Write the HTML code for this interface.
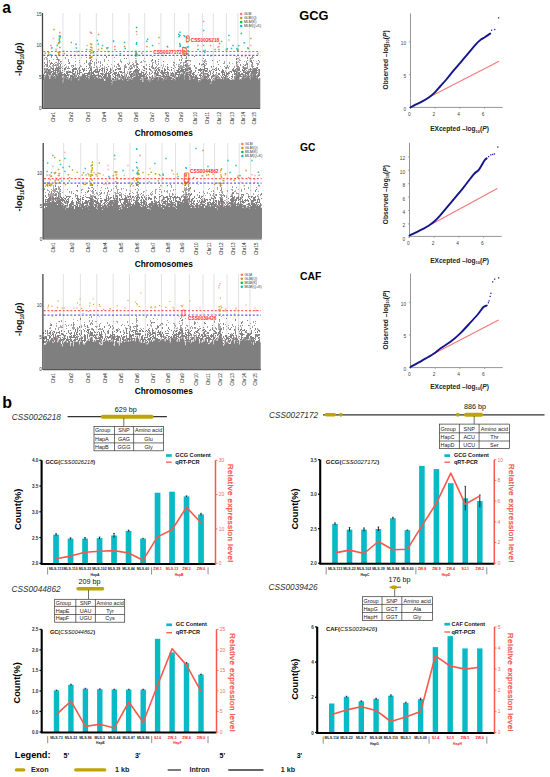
<!DOCTYPE html>
<html><head><meta charset="utf-8"><style>
html,body{margin:0;padding:0;background:#fff;}
svg{display:block;}
text{font-family:"Liberation Sans",sans-serif;}
</style></head><body>
<svg width="550" height="777" viewBox="0 0 550 777">
<rect width="550" height="777" fill="#fff"/>
<text x="2.3" y="13.2" font-size="15.6" font-weight="bold" font-style="normal" fill="#000" text-anchor="start" >a</text>
<text x="2.2" y="408.0" font-size="16" font-weight="bold" font-style="normal" fill="#000" text-anchor="start" >b</text>
<line x1="62.89999999999999" y1="13" x2="62.89999999999999" y2="108" stroke="#d9d9d9" stroke-width="0.8"/>
<line x1="79.9" y1="13" x2="79.9" y2="108" stroke="#d9d9d9" stroke-width="0.8"/>
<line x1="96.3" y1="13" x2="96.3" y2="108" stroke="#d9d9d9" stroke-width="0.8"/>
<line x1="112.7" y1="13" x2="112.7" y2="108" stroke="#d9d9d9" stroke-width="0.8"/>
<line x1="129.0" y1="13" x2="129.0" y2="108" stroke="#d9d9d9" stroke-width="0.8"/>
<line x1="144.7" y1="13" x2="144.7" y2="108" stroke="#d9d9d9" stroke-width="0.8"/>
<line x1="160.9" y1="13" x2="160.9" y2="108" stroke="#d9d9d9" stroke-width="0.8"/>
<line x1="174.4" y1="13" x2="174.4" y2="108" stroke="#d9d9d9" stroke-width="0.8"/>
<line x1="188.8" y1="13" x2="188.8" y2="108" stroke="#d9d9d9" stroke-width="0.8"/>
<line x1="202.39999999999998" y1="13" x2="202.39999999999998" y2="108" stroke="#d9d9d9" stroke-width="0.8"/>
<line x1="213.3" y1="13" x2="213.3" y2="108" stroke="#d9d9d9" stroke-width="0.8"/>
<line x1="226.4" y1="13" x2="226.4" y2="108" stroke="#d9d9d9" stroke-width="0.8"/>
<line x1="237.9" y1="13" x2="237.9" y2="108" stroke="#d9d9d9" stroke-width="0.8"/>
<line x1="249.3" y1="13" x2="249.3" y2="108" stroke="#d9d9d9" stroke-width="0.8"/>
<path d="M43.3,108.0 L43.3,79.2 L44.3,79.2 L44.3,76.6 L45.3,76.6 L45.3,74.4 L46.3,74.4 L46.3,72.5 L47.3,72.5 L47.3,72.1 L48.3,72.1 L48.3,75.4 L49.3,75.4 L49.3,78.7 L50.3,78.7 L50.3,75.4 L51.3,75.4 L51.3,74.3 L52.3,74.3 L52.3,75.5 L53.3,75.5 L53.3,76.6 L54.3,76.6 L54.3,78.4 L55.3,78.4 L55.3,75.1 L56.3,75.1 L56.3,75.9 L57.3,75.9 L57.3,72.2 L58.3,72.2 L58.3,72.7 L59.3,72.7 L59.3,69.5 L60.3,69.5 L60.3,71.4 L61.3,71.4 L61.3,77.2 L62.3,77.2 L62.3,82.6 L63.3,82.6 L63.3,76.7 L64.3,76.7 L64.3,77.4 L65.3,77.4 L65.3,78.3 L66.3,78.3 L66.3,78.6 L67.3,78.6 L67.3,80.0 L68.3,80.0 L68.3,78.7 L69.3,78.7 L69.3,80.8 L70.3,80.8 L70.3,80.7 L71.3,80.7 L71.3,76.8 L72.3,76.8 L72.3,76.0 L73.3,76.0 L73.3,75.5 L74.3,75.5 L74.3,77.5 L75.3,77.5 L75.3,74.3 L76.3,74.3 L76.3,77.9 L77.3,77.9 L77.3,81.0 L78.3,81.0 L78.3,79.5 L79.3,79.5 L79.3,76.1 L80.3,76.1 L80.3,76.6 L81.3,76.6 L81.3,75.6 L82.3,75.6 L82.3,76.3 L83.3,76.3 L83.3,77.0 L84.3,77.0 L84.3,78.8 L85.3,78.8 L85.3,77.5 L86.3,77.5 L86.3,76.4 L87.3,76.4 L87.3,75.1 L88.3,75.1 L88.3,79.3 L89.3,79.3 L89.3,75.6 L90.3,75.6 L90.3,72.0 L91.3,72.0 L91.3,74.4 L92.3,74.4 L92.3,76.0 L93.3,76.0 L93.3,76.4 L94.3,76.4 L94.3,78.5 L95.3,78.5 L95.3,77.2 L96.3,77.2 L96.3,76.7 L97.3,76.7 L97.3,79.2 L98.3,79.2 L98.3,78.0 L99.3,78.0 L99.3,77.5 L100.3,77.5 L100.3,78.7 L101.3,78.7 L101.3,78.0 L102.3,78.0 L102.3,77.0 L103.3,77.0 L103.3,80.4 L104.3,80.4 L104.3,81.0 L105.3,81.0 L105.3,77.2 L106.3,77.2 L106.3,75.4 L107.3,75.4 L107.3,76.9 L108.3,76.9 L108.3,77.3 L109.3,77.3 L109.3,76.8 L110.3,76.8 L110.3,77.3 L111.3,77.3 L111.3,84.2 L112.3,84.2 L112.3,80.6 L113.3,80.6 L113.3,80.4 L114.3,80.4 L114.3,78.9 L115.3,78.9 L115.3,80.6 L116.3,80.6 L116.3,77.6 L117.3,77.6 L117.3,77.5 L118.3,77.5 L118.3,79.7 L119.3,79.7 L119.3,79.3 L120.3,79.3 L120.3,76.1 L121.3,76.1 L121.3,78.6 L122.3,78.6 L122.3,80.2 L123.3,80.2 L123.3,79.3 L124.3,79.3 L124.3,73.2 L125.3,73.2 L125.3,76.7 L126.3,76.7 L126.3,78.9 L127.3,78.9 L127.3,80.7 L128.3,80.7 L128.3,77.1 L129.3,77.1 L129.3,78.8 L130.3,78.8 L130.3,78.5 L131.3,78.5 L131.3,79.7 L132.3,79.7 L132.3,77.9 L133.3,77.9 L133.3,76.3 L134.3,76.3 L134.3,77.0 L135.3,77.0 L135.3,72.4 L136.3,72.4 L136.3,72.0 L137.3,72.0 L137.3,73.6 L138.3,73.6 L138.3,78.1 L139.3,78.1 L139.3,78.4 L140.3,78.4 L140.3,79.9 L141.3,79.9 L141.3,77.4 L142.3,77.4 L142.3,81.9 L143.3,81.9 L143.3,77.1 L144.3,77.1 L144.3,77.6 L145.3,77.6 L145.3,79.2 L146.3,79.2 L146.3,78.3 L147.3,78.3 L147.3,81.1 L148.3,81.1 L148.3,79.2 L149.3,79.2 L149.3,81.4 L150.3,81.4 L150.3,78.3 L151.3,78.3 L151.3,77.6 L152.3,77.6 L152.3,79.8 L153.3,79.8 L153.3,77.0 L154.3,77.0 L154.3,77.7 L155.3,77.7 L155.3,75.5 L156.3,75.5 L156.3,76.7 L157.3,76.7 L157.3,80.3 L158.3,80.3 L158.3,76.4 L159.3,76.4 L159.3,76.8 L160.3,76.8 L160.3,78.1 L161.3,78.1 L161.3,77.4 L162.3,77.4 L162.3,80.2 L163.3,80.2 L163.3,78.6 L164.3,78.6 L164.3,76.1 L165.3,76.1 L165.3,79.2 L166.3,79.2 L166.3,76.8 L167.3,76.8 L167.3,77.0 L168.3,77.0 L168.3,77.5 L169.3,77.5 L169.3,77.1 L170.3,77.1 L170.3,76.6 L171.3,76.6 L171.3,80.0 L172.3,80.0 L172.3,77.7 L173.3,77.7 L173.3,79.6 L174.3,79.6 L174.3,80.2 L175.3,80.2 L175.3,75.9 L176.3,75.9 L176.3,76.9 L177.3,76.9 L177.3,78.2 L178.3,78.2 L178.3,77.3 L179.3,77.3 L179.3,75.2 L180.3,75.2 L180.3,73.9 L181.3,73.9 L181.3,72.7 L182.3,72.7 L182.3,73.7 L183.3,73.7 L183.3,79.7 L184.3,79.7 L184.3,74.8 L185.3,74.8 L185.3,72.2 L186.3,72.2 L186.3,71.6 L187.3,71.6 L187.3,71.8 L188.3,71.8 L188.3,75.9 L189.3,75.9 L189.3,79.7 L190.3,79.7 L190.3,76.8 L191.3,76.8 L191.3,77.1 L192.3,77.1 L192.3,78.0 L193.3,78.0 L193.3,79.1 L194.3,79.1 L194.3,76.0 L195.3,76.0 L195.3,80.2 L196.3,80.2 L196.3,80.2 L197.3,80.2 L197.3,80.4 L198.3,80.4 L198.3,81.4 L199.3,81.4 L199.3,81.0 L200.3,81.0 L200.3,79.2 L201.3,79.2 L201.3,77.0 L202.3,77.0 L202.3,78.6 L203.3,78.6 L203.3,75.9 L204.3,75.9 L204.3,72.7 L205.3,72.7 L205.3,78.4 L206.3,78.4 L206.3,78.5 L207.3,78.5 L207.3,79.4 L208.3,79.4 L208.3,80.8 L209.3,80.8 L209.3,81.4 L210.3,81.4 L210.3,83.7 L211.3,83.7 L211.3,81.1 L212.3,81.1 L212.3,79.1 L213.3,79.1 L213.3,81.1 L214.3,81.1 L214.3,77.5 L215.3,77.5 L215.3,74.1 L216.3,74.1 L216.3,78.1 L217.3,78.1 L217.3,78.7 L218.3,78.7 L218.3,77.1 L219.3,77.1 L219.3,78.6 L220.3,78.6 L220.3,80.2 L221.3,80.2 L221.3,80.8 L222.3,80.8 L222.3,80.1 L223.3,80.1 L223.3,78.6 L224.3,78.6 L224.3,79.0 L225.3,79.0 L225.3,79.6 L226.3,79.6 L226.3,75.7 L227.3,75.7 L227.3,79.0 L228.3,79.0 L228.3,80.0 L229.3,80.0 L229.3,80.0 L230.3,80.0 L230.3,79.8 L231.3,79.8 L231.3,79.7 L232.3,79.7 L232.3,78.7 L233.3,78.7 L233.3,79.8 L234.3,79.8 L234.3,77.8 L235.3,77.8 L235.3,75.3 L236.3,75.3 L236.3,75.1 L237.3,75.1 L237.3,69.6 L238.3,69.6 L238.3,73.1 L239.3,73.1 L239.3,79.5 L240.3,79.5 L240.3,80.1 L241.3,80.1 L241.3,77.8 L242.3,77.8 L242.3,75.6 L243.3,75.6 L243.3,78.2 L244.3,78.2 L244.3,76.8 L245.3,76.8 L245.3,77.6 L246.3,77.6 L246.3,74.8 L247.3,74.8 L247.3,75.7 L248.3,75.7 L248.3,75.7 L249.3,75.7 L249.3,79.8 L250.3,79.8 L250.3,77.0 L251.3,77.0 L251.3,76.9 L252.3,76.9 L252.3,73.8 L253.3,73.8 L253.3,74.3 L254.3,74.3 L254.3,74.1 L255.3,74.1 L255.3,75.7 L256.3,75.7 L256.3,77.6 L257.3,77.6 L257.3,80.1 L258.3,80.1 L258.3,78.6 L259.3,78.6 L259.3,77.8 L260.3,77.8 L260.3,108.0 Z" fill="#7f7f7f"/>
<path d="M43 78h1v2h-1zM43 76h1v2h-1zM43 75h1v1h-1zM43 74h1v1h-1zM44 75h1v1h-1zM44 72h1v2h-1zM44 71h1v2h-1zM44 69h1v1h-1zM44 68h1v1h-1zM45 72h1v1h-1zM45 71h1v2h-1zM45 70h1v1h-1zM45 64h1v1h-1zM46 71h1v2h-1zM46 70h1v2h-1zM46 69h1v1h-1zM47 71h1v2h-1zM47 69h1v2h-1zM47 68h1v1h-1zM47 66h1v1h-1zM47 64h1v2h-1zM47 62h1v2h-1zM48 73h1v2h-1zM48 72h1v2h-1zM48 71h1v2h-1zM48 70h1v1h-1zM48 69h1v1h-1zM49 74h1v1h-1zM49 72h1v2h-1zM49 71h1v2h-1zM49 69h1v2h-1zM49 60h1v2h-1zM50 73h1v2h-1zM50 72h1v1h-1zM50 70h1v1h-1zM50 63h1v2h-1zM51 72h1v1h-1zM51 71h1v1h-1zM51 68h1v1h-1zM51 62h1v2h-1zM52 74h1v1h-1zM52 73h1v1h-1zM52 71h1v1h-1zM52 69h1v1h-1zM52 68h1v2h-1zM52 63h1v1h-1zM53 75h1v1h-1zM53 74h1v1h-1zM53 73h1v2h-1zM53 72h1v1h-1zM53 71h1v1h-1zM53 70h1v1h-1zM53 69h1v1h-1zM53 68h1v1h-1zM53 64h1v1h-1zM54 77h1v2h-1zM54 76h1v2h-1zM54 74h1v1h-1zM54 73h1v1h-1zM54 72h1v1h-1zM54 70h1v1h-1zM55 74h1v2h-1zM55 73h1v1h-1zM55 72h1v1h-1zM55 71h1v2h-1zM55 70h1v1h-1zM55 69h1v1h-1zM55 68h1v1h-1zM55 65h1v1h-1zM56 74h1v2h-1zM56 70h1v1h-1zM56 68h1v1h-1zM56 67h1v2h-1zM56 66h1v2h-1zM56 62h1v1h-1zM57 71h1v2h-1zM57 70h1v1h-1zM57 68h1v2h-1zM57 59h1v1h-1zM58 71h1v1h-1zM58 70h1v1h-1zM58 69h1v2h-1zM58 68h1v1h-1zM58 67h1v1h-1zM58 66h1v1h-1zM58 59h1v2h-1zM59 68h1v1h-1zM59 67h1v1h-1zM59 63h1v1h-1zM60 70h1v2h-1zM60 68h1v2h-1zM60 64h1v2h-1zM60 61h1v1h-1zM61 76h1v2h-1zM61 75h1v1h-1zM61 74h1v2h-1zM61 73h1v1h-1zM61 72h1v2h-1zM62 81h1v1h-1zM62 79h1v2h-1zM62 78h1v2h-1zM62 75h1v1h-1zM62 74h1v2h-1zM62 72h1v1h-1zM62 70h1v1h-1zM62 68h1v1h-1zM63 74h1v2h-1zM64 75h1v2h-1zM64 74h1v1h-1zM64 73h1v1h-1zM64 68h1v2h-1zM65 77h1v2h-1zM65 76h1v2h-1zM65 75h1v2h-1zM65 74h1v2h-1zM65 68h1v2h-1zM66 76h1v2h-1zM66 75h1v1h-1zM66 72h1v2h-1zM66 71h1v1h-1zM66 67h1v1h-1zM67 78h1v2h-1zM67 77h1v2h-1zM67 75h1v1h-1zM67 74h1v2h-1zM67 73h1v2h-1zM67 71h1v2h-1zM67 68h1v1h-1zM68 75h1v1h-1zM68 74h1v2h-1zM68 71h1v2h-1zM68 61h1v1h-1zM69 79h1v2h-1zM69 78h1v1h-1zM69 71h1v2h-1zM69 68h1v1h-1zM69 62h1v2h-1zM70 79h1v2h-1zM70 78h1v1h-1zM70 77h1v2h-1zM70 76h1v1h-1zM70 75h1v1h-1zM70 71h1v2h-1zM71 75h1v2h-1zM71 72h1v1h-1zM72 75h1v2h-1zM72 73h1v2h-1zM72 72h1v1h-1zM72 71h1v1h-1zM72 70h1v2h-1zM72 69h1v1h-1zM73 73h1v2h-1zM73 71h1v1h-1zM73 70h1v1h-1zM73 68h1v2h-1zM73 65h1v2h-1zM74 75h1v2h-1zM74 74h1v1h-1zM74 73h1v1h-1zM74 69h1v1h-1zM74 68h1v1h-1zM75 72h1v1h-1zM75 71h1v1h-1zM75 68h1v2h-1zM75 61h1v1h-1zM76 75h1v2h-1zM76 68h1v2h-1zM77 80h1v1h-1zM77 79h1v1h-1zM77 78h1v1h-1zM77 77h1v2h-1zM77 74h1v1h-1zM77 72h1v2h-1zM77 71h1v1h-1zM77 70h1v2h-1zM78 78h1v1h-1zM78 76h1v2h-1zM78 75h1v1h-1zM78 73h1v1h-1zM79 74h1v1h-1zM79 73h1v1h-1zM79 71h1v2h-1zM79 70h1v1h-1zM79 67h1v2h-1zM80 72h1v1h-1zM80 70h1v1h-1zM81 72h1v1h-1zM82 75h1v2h-1zM82 74h1v2h-1zM82 68h1v2h-1zM83 76h1v1h-1zM83 75h1v2h-1zM83 74h1v1h-1zM83 71h1v1h-1zM83 69h1v2h-1zM84 77h1v2h-1zM84 76h1v1h-1zM84 75h1v2h-1zM84 74h1v2h-1zM84 73h1v1h-1zM84 69h1v2h-1zM84 68h1v2h-1zM85 76h1v2h-1zM85 75h1v1h-1zM85 73h1v1h-1zM86 75h1v1h-1zM86 73h1v1h-1zM86 70h1v1h-1zM86 66h1v1h-1zM86 61h1v2h-1zM86 57h1v1h-1zM87 74h1v2h-1zM87 73h1v1h-1zM88 78h1v1h-1zM88 76h1v1h-1zM88 74h1v1h-1zM88 73h1v2h-1zM88 72h1v2h-1zM88 68h1v1h-1zM89 74h1v1h-1zM89 73h1v1h-1zM89 72h1v1h-1zM89 71h1v2h-1zM89 70h1v2h-1zM89 67h1v1h-1zM89 65h1v1h-1zM90 70h1v1h-1zM90 69h1v1h-1zM90 68h1v1h-1zM90 63h1v2h-1zM90 62h1v1h-1zM90 60h1v1h-1zM90 58h1v1h-1zM90 57h1v2h-1zM91 73h1v2h-1zM91 72h1v2h-1zM91 71h1v1h-1zM91 70h1v2h-1zM91 69h1v1h-1zM91 68h1v1h-1zM91 63h1v1h-1zM91 57h1v1h-1zM92 75h1v1h-1zM92 73h1v1h-1zM92 72h1v1h-1zM92 61h1v1h-1zM93 75h1v1h-1zM93 74h1v1h-1zM93 73h1v1h-1zM93 72h1v1h-1zM93 71h1v1h-1zM94 77h1v1h-1zM94 76h1v2h-1zM94 75h1v2h-1zM94 74h1v2h-1zM94 70h1v2h-1zM95 76h1v2h-1zM95 75h1v1h-1zM95 71h1v2h-1zM95 70h1v2h-1zM95 69h1v1h-1zM96 75h1v1h-1zM96 72h1v1h-1zM96 71h1v2h-1zM96 69h1v1h-1zM96 66h1v2h-1zM96 62h1v2h-1zM97 78h1v2h-1zM97 75h1v1h-1zM97 71h1v2h-1zM97 70h1v1h-1zM97 69h1v2h-1zM98 77h1v1h-1zM98 76h1v1h-1zM98 74h1v2h-1zM98 73h1v1h-1zM98 72h1v2h-1zM98 71h1v1h-1zM99 75h1v2h-1zM99 71h1v1h-1zM99 69h1v2h-1zM100 76h1v1h-1zM100 75h1v1h-1zM100 73h1v1h-1zM100 69h1v1h-1zM100 66h1v1h-1zM100 62h1v2h-1zM101 77h1v1h-1zM101 76h1v1h-1zM101 74h1v1h-1zM101 73h1v1h-1zM101 70h1v1h-1zM101 68h1v1h-1zM102 75h1v1h-1zM102 74h1v2h-1zM102 73h1v1h-1zM102 71h1v1h-1zM102 70h1v1h-1zM102 69h1v2h-1zM102 68h1v1h-1zM103 79h1v2h-1zM103 76h1v2h-1zM103 74h1v1h-1zM104 78h1v1h-1zM104 77h1v1h-1zM104 75h1v2h-1zM104 74h1v1h-1zM104 72h1v1h-1zM104 71h1v1h-1zM104 70h1v1h-1zM104 69h1v1h-1zM105 76h1v2h-1zM105 75h1v2h-1zM105 74h1v1h-1zM105 73h1v1h-1zM106 74h1v2h-1zM106 73h1v1h-1zM106 71h1v2h-1zM106 69h1v1h-1zM106 67h1v1h-1zM106 56h1v2h-1zM107 73h1v1h-1zM107 70h1v1h-1zM107 69h1v2h-1zM108 76h1v1h-1zM108 75h1v1h-1zM108 73h1v2h-1zM108 72h1v1h-1zM108 66h1v1h-1zM109 75h1v2h-1zM109 74h1v1h-1zM109 73h1v1h-1zM109 71h1v1h-1zM110 76h1v1h-1zM110 75h1v1h-1zM110 73h1v1h-1zM110 71h1v2h-1zM110 70h1v1h-1zM110 68h1v2h-1zM111 83h1v1h-1zM111 81h1v1h-1zM111 80h1v1h-1zM111 72h1v1h-1zM112 79h1v1h-1zM112 78h1v1h-1zM112 74h1v2h-1zM113 79h1v1h-1zM113 78h1v1h-1zM113 76h1v1h-1zM113 73h1v1h-1zM113 70h1v2h-1zM114 77h1v1h-1zM114 74h1v1h-1zM114 72h1v2h-1zM115 79h1v1h-1zM115 78h1v2h-1zM115 77h1v1h-1zM115 76h1v1h-1zM115 75h1v1h-1zM115 73h1v2h-1zM115 72h1v1h-1zM115 70h1v1h-1zM115 69h1v2h-1zM116 75h1v1h-1zM116 73h1v1h-1zM116 72h1v2h-1zM116 69h1v1h-1zM117 76h1v1h-1zM117 74h1v2h-1zM117 68h1v1h-1zM117 64h1v1h-1zM118 77h1v1h-1zM118 75h1v1h-1zM118 74h1v1h-1zM118 73h1v1h-1zM118 72h1v1h-1zM118 68h1v2h-1zM118 64h1v2h-1zM119 77h1v1h-1zM119 76h1v2h-1zM119 75h1v2h-1zM119 74h1v2h-1zM119 71h1v1h-1zM119 68h1v2h-1zM120 72h1v1h-1zM120 71h1v2h-1zM120 69h1v1h-1zM120 68h1v2h-1zM120 61h1v1h-1zM121 77h1v1h-1zM121 74h1v2h-1zM121 72h1v1h-1zM121 71h1v2h-1zM122 77h1v2h-1zM122 76h1v1h-1zM122 75h1v2h-1zM123 78h1v2h-1zM123 76h1v2h-1zM123 72h1v1h-1zM124 72h1v1h-1zM124 70h1v2h-1zM124 68h1v2h-1zM124 66h1v1h-1zM124 58h1v1h-1zM125 66h1v2h-1zM126 76h1v1h-1zM126 75h1v1h-1zM126 74h1v1h-1zM126 58h1v1h-1zM127 79h1v1h-1zM127 78h1v2h-1zM127 77h1v2h-1zM127 72h1v2h-1zM128 76h1v1h-1zM128 69h1v1h-1zM128 64h1v1h-1zM129 77h1v1h-1zM129 73h1v2h-1zM129 72h1v2h-1zM130 75h1v2h-1zM130 74h1v1h-1zM130 71h1v2h-1zM130 68h1v2h-1zM131 78h1v1h-1zM131 77h1v1h-1zM131 76h1v1h-1zM131 74h1v2h-1zM131 73h1v2h-1zM131 71h1v1h-1zM131 68h1v1h-1zM132 76h1v1h-1zM132 74h1v2h-1zM132 73h1v1h-1zM132 64h1v1h-1zM133 75h1v1h-1zM133 72h1v2h-1zM133 71h1v2h-1zM134 75h1v1h-1zM134 74h1v2h-1zM134 71h1v1h-1zM134 70h1v1h-1zM135 71h1v2h-1zM135 70h1v1h-1zM135 69h1v1h-1zM136 71h1v1h-1zM136 70h1v2h-1zM136 69h1v2h-1zM136 68h1v1h-1zM136 66h1v1h-1zM136 64h1v1h-1zM137 72h1v1h-1zM137 71h1v1h-1zM137 70h1v2h-1zM137 69h1v1h-1zM137 66h1v2h-1zM137 63h1v2h-1zM138 77h1v2h-1zM138 76h1v2h-1zM138 74h1v1h-1zM138 73h1v2h-1zM138 72h1v1h-1zM138 70h1v2h-1zM138 68h1v1h-1zM139 77h1v2h-1zM139 76h1v2h-1zM139 75h1v2h-1zM139 74h1v1h-1zM139 73h1v2h-1zM139 69h1v1h-1zM140 78h1v1h-1zM140 77h1v1h-1zM140 76h1v1h-1zM140 75h1v1h-1zM140 73h1v2h-1zM141 76h1v1h-1zM141 75h1v1h-1zM141 74h1v1h-1zM141 73h1v2h-1zM141 72h1v2h-1zM141 71h1v1h-1zM142 76h1v1h-1zM142 75h1v1h-1zM142 72h1v1h-1zM143 76h1v2h-1zM143 75h1v2h-1zM143 73h1v2h-1zM143 72h1v1h-1zM143 70h1v1h-1zM143 66h1v2h-1zM144 76h1v1h-1zM144 75h1v1h-1zM144 74h1v1h-1zM144 70h1v1h-1zM144 68h1v1h-1zM145 78h1v1h-1zM145 77h1v2h-1zM145 73h1v2h-1zM146 77h1v2h-1zM146 76h1v1h-1zM146 75h1v1h-1zM146 71h1v2h-1zM146 68h1v2h-1zM147 80h1v1h-1zM147 78h1v2h-1zM147 77h1v2h-1zM147 74h1v1h-1zM149 80h1v1h-1zM149 77h1v1h-1zM149 76h1v2h-1zM149 73h1v1h-1zM149 72h1v2h-1zM149 69h1v1h-1zM149 68h1v2h-1zM149 66h1v1h-1zM150 77h1v1h-1zM150 70h1v1h-1zM150 69h1v1h-1zM151 73h1v1h-1zM151 71h1v1h-1zM151 67h1v1h-1zM152 78h1v1h-1zM152 77h1v2h-1zM152 76h1v2h-1zM152 75h1v1h-1zM152 72h1v1h-1zM152 68h1v1h-1zM152 65h1v2h-1zM152 59h1v2h-1zM153 67h1v2h-1zM154 73h1v1h-1zM154 72h1v2h-1zM155 73h1v1h-1zM155 72h1v1h-1zM155 70h1v2h-1zM155 68h1v1h-1zM155 60h1v2h-1zM156 74h1v2h-1zM156 73h1v1h-1zM156 70h1v1h-1zM156 69h1v1h-1zM157 79h1v1h-1zM157 78h1v1h-1zM157 77h1v2h-1zM157 75h1v1h-1zM157 74h1v1h-1zM157 73h1v1h-1zM157 72h1v1h-1zM157 71h1v2h-1zM157 68h1v1h-1zM158 75h1v1h-1zM158 74h1v2h-1zM158 72h1v2h-1zM158 70h1v1h-1zM158 69h1v1h-1zM158 61h1v1h-1zM158 59h1v1h-1zM159 75h1v1h-1zM159 70h1v1h-1zM159 69h1v1h-1zM160 77h1v2h-1zM160 75h1v2h-1zM160 72h1v1h-1zM161 76h1v1h-1zM161 73h1v1h-1zM161 72h1v1h-1zM161 71h1v1h-1zM161 70h1v1h-1zM162 79h1v1h-1zM162 78h1v2h-1zM162 76h1v1h-1zM162 74h1v2h-1zM162 73h1v2h-1zM162 72h1v1h-1zM162 71h1v1h-1zM162 70h1v2h-1zM163 77h1v1h-1zM163 76h1v1h-1zM163 75h1v1h-1zM163 74h1v2h-1zM163 73h1v2h-1zM163 72h1v2h-1zM163 61h1v1h-1zM164 75h1v2h-1zM164 72h1v2h-1zM164 71h1v2h-1zM164 69h1v2h-1zM164 68h1v1h-1zM165 78h1v1h-1zM165 77h1v2h-1zM165 76h1v1h-1zM165 74h1v1h-1zM165 72h1v2h-1zM165 70h1v1h-1zM165 69h1v2h-1zM166 75h1v2h-1zM166 74h1v2h-1zM166 72h1v1h-1zM167 76h1v2h-1zM167 75h1v1h-1zM167 73h1v1h-1zM167 72h1v2h-1zM167 71h1v2h-1zM167 69h1v1h-1zM167 68h1v1h-1zM167 67h1v2h-1zM167 64h1v1h-1zM168 76h1v2h-1zM168 75h1v1h-1zM168 74h1v1h-1zM168 72h1v2h-1zM168 69h1v1h-1zM169 76h1v2h-1zM169 70h1v1h-1zM170 75h1v1h-1zM171 78h1v1h-1zM171 77h1v1h-1zM171 74h1v2h-1zM171 73h1v1h-1zM171 69h1v2h-1zM171 67h1v1h-1zM172 75h1v2h-1zM172 72h1v2h-1zM173 78h1v2h-1zM173 76h1v1h-1zM173 75h1v1h-1zM173 74h1v2h-1zM173 73h1v2h-1zM173 68h1v1h-1zM173 62h1v1h-1zM174 79h1v1h-1zM174 77h1v1h-1zM174 76h1v1h-1zM174 71h1v1h-1zM175 74h1v2h-1zM175 73h1v1h-1zM175 72h1v2h-1zM176 73h1v2h-1zM176 72h1v1h-1zM176 70h1v1h-1zM177 77h1v2h-1zM177 74h1v1h-1zM177 71h1v2h-1zM177 70h1v2h-1zM178 76h1v2h-1zM178 75h1v1h-1zM178 74h1v1h-1zM178 71h1v2h-1zM178 70h1v2h-1zM178 68h1v2h-1zM178 66h1v1h-1zM179 73h1v2h-1zM179 72h1v1h-1zM179 71h1v2h-1zM179 69h1v1h-1zM180 71h1v2h-1zM180 70h1v1h-1zM180 68h1v1h-1zM181 71h1v1h-1zM181 70h1v2h-1zM181 69h1v1h-1zM181 68h1v1h-1zM181 59h1v2h-1zM182 71h1v2h-1zM182 70h1v1h-1zM182 69h1v1h-1zM182 68h1v1h-1zM183 78h1v2h-1zM183 77h1v1h-1zM183 76h1v1h-1zM183 75h1v2h-1zM183 74h1v1h-1zM183 73h1v2h-1zM183 72h1v2h-1zM183 71h1v1h-1zM183 69h1v2h-1zM183 65h1v2h-1zM184 73h1v1h-1zM184 72h1v2h-1zM184 71h1v2h-1zM184 69h1v1h-1zM185 71h1v1h-1zM185 70h1v1h-1zM185 69h1v2h-1zM185 68h1v2h-1zM185 65h1v1h-1zM185 64h1v1h-1zM185 62h1v1h-1zM185 61h1v2h-1zM186 70h1v1h-1zM186 69h1v2h-1zM186 68h1v1h-1zM186 66h1v1h-1zM186 65h1v2h-1zM186 60h1v2h-1zM186 57h1v2h-1zM187 70h1v1h-1zM187 69h1v1h-1zM187 68h1v1h-1zM187 60h1v1h-1zM188 74h1v1h-1zM188 72h1v1h-1zM188 68h1v2h-1zM189 75h1v1h-1zM189 74h1v2h-1zM189 72h1v2h-1zM189 71h1v1h-1zM189 69h1v1h-1zM189 68h1v1h-1zM189 67h1v1h-1zM190 75h1v2h-1zM190 74h1v1h-1zM190 73h1v1h-1zM190 72h1v1h-1zM190 71h1v1h-1zM190 69h1v2h-1zM190 68h1v2h-1zM191 76h1v1h-1zM191 75h1v1h-1zM191 73h1v1h-1zM191 70h1v2h-1zM192 77h1v2h-1zM192 76h1v2h-1zM192 73h1v2h-1zM193 77h1v1h-1zM193 76h1v2h-1zM193 75h1v1h-1zM193 74h1v1h-1zM193 73h1v1h-1zM193 72h1v1h-1zM194 74h1v1h-1zM194 72h1v1h-1zM194 65h1v2h-1zM194 56h1v1h-1zM195 79h1v2h-1zM195 78h1v1h-1zM195 77h1v1h-1zM195 76h1v1h-1zM195 75h1v1h-1zM195 70h1v2h-1zM196 79h1v2h-1zM196 77h1v2h-1zM196 76h1v1h-1zM196 75h1v1h-1zM197 79h1v2h-1zM197 78h1v1h-1zM197 77h1v1h-1zM198 78h1v1h-1zM198 72h1v1h-1zM198 69h1v2h-1zM199 80h1v1h-1zM199 78h1v1h-1zM199 75h1v1h-1zM199 70h1v1h-1zM199 69h1v1h-1zM199 63h1v2h-1zM200 78h1v1h-1zM200 75h1v2h-1zM200 74h1v2h-1zM200 70h1v2h-1zM200 69h1v1h-1zM200 68h1v1h-1zM201 75h1v1h-1zM201 73h1v1h-1zM201 72h1v2h-1zM201 70h1v1h-1zM201 69h1v1h-1zM202 76h1v1h-1zM202 69h1v1h-1zM202 64h1v1h-1zM203 74h1v2h-1zM203 73h1v1h-1zM203 72h1v1h-1zM203 71h1v1h-1zM203 70h1v2h-1zM203 69h1v1h-1zM203 64h1v1h-1zM203 63h1v1h-1zM203 58h1v1h-1zM204 70h1v1h-1zM204 69h1v1h-1zM204 68h1v1h-1zM204 67h1v2h-1zM204 65h1v2h-1zM204 62h1v1h-1zM205 77h1v2h-1zM205 75h1v2h-1zM205 73h1v1h-1zM205 70h1v2h-1zM205 68h1v1h-1zM206 77h1v1h-1zM206 76h1v2h-1zM206 73h1v1h-1zM206 70h1v2h-1zM206 68h1v1h-1zM207 78h1v1h-1zM207 75h1v2h-1zM207 74h1v2h-1zM207 73h1v2h-1zM207 68h1v2h-1zM208 79h1v2h-1zM208 77h1v1h-1zM208 76h1v1h-1zM208 75h1v1h-1zM208 74h1v2h-1zM208 72h1v1h-1zM209 80h1v2h-1zM209 79h1v1h-1zM209 78h1v1h-1zM209 75h1v1h-1zM209 70h1v2h-1zM210 82h1v1h-1zM210 81h1v1h-1zM210 80h1v2h-1zM210 79h1v1h-1zM210 73h1v2h-1zM210 72h1v2h-1zM210 71h1v1h-1zM211 78h1v1h-1zM211 77h1v1h-1zM211 76h1v1h-1zM211 70h1v1h-1zM211 66h1v1h-1zM212 76h1v1h-1zM212 75h1v1h-1zM212 73h1v1h-1zM212 69h1v1h-1zM212 60h1v1h-1zM213 80h1v2h-1zM213 78h1v1h-1zM213 76h1v1h-1zM213 75h1v1h-1zM213 74h1v1h-1zM213 71h1v2h-1zM213 66h1v1h-1zM214 75h1v1h-1zM214 69h1v1h-1zM215 70h1v1h-1zM215 68h1v1h-1zM216 77h1v1h-1zM216 76h1v2h-1zM216 75h1v2h-1zM216 72h1v2h-1zM216 70h1v1h-1zM216 69h1v1h-1zM217 77h1v1h-1zM217 75h1v1h-1zM218 76h1v1h-1zM218 73h1v2h-1zM218 69h1v1h-1zM218 68h1v1h-1zM218 64h1v1h-1zM219 77h1v1h-1zM219 74h1v1h-1zM219 73h1v2h-1zM219 70h1v1h-1zM220 79h1v2h-1zM221 79h1v2h-1zM221 77h1v1h-1zM221 76h1v2h-1zM221 72h1v1h-1zM221 71h1v1h-1zM222 79h1v2h-1zM222 78h1v1h-1zM222 77h1v2h-1zM222 75h1v1h-1zM222 74h1v2h-1zM222 72h1v2h-1zM222 71h1v1h-1zM222 70h1v1h-1zM222 69h1v1h-1zM223 76h1v2h-1zM223 74h1v1h-1zM223 71h1v2h-1zM223 70h1v1h-1zM224 77h1v2h-1zM224 75h1v1h-1zM224 74h1v1h-1zM224 72h1v2h-1zM225 78h1v2h-1zM225 77h1v2h-1zM225 75h1v2h-1zM226 74h1v2h-1zM226 73h1v1h-1zM226 72h1v1h-1zM226 67h1v2h-1zM227 78h1v1h-1zM227 76h1v1h-1zM227 74h1v1h-1zM227 73h1v1h-1zM227 65h1v1h-1zM228 79h1v2h-1zM228 78h1v1h-1zM228 75h1v1h-1zM228 72h1v2h-1zM229 79h1v2h-1zM229 77h1v1h-1zM229 72h1v2h-1zM230 71h1v1h-1zM231 78h1v1h-1zM231 76h1v1h-1zM231 72h1v1h-1zM231 71h1v1h-1zM232 77h1v1h-1zM232 76h1v1h-1zM232 74h1v1h-1zM232 69h1v2h-1zM233 71h1v1h-1zM233 70h1v1h-1zM233 68h1v2h-1zM234 76h1v2h-1zM234 74h1v1h-1zM234 73h1v1h-1zM234 72h1v1h-1zM234 70h1v2h-1zM235 74h1v1h-1zM235 73h1v1h-1zM235 71h1v1h-1zM235 70h1v2h-1zM235 69h1v1h-1zM236 74h1v1h-1zM236 72h1v2h-1zM236 71h1v1h-1zM236 70h1v2h-1zM236 68h1v2h-1zM236 62h1v2h-1zM236 58h1v2h-1zM237 68h1v2h-1zM237 66h1v2h-1zM238 72h1v1h-1zM238 70h1v1h-1zM238 69h1v2h-1zM238 68h1v1h-1zM238 66h1v1h-1zM239 78h1v1h-1zM239 76h1v2h-1zM239 75h1v2h-1zM239 74h1v2h-1zM239 72h1v2h-1zM239 70h1v1h-1zM239 69h1v2h-1zM239 68h1v2h-1zM240 79h1v2h-1zM240 76h1v1h-1zM240 75h1v2h-1zM240 74h1v1h-1zM240 71h1v1h-1zM240 65h1v1h-1zM240 64h1v1h-1zM241 76h1v1h-1zM241 74h1v1h-1zM241 73h1v2h-1zM242 74h1v1h-1zM242 73h1v1h-1zM242 70h1v1h-1zM242 69h1v1h-1zM243 77h1v2h-1zM243 76h1v1h-1zM243 75h1v1h-1zM243 74h1v1h-1zM243 72h1v1h-1zM243 71h1v1h-1zM243 70h1v2h-1zM243 68h1v1h-1zM243 66h1v2h-1zM244 75h1v2h-1zM244 72h1v1h-1zM244 70h1v1h-1zM244 69h1v2h-1zM244 68h1v1h-1zM245 76h1v1h-1zM245 75h1v2h-1zM245 74h1v2h-1zM245 72h1v2h-1zM245 71h1v1h-1zM245 69h1v1h-1zM245 68h1v2h-1zM245 65h1v1h-1zM246 73h1v1h-1zM246 72h1v1h-1zM246 70h1v1h-1zM246 68h1v1h-1zM247 74h1v1h-1zM247 73h1v2h-1zM247 72h1v2h-1zM247 71h1v1h-1zM247 63h1v2h-1zM247 57h1v2h-1zM248 74h1v2h-1zM248 73h1v1h-1zM248 72h1v1h-1zM248 71h1v2h-1zM249 78h1v2h-1zM249 76h1v2h-1zM249 72h1v1h-1zM249 71h1v1h-1zM249 69h1v1h-1zM250 75h1v2h-1zM250 71h1v1h-1zM250 70h1v1h-1zM250 69h1v2h-1zM250 68h1v2h-1zM250 61h1v1h-1zM250 58h1v2h-1zM251 75h1v2h-1zM251 74h1v1h-1zM251 73h1v2h-1zM251 72h1v1h-1zM251 71h1v1h-1zM251 69h1v1h-1zM251 62h1v1h-1zM251 61h1v1h-1zM251 60h1v1h-1zM252 72h1v2h-1zM252 71h1v2h-1zM252 70h1v1h-1zM252 69h1v1h-1zM252 67h1v1h-1zM252 63h1v1h-1zM252 62h1v1h-1zM252 56h1v1h-1zM253 73h1v1h-1zM253 72h1v1h-1zM253 70h1v2h-1zM253 68h1v2h-1zM254 73h1v1h-1zM254 72h1v1h-1zM254 70h1v2h-1zM254 69h1v1h-1zM254 68h1v1h-1zM255 74h1v2h-1zM255 73h1v1h-1zM255 72h1v2h-1zM255 71h1v1h-1zM255 70h1v2h-1zM255 69h1v2h-1zM255 68h1v1h-1zM256 76h1v1h-1zM256 73h1v1h-1zM256 72h1v2h-1zM256 71h1v1h-1zM256 70h1v2h-1zM256 69h1v2h-1zM257 79h1v2h-1zM257 78h1v2h-1zM257 77h1v2h-1zM257 76h1v2h-1zM257 75h1v1h-1zM257 72h1v1h-1zM257 70h1v1h-1zM257 68h1v1h-1zM257 67h1v2h-1zM258 76h1v1h-1zM258 75h1v2h-1zM258 74h1v2h-1zM258 73h1v1h-1zM258 69h1v1h-1zM258 60h1v1h-1zM259 75h1v1h-1zM259 74h1v1h-1zM259 73h1v1h-1zM259 72h1v2h-1zM259 71h1v1h-1zM259 70h1v1h-1zM259 69h1v1h-1z" fill="#828282"/>
<path d="M44 65h1v2h-1zM44 62h1v2h-1zM45 57h1v1h-1zM46 66h1v1h-1zM46 65h1v2h-1zM46 64h1v1h-1zM46 57h1v2h-1zM47 63h1v1h-1zM47 60h1v2h-1zM47 56h1v1h-1zM48 67h1v1h-1zM49 65h1v2h-1zM50 67h1v2h-1zM50 66h1v1h-1zM51 67h1v1h-1zM51 56h1v2h-1zM52 65h1v2h-1zM53 67h1v1h-1zM53 66h1v2h-1zM53 65h1v1h-1zM53 59h1v1h-1zM54 65h1v1h-1zM55 64h1v1h-1zM55 62h1v1h-1zM56 65h1v2h-1zM56 59h1v1h-1zM56 56h1v2h-1zM57 67h1v1h-1zM57 65h1v1h-1zM57 64h1v1h-1zM57 63h1v1h-1zM57 58h1v1h-1zM57 57h1v2h-1zM58 65h1v2h-1zM58 64h1v2h-1zM58 62h1v1h-1zM58 61h1v2h-1zM59 66h1v2h-1zM60 66h1v2h-1zM61 67h1v1h-1zM61 63h1v1h-1zM61 61h1v1h-1zM62 66h1v1h-1zM64 65h1v1h-1zM65 67h1v1h-1zM65 64h1v1h-1zM65 57h1v2h-1zM66 66h1v2h-1zM68 67h1v2h-1zM68 66h1v1h-1zM68 63h1v1h-1zM68 60h1v1h-1zM68 59h1v1h-1zM71 65h1v2h-1zM72 67h1v1h-1zM72 65h1v1h-1zM75 67h1v1h-1zM75 64h1v1h-1zM75 58h1v1h-1zM79 62h1v1h-1zM79 60h1v1h-1zM80 65h1v2h-1zM81 66h1v1h-1zM84 63h1v1h-1zM86 60h1v1h-1zM88 63h1v2h-1zM89 64h1v1h-1zM89 63h1v2h-1zM89 62h1v1h-1zM89 57h1v2h-1zM90 67h1v1h-1zM90 65h1v2h-1zM90 64h1v1h-1zM90 61h1v2h-1zM91 66h1v2h-1zM93 67h1v1h-1zM94 67h1v1h-1zM94 65h1v1h-1zM94 64h1v1h-1zM94 62h1v2h-1zM96 67h1v1h-1zM96 63h1v1h-1zM96 59h1v2h-1zM97 67h1v1h-1zM98 61h1v2h-1zM99 67h1v1h-1zM100 65h1v2h-1zM100 61h1v2h-1zM102 67h1v1h-1zM102 64h1v2h-1zM104 67h1v2h-1zM104 61h1v1h-1zM104 60h1v2h-1zM104 59h1v1h-1zM107 64h1v1h-1zM108 60h1v1h-1zM114 66h1v1h-1zM114 65h1v2h-1zM114 61h1v1h-1zM114 57h1v1h-1zM116 66h1v2h-1zM118 66h1v1h-1zM118 65h1v1h-1zM118 63h1v1h-1zM119 65h1v2h-1zM120 67h1v1h-1zM120 60h1v2h-1zM121 61h1v2h-1zM124 65h1v2h-1zM125 65h1v2h-1zM125 64h1v2h-1zM126 66h1v2h-1zM127 63h1v1h-1zM129 67h1v2h-1zM129 62h1v2h-1zM130 65h1v2h-1zM131 66h1v2h-1zM131 65h1v1h-1zM132 67h1v2h-1zM133 65h1v2h-1zM133 63h1v2h-1zM134 66h1v2h-1zM134 65h1v2h-1zM135 65h1v1h-1zM135 62h1v1h-1zM136 65h1v2h-1zM136 62h1v2h-1zM136 61h1v1h-1zM136 60h1v1h-1zM138 64h1v1h-1zM140 62h1v1h-1zM141 61h1v2h-1zM143 67h1v1h-1zM143 60h1v1h-1zM144 66h1v2h-1zM144 61h1v1h-1zM144 58h1v1h-1zM145 61h1v1h-1zM146 64h1v2h-1zM149 64h1v1h-1zM151 66h1v2h-1zM151 60h1v2h-1zM152 67h1v2h-1zM152 64h1v1h-1zM152 62h1v2h-1zM152 56h1v1h-1zM153 62h1v1h-1zM155 67h1v1h-1zM155 62h1v2h-1zM156 67h1v1h-1zM156 66h1v1h-1zM156 64h1v1h-1zM157 65h1v1h-1zM158 67h1v2h-1zM158 64h1v1h-1zM158 63h1v1h-1zM159 67h1v1h-1zM161 65h1v1h-1zM162 67h1v2h-1zM163 65h1v2h-1zM165 66h1v1h-1zM167 66h1v1h-1zM168 67h1v1h-1zM173 64h1v2h-1zM174 66h1v1h-1zM174 65h1v1h-1zM174 62h1v2h-1zM175 67h1v1h-1zM176 64h1v1h-1zM179 67h1v2h-1zM179 66h1v1h-1zM179 64h1v1h-1zM179 60h1v1h-1zM179 59h1v2h-1zM180 67h1v2h-1zM180 66h1v1h-1zM180 65h1v1h-1zM180 62h1v2h-1zM181 67h1v1h-1zM181 66h1v1h-1zM181 65h1v1h-1zM181 62h1v1h-1zM181 56h1v2h-1zM182 67h1v2h-1zM182 66h1v2h-1zM182 58h1v1h-1zM183 67h1v1h-1zM183 66h1v2h-1zM183 63h1v2h-1zM183 62h1v1h-1zM184 67h1v1h-1zM184 65h1v1h-1zM184 62h1v1h-1zM185 66h1v1h-1zM185 60h1v1h-1zM185 58h1v1h-1zM186 67h1v2h-1zM186 64h1v1h-1zM186 56h1v1h-1zM187 66h1v2h-1zM187 65h1v1h-1zM187 63h1v2h-1zM188 66h1v2h-1zM188 65h1v1h-1zM188 60h1v1h-1zM189 65h1v1h-1zM189 60h1v1h-1zM190 64h1v1h-1zM190 61h1v1h-1zM190 60h1v1h-1zM195 67h1v2h-1zM196 67h1v2h-1zM201 65h1v1h-1zM201 64h1v2h-1zM202 60h1v1h-1zM203 66h1v1h-1zM203 61h1v1h-1zM204 64h1v1h-1zM204 61h1v1h-1zM204 60h1v2h-1zM205 65h1v1h-1zM205 59h1v2h-1zM206 63h1v2h-1zM206 61h1v1h-1zM211 67h1v1h-1zM216 67h1v2h-1zM217 61h1v2h-1zM219 60h1v1h-1zM223 63h1v1h-1zM224 66h1v1h-1zM224 63h1v1h-1zM224 61h1v2h-1zM225 67h1v2h-1zM227 66h1v2h-1zM228 67h1v2h-1zM229 66h1v1h-1zM229 62h1v2h-1zM234 66h1v2h-1zM236 65h1v2h-1zM236 61h1v1h-1zM237 67h1v1h-1zM237 62h1v1h-1zM237 58h1v1h-1zM238 67h1v2h-1zM238 61h1v1h-1zM238 58h1v1h-1zM239 67h1v1h-1zM239 62h1v1h-1zM239 59h1v2h-1zM240 60h1v1h-1zM243 64h1v1h-1zM244 67h1v1h-1zM244 65h1v1h-1zM244 61h1v1h-1zM245 67h1v1h-1zM245 64h1v1h-1zM246 67h1v1h-1zM246 64h1v1h-1zM246 62h1v2h-1zM246 61h1v1h-1zM247 67h1v2h-1zM247 66h1v2h-1zM247 65h1v2h-1zM247 60h1v1h-1zM250 59h1v2h-1zM251 66h1v1h-1zM251 65h1v1h-1zM251 64h1v2h-1zM252 66h1v1h-1zM252 65h1v1h-1zM252 64h1v1h-1zM253 66h1v1h-1zM253 60h1v1h-1zM256 67h1v2h-1zM256 63h1v1h-1zM257 65h1v1h-1zM257 63h1v2h-1zM258 63h1v2h-1zM259 61h1v2h-1z" fill="#a2a2a2"/>
<path d="M44 70h1v2h-1zM44 58h1v2h-1zM45 69h1v2h-1zM45 68h1v1h-1zM46 68h1v1h-1zM46 58h1v2h-1zM47 70h1v2h-1zM47 59h1v1h-1zM47 58h1v1h-1zM48 74h1v1h-1zM49 77h1v1h-1zM49 75h1v1h-1zM49 61h1v2h-1zM50 71h1v1h-1zM50 68h1v2h-1zM52 66h1v1h-1zM54 63h1v1h-1zM56 72h1v1h-1zM56 69h1v1h-1zM56 64h1v2h-1zM58 63h1v1h-1zM59 59h1v2h-1zM60 69h1v1h-1zM60 62h1v1h-1zM62 80h1v1h-1zM62 77h1v1h-1zM63 75h1v2h-1zM64 70h1v2h-1zM68 77h1v2h-1zM68 76h1v2h-1zM68 70h1v2h-1zM69 74h1v1h-1zM71 57h1v1h-1zM72 74h1v1h-1zM75 73h1v1h-1zM75 65h1v1h-1zM78 68h1v2h-1zM79 69h1v1h-1zM81 57h1v1h-1zM82 73h1v1h-1zM86 68h1v1h-1zM89 66h1v1h-1zM90 66h1v2h-1zM91 59h1v2h-1zM91 56h1v1h-1zM97 74h1v1h-1zM97 68h1v1h-1zM102 72h1v1h-1zM103 73h1v2h-1zM103 68h1v1h-1zM104 66h1v1h-1zM107 68h1v1h-1zM111 82h1v1h-1zM111 69h1v2h-1zM111 64h1v1h-1zM112 75h1v1h-1zM112 67h1v2h-1zM118 76h1v2h-1zM120 59h1v1h-1zM122 72h1v2h-1zM124 67h1v1h-1zM125 75h1v1h-1zM127 71h1v2h-1zM129 71h1v1h-1zM130 77h1v1h-1zM132 75h1v1h-1zM132 62h1v1h-1zM133 74h1v1h-1zM134 72h1v2h-1zM135 60h1v2h-1zM135 58h1v1h-1zM136 67h1v2h-1zM136 58h1v1h-1zM139 70h1v1h-1zM141 65h1v1h-1zM142 79h1v2h-1zM142 78h1v1h-1zM142 69h1v1h-1zM145 76h1v2h-1zM145 68h1v1h-1zM146 73h1v1h-1zM147 79h1v1h-1zM148 75h1v1h-1zM149 79h1v1h-1zM149 78h1v1h-1zM149 74h1v1h-1zM150 74h1v1h-1zM151 76h1v1h-1zM151 70h1v2h-1zM152 71h1v1h-1zM154 76h1v1h-1zM154 75h1v1h-1zM154 74h1v2h-1zM154 70h1v1h-1zM154 68h1v2h-1zM155 74h1v1h-1zM158 73h1v2h-1zM159 71h1v1h-1zM160 76h1v1h-1zM162 75h1v1h-1zM163 64h1v1h-1zM165 73h1v1h-1zM167 74h1v2h-1zM170 73h1v2h-1zM170 72h1v1h-1zM172 74h1v1h-1zM174 74h1v2h-1zM174 70h1v2h-1zM178 64h1v2h-1zM180 72h1v1h-1zM182 72h1v1h-1zM186 62h1v2h-1zM187 67h1v1h-1zM188 70h1v1h-1zM188 69h1v2h-1zM189 77h1v2h-1zM189 73h1v1h-1zM190 70h1v1h-1zM190 67h1v1h-1zM191 72h1v2h-1zM197 74h1v1h-1zM198 80h1v1h-1zM199 74h1v1h-1zM200 77h1v1h-1zM200 73h1v1h-1zM202 77h1v2h-1zM202 73h1v1h-1zM202 71h1v2h-1zM205 74h1v2h-1zM205 63h1v1h-1zM205 60h1v2h-1zM206 74h1v1h-1zM207 77h1v1h-1zM207 70h1v2h-1zM212 77h1v1h-1zM213 69h1v1h-1zM214 76h1v1h-1zM216 74h1v2h-1zM216 73h1v2h-1zM217 76h1v1h-1zM220 78h1v1h-1zM220 75h1v1h-1zM220 66h1v1h-1zM223 77h1v2h-1zM225 70h1v2h-1zM228 74h1v2h-1zM229 71h1v2h-1zM232 75h1v1h-1zM232 63h1v1h-1zM236 69h1v2h-1zM236 64h1v1h-1zM236 56h1v1h-1zM237 64h1v2h-1zM239 77h1v2h-1zM239 57h1v1h-1zM242 66h1v2h-1zM244 74h1v2h-1zM244 71h1v1h-1zM248 69h1v2h-1zM249 77h1v1h-1zM250 76h1v1h-1zM250 73h1v2h-1zM251 57h1v2h-1zM252 68h1v2h-1zM252 57h1v2h-1zM253 57h1v1h-1zM256 75h1v1h-1zM256 61h1v1h-1zM257 74h1v1h-1zM258 71h1v2h-1zM258 70h1v2h-1z" fill="#c9a9b4"/>
<path d="M204.1 51.8h1.5v1.5h-1.5zM51.1 47.1h1.5v1.5h-1.5zM49.7 53.9h1.5v1.5h-1.5zM92.7 52.0h1.5v1.5h-1.5zM226.4 47.9h1.5v1.5h-1.5zM107.1 47.1h1.5v1.5h-1.5zM119.6 53.0h1.5v1.5h-1.5zM210.1 54.9h1.5v1.5h-1.5zM182.3 46.7h1.5v1.5h-1.5zM204.4 49.8h1.5v1.5h-1.5zM58.5 38.6h1.5v1.5h-1.5zM59.0 40.7h1.5v1.5h-1.5zM58.8 35.2h1.5v1.5h-1.5zM59.5 35.9h1.5v1.5h-1.5zM59.1 46.7h1.5v1.5h-1.5zM58.8 41.7h1.5v1.5h-1.5zM58.6 39.8h1.5v1.5h-1.5zM59.5 35.5h1.5v1.5h-1.5zM58.6 36.0h1.5v1.5h-1.5zM56.5 44.8h1.5v1.5h-1.5zM75.6 47.3h1.5v1.5h-1.5zM75.3 43.6h1.5v1.5h-1.5zM85.8 48.8h1.5v1.5h-1.5zM96.6 39.8h1.5v1.5h-1.5zM97.5 43.2h1.5v1.5h-1.5zM101.8 44.8h1.5v1.5h-1.5zM106.2 47.8h1.5v1.5h-1.5zM112.8 40.2h1.5v1.5h-1.5zM112.8 40.7h1.5v1.5h-1.5zM123.8 41.8h1.5v1.5h-1.5zM124.5 47.8h1.5v1.5h-1.5zM135.2 54.4h1.5v1.5h-1.5zM136.0 55.1h1.5v1.5h-1.5zM134.9 55.2h1.5v1.5h-1.5zM135.7 43.4h1.5v1.5h-1.5zM135.6 51.6h1.5v1.5h-1.5zM135.1 50.4h1.5v1.5h-1.5zM136.4 53.8h1.5v1.5h-1.5zM135.4 53.3h1.5v1.5h-1.5zM135.9 42.0h1.5v1.5h-1.5zM135.6 52.5h1.5v1.5h-1.5zM146.0 40.6h1.5v1.5h-1.5zM146.9 38.5h1.5v1.5h-1.5zM151.8 44.8h1.5v1.5h-1.5zM166.6 45.8h1.5v1.5h-1.5zM179.5 45.4h1.5v1.5h-1.5zM179.6 44.6h1.5v1.5h-1.5zM179.1 34.5h1.5v1.5h-1.5zM178.3 36.1h1.5v1.5h-1.5zM179.2 31.4h1.5v1.5h-1.5zM179.0 42.9h1.5v1.5h-1.5zM178.0 33.4h1.5v1.5h-1.5zM183.3 35.1h1.5v1.5h-1.5zM184.0 35.7h1.5v1.5h-1.5zM185.8 53.5h1.5v1.5h-1.5zM186.5 46.4h1.5v1.5h-1.5zM187.0 52.8h1.5v1.5h-1.5zM187.2 50.1h1.5v1.5h-1.5zM187.2 53.0h1.5v1.5h-1.5zM187.4 45.9h1.5v1.5h-1.5zM197.2 48.8h1.5v1.5h-1.5zM202.8 29.8h1.5v1.5h-1.5zM218.8 42.8h1.5v1.5h-1.5zM218.2 48.8h1.5v1.5h-1.5zM228.2 34.8h1.5v1.5h-1.5zM230.8 47.8h1.5v1.5h-1.5zM232.2 44.8h1.5v1.5h-1.5zM236.2 47.8h1.5v1.5h-1.5zM236.8 49.1h1.5v1.5h-1.5zM237.9 45.0h1.5v1.5h-1.5zM236.5 48.8h1.5v1.5h-1.5zM237.1 48.5h1.5v1.5h-1.5zM237.1 50.1h1.5v1.5h-1.5zM243.5 42.1h1.5v1.5h-1.5zM243.7 42.0h1.5v1.5h-1.5zM247.6 47.8h1.5v1.5h-1.5z" fill="#00BFC4" opacity="0.9"/>
<path d="M106.0 47.0h1.5v1.5h-1.5zM217.0 46.5h1.5v1.5h-1.5zM78.1 50.4h1.5v1.5h-1.5zM241.1 55.4h1.5v1.5h-1.5zM62.9 50.2h1.5v1.5h-1.5zM244.6 55.8h1.5v1.5h-1.5zM182.0 50.0h1.5v1.5h-1.5zM173.9 53.3h1.5v1.5h-1.5zM167.0 46.6h1.5v1.5h-1.5zM50.6 47.8h1.5v1.5h-1.5zM225.2 48.9h1.5v1.5h-1.5zM57.2 51.6h1.5v1.5h-1.5zM52.8 37.8h1.5v1.5h-1.5zM55.6 48.4h1.5v1.5h-1.5zM55.8 54.9h1.5v1.5h-1.5zM55.3 48.5h1.5v1.5h-1.5zM55.4 49.5h1.5v1.5h-1.5zM86.5 44.8h1.5v1.5h-1.5zM135.8 33.8h1.5v1.5h-1.5zM158.2 42.8h1.5v1.5h-1.5zM178.8 45.8h1.5v1.5h-1.5zM202.8 49.8h1.5v1.5h-1.5zM228.2 39.2h1.5v1.5h-1.5zM250.1 44.8h1.5v1.5h-1.5z" fill="#F8766D" opacity="0.6"/>
<path d="M226.2 48.8h1.5v1.5h-1.5zM74.1 54.8h1.5v1.5h-1.5zM91.1 51.8h1.5v1.5h-1.5zM214.3 48.7h1.5v1.5h-1.5zM44.6 52.5h1.5v1.5h-1.5zM246.9 47.3h1.5v1.5h-1.5zM162.7 54.8h1.5v1.5h-1.5zM141.1 52.4h1.5v1.5h-1.5zM53.2 28.8h1.5v1.5h-1.5zM59.0 51.7h1.5v1.5h-1.5zM59.1 37.5h1.5v1.5h-1.5zM58.1 53.3h1.5v1.5h-1.5zM58.0 52.1h1.5v1.5h-1.5zM57.7 43.0h1.5v1.5h-1.5zM58.3 54.1h1.5v1.5h-1.5zM58.0 42.0h1.5v1.5h-1.5zM63.5 52.8h1.5v1.5h-1.5zM48.1 52.2h1.5v1.5h-1.5zM48.1 54.5h1.5v1.5h-1.5zM47.5 51.3h1.5v1.5h-1.5zM70.5 41.8h1.5v1.5h-1.5zM76.2 50.8h1.5v1.5h-1.5zM89.9 43.2h1.5v1.5h-1.5zM91.1 49.4h1.5v1.5h-1.5zM90.0 52.5h1.5v1.5h-1.5zM90.2 46.5h1.5v1.5h-1.5zM90.0 56.3h1.5v1.5h-1.5zM89.6 56.4h1.5v1.5h-1.5zM90.1 46.6h1.5v1.5h-1.5zM91.1 47.0h1.5v1.5h-1.5zM89.9 57.0h1.5v1.5h-1.5zM91.1 56.2h1.5v1.5h-1.5zM90.9 43.8h1.5v1.5h-1.5zM89.6 48.9h1.5v1.5h-1.5zM97.8 33.8h1.5v1.5h-1.5zM101.0 47.8h1.5v1.5h-1.5zM107.5 50.8h1.5v1.5h-1.5zM114.2 48.8h1.5v1.5h-1.5zM123.8 45.8h1.5v1.5h-1.5zM135.4 51.2h1.5v1.5h-1.5zM135.1 53.2h1.5v1.5h-1.5zM135.3 52.5h1.5v1.5h-1.5zM146.2 45.8h1.5v1.5h-1.5zM158.2 36.8h1.5v1.5h-1.5zM184.4 52.4h1.5v1.5h-1.5zM183.5 53.6h1.5v1.5h-1.5zM183.6 50.4h1.5v1.5h-1.5zM183.2 49.9h1.5v1.5h-1.5zM183.5 53.2h1.5v1.5h-1.5zM182.9 51.8h1.5v1.5h-1.5zM185.9 36.6h1.5v1.5h-1.5zM185.9 41.2h1.5v1.5h-1.5zM186.8 37.4h1.5v1.5h-1.5zM202.8 44.8h1.5v1.5h-1.5zM220.8 40.8h1.5v1.5h-1.5zM237.1 49.8h1.5v1.5h-1.5zM250.1 37.8h1.5v1.5h-1.5zM257.2 52.8h1.5v1.5h-1.5z" fill="#C49A00" opacity="0.9"/>
<path d="M50.2 44.8h1.5v1.5h-1.5zM59.0 31.8h1.5v1.5h-1.5zM90.7 32.5h1.5v1.5h-1.5zM89.8 31.4h1.5v1.5h-1.5zM97.8 48.8h1.5v1.5h-1.5zM114.2 45.8h1.5v1.5h-1.5zM135.8 30.8h1.5v1.5h-1.5zM183.7 50.0h1.5v1.5h-1.5zM183.0 53.2h1.5v1.5h-1.5zM184.5 47.6h1.5v1.5h-1.5zM197.2 44.8h1.5v1.5h-1.5zM202.8 20.8h1.5v1.5h-1.5zM209.8 44.8h1.5v1.5h-1.5zM218.2 45.8h1.5v1.5h-1.5z" fill="#F8766D" opacity="0.9"/>
<path d="M135.8 26.8h1.5v1.5h-1.5zM240.6 32.8h1.5v1.5h-1.5z" fill="#00BA38" opacity="0.9"/>
<line x1="43.3" y1="51.5" x2="260.2" y2="51.5" stroke="#ff5a5a" stroke-width="1.2" stroke-dasharray="2,1.8"/>
<line x1="43.3" y1="55.4" x2="260.2" y2="55.4" stroke="#5a5aff" stroke-width="1.2" stroke-dasharray="2,1.8"/>
<line x1="42.5" y1="13" x2="42.5" y2="108.7" stroke="#444" stroke-width="1.3"/>
<line x1="42.5" y1="108.5" x2="260.2" y2="108.5" stroke="#555" stroke-width="1.2"/>
<text x="41.5" y="110.0" font-size="4.6" font-weight="normal" font-style="normal" fill="#333" text-anchor="end" >0</text>
<text x="41.5" y="78.5" font-size="4.6" font-weight="normal" font-style="normal" fill="#333" text-anchor="end" >5</text>
<text x="41.5" y="47.0" font-size="4.6" font-weight="normal" font-style="normal" fill="#333" text-anchor="end" >10</text>
<text x="41.5" y="15.5" font-size="4.6" font-weight="normal" font-style="normal" fill="#333" text-anchor="end" >15</text>
<text transform="translate(54.6,112.0) rotate(-90)" font-size="4.6" fill="#222" text-anchor="end">Chr1</text>
<text transform="translate(72.9,112.0) rotate(-90)" font-size="4.6" fill="#222" text-anchor="end">Chr2</text>
<text transform="translate(89.6,112.0) rotate(-90)" font-size="4.6" fill="#222" text-anchor="end">Chr3</text>
<text transform="translate(106.0,112.0) rotate(-90)" font-size="4.6" fill="#222" text-anchor="end">Chr4</text>
<text transform="translate(122.3,112.0) rotate(-90)" font-size="4.6" fill="#222" text-anchor="end">Chr5</text>
<text transform="translate(138.3,112.0) rotate(-90)" font-size="4.6" fill="#222" text-anchor="end">Chr6</text>
<text transform="translate(154.3,112.0) rotate(-90)" font-size="4.6" fill="#222" text-anchor="end">Chr7</text>
<text transform="translate(169.2,112.0) rotate(-90)" font-size="4.6" fill="#222" text-anchor="end">Chr8</text>
<text transform="translate(183.1,112.0) rotate(-90)" font-size="4.6" fill="#222" text-anchor="end">Chr9</text>
<text transform="translate(197.1,112.0) rotate(-90)" font-size="4.6" fill="#222" text-anchor="end">Chr10</text>
<text transform="translate(209.3,112.0) rotate(-90)" font-size="4.6" fill="#222" text-anchor="end">Chr11</text>
<text transform="translate(221.4,112.0) rotate(-90)" font-size="4.6" fill="#222" text-anchor="end">Chr12</text>
<text transform="translate(233.7,112.0) rotate(-90)" font-size="4.6" fill="#222" text-anchor="end">Chr13</text>
<text transform="translate(245.1,112.0) rotate(-90)" font-size="4.6" fill="#222" text-anchor="end">Chr14</text>
<text transform="translate(256.2,112.0) rotate(-90)" font-size="4.6" fill="#222" text-anchor="end">Chr15</text>
<text x="163.8" y="136.0" font-size="8.3" font-weight="bold" font-style="normal" fill="#000" text-anchor="middle" >Chromosomes</text>
<text transform="translate(22.3,76) rotate(-90)" font-size="9" font-weight="bold" fill="#111">-log<tspan font-size="5" dy="2">10</tspan><tspan dy="-2">(</tspan><tspan font-style="italic">p</tspan>)</text>
<circle cx="241.2" cy="14.100000000000001" r="1.25" fill="#F8766D"/>
<text x="243.9" y="15.4" font-size="3.5" font-weight="normal" font-style="normal" fill="#333" text-anchor="start" >GLM</text>
<circle cx="241.2" cy="18.1" r="1.25" fill="#C49A00"/>
<text x="243.9" y="19.4" font-size="3.5" font-weight="normal" font-style="normal" fill="#333" text-anchor="start" >GLM(Q)</text>
<circle cx="241.2" cy="22.1" r="1.25" fill="#00BA38"/>
<text x="243.9" y="23.4" font-size="3.5" font-weight="normal" font-style="normal" fill="#333" text-anchor="start" >MLM(K)</text>
<circle cx="241.2" cy="26.1" r="1.25" fill="#00BFC4"/>
<text x="243.9" y="27.4" font-size="3.5" font-weight="normal" font-style="normal" fill="#333" text-anchor="start" >MLM(Q+K)</text>
<rect x="186.3" y="35.8" width="2.9" height="5.8" fill="none" stroke="#ff2020" stroke-width="0.7" rx="0.8"/>
<text x="190.7" y="41.5" font-size="4.8" font-weight="bold" fill="#ff2a2a" stroke="#fff" stroke-width="0.8" paint-order="stroke">CSS0026218</text>
<rect x="182.7" y="47.5" width="3.7" height="8" fill="none" stroke="#ff2020" stroke-width="0.7" rx="0.8"/>
<text x="153.2" y="54.2" font-size="4.8" font-weight="bold" fill="#ff2a2a" stroke="#fff" stroke-width="0.8" paint-order="stroke">CSS0027172</text>
<line x1="63.66559485530547" y1="143" x2="63.66559485530547" y2="238.5" stroke="#d9d9d9" stroke-width="0.8"/>
<line x1="80.7202572347267" y1="143" x2="80.7202572347267" y2="238.5" stroke="#d9d9d9" stroke-width="0.8"/>
<line x1="97.17299035369777" y1="143" x2="97.17299035369777" y2="238.5" stroke="#d9d9d9" stroke-width="0.8"/>
<line x1="113.62572347266882" y1="143" x2="113.62572347266882" y2="238.5" stroke="#d9d9d9" stroke-width="0.8"/>
<line x1="129.97813504823154" y1="143" x2="129.97813504823154" y2="238.5" stroke="#d9d9d9" stroke-width="0.8"/>
<line x1="145.72861736334406" y1="143" x2="145.72861736334406" y2="238.5" stroke="#d9d9d9" stroke-width="0.8"/>
<line x1="161.98070739549843" y1="143" x2="161.98070739549843" y2="238.5" stroke="#d9d9d9" stroke-width="0.8"/>
<line x1="175.52411575562707" y1="143" x2="175.52411575562707" y2="238.5" stroke="#d9d9d9" stroke-width="0.8"/>
<line x1="189.97041800643092" y1="143" x2="189.97041800643092" y2="238.5" stroke="#d9d9d9" stroke-width="0.8"/>
<line x1="203.61414790996787" y1="143" x2="203.61414790996787" y2="238.5" stroke="#d9d9d9" stroke-width="0.8"/>
<line x1="214.54919614147917" y1="143" x2="214.54919614147917" y2="238.5" stroke="#d9d9d9" stroke-width="0.8"/>
<line x1="227.69131832797433" y1="143" x2="227.69131832797433" y2="238.5" stroke="#d9d9d9" stroke-width="0.8"/>
<line x1="239.22829581993574" y1="143" x2="239.22829581993574" y2="238.5" stroke="#d9d9d9" stroke-width="0.8"/>
<line x1="250.66495176848878" y1="143" x2="250.66495176848878" y2="238.5" stroke="#d9d9d9" stroke-width="0.8"/>
<path d="M44.0,238.5 L44.0,208.3 L45.0,208.3 L45.0,207.0 L46.0,207.0 L46.0,206.9 L47.0,206.9 L47.0,203.1 L48.0,203.1 L48.0,202.3 L49.0,202.3 L49.0,199.1 L50.0,199.1 L50.0,201.9 L51.0,201.9 L51.0,202.3 L52.0,202.3 L52.0,200.3 L53.0,200.3 L53.0,201.6 L54.0,201.6 L54.0,201.4 L55.0,201.4 L55.0,201.9 L56.0,201.9 L56.0,202.0 L57.0,202.0 L57.0,204.9 L58.0,204.9 L58.0,199.2 L59.0,199.2 L59.0,200.7 L60.0,200.7 L60.0,203.4 L61.0,203.4 L61.0,204.5 L62.0,204.5 L62.0,204.2 L63.0,204.2 L63.0,207.2 L64.0,207.2 L64.0,205.3 L65.0,205.3 L65.0,209.2 L66.0,209.2 L66.0,208.1 L67.0,208.1 L67.0,207.7 L68.0,207.7 L68.0,207.4 L69.0,207.4 L69.0,207.4 L70.0,207.4 L70.0,207.2 L71.0,207.2 L71.0,207.3 L72.0,207.3 L72.0,205.9 L73.0,205.9 L73.0,205.5 L74.0,205.5 L74.0,210.7 L75.0,210.7 L75.0,207.1 L76.0,207.1 L76.0,205.7 L77.0,205.7 L77.0,203.4 L78.0,203.4 L78.0,206.9 L79.0,206.9 L79.0,204.6 L80.0,204.6 L80.0,208.3 L81.0,208.3 L81.0,206.0 L82.0,206.0 L82.0,208.4 L83.0,208.4 L83.0,204.1 L84.0,204.1 L84.0,206.0 L85.0,206.0 L85.0,207.3 L86.0,207.3 L86.0,204.4 L87.0,204.4 L87.0,206.5 L88.0,206.5 L88.0,209.3 L89.0,209.3 L89.0,205.6 L90.0,205.6 L90.0,204.6 L91.0,204.6 L91.0,201.3 L92.0,201.3 L92.0,202.3 L93.0,202.3 L93.0,206.0 L94.0,206.0 L94.0,206.9 L95.0,206.9 L95.0,203.8 L96.0,203.8 L96.0,208.4 L97.0,208.4 L97.0,209.2 L98.0,209.2 L98.0,204.9 L99.0,204.9 L99.0,208.0 L100.0,208.0 L100.0,205.5 L101.0,205.5 L101.0,208.1 L102.0,208.1 L102.0,209.8 L103.0,209.8 L103.0,208.5 L104.0,208.5 L104.0,207.2 L105.0,207.2 L105.0,204.2 L106.0,204.2 L106.0,206.0 L107.0,206.0 L107.0,207.3 L108.0,207.3 L108.0,204.9 L109.0,204.9 L109.0,205.4 L110.0,205.4 L110.0,203.1 L111.0,203.1 L111.0,204.7 L112.0,204.7 L112.0,206.1 L113.0,206.1 L113.0,201.8 L114.0,201.8 L114.0,202.2 L115.0,202.2 L115.0,199.8 L116.0,199.8 L116.0,197.8 L117.0,197.8 L117.0,204.0 L118.0,204.0 L118.0,208.0 L119.0,208.0 L119.0,209.7 L120.0,209.7 L120.0,209.4 L121.0,209.4 L121.0,208.8 L122.0,208.8 L122.0,208.3 L123.0,208.3 L123.0,206.8 L124.0,206.8 L124.0,206.0 L125.0,206.0 L125.0,206.1 L126.0,206.1 L126.0,206.0 L127.0,206.0 L127.0,207.9 L128.0,207.9 L128.0,205.2 L129.0,205.2 L129.0,206.5 L130.0,206.5 L130.0,206.8 L131.0,206.8 L131.0,205.8 L132.0,205.8 L132.0,207.7 L133.0,207.7 L133.0,206.1 L134.0,206.1 L134.0,204.7 L135.0,204.7 L135.0,205.1 L136.0,205.1 L136.0,202.1 L137.0,202.1 L137.0,199.6 L138.0,199.6 L138.0,202.1 L139.0,202.1 L139.0,204.6 L140.0,204.6 L140.0,205.8 L141.0,205.8 L141.0,206.9 L142.0,206.9 L142.0,206.2 L143.0,206.2 L143.0,205.9 L144.0,205.9 L144.0,205.9 L145.0,205.9 L145.0,204.1 L146.0,204.1 L146.0,206.8 L147.0,206.8 L147.0,208.8 L148.0,208.8 L148.0,208.7 L149.0,208.7 L149.0,208.6 L150.0,208.6 L150.0,209.4 L151.0,209.4 L151.0,206.5 L152.0,206.5 L152.0,204.1 L153.0,204.1 L153.0,204.5 L154.0,204.5 L154.0,202.5 L155.0,202.5 L155.0,202.9 L156.0,202.9 L156.0,202.7 L157.0,202.7 L157.0,204.6 L158.0,204.6 L158.0,206.2 L159.0,206.2 L159.0,201.5 L160.0,201.5 L160.0,207.5 L161.0,207.5 L161.0,207.3 L162.0,207.3 L162.0,205.8 L163.0,205.8 L163.0,208.9 L164.0,208.9 L164.0,207.0 L165.0,207.0 L165.0,206.2 L166.0,206.2 L166.0,205.5 L167.0,205.5 L167.0,204.4 L168.0,204.4 L168.0,206.6 L169.0,206.6 L169.0,206.8 L170.0,206.8 L170.0,205.3 L171.0,205.3 L171.0,204.0 L172.0,204.0 L172.0,206.3 L173.0,206.3 L173.0,206.6 L174.0,206.6 L174.0,206.6 L175.0,206.6 L175.0,207.5 L176.0,207.5 L176.0,208.7 L177.0,208.7 L177.0,204.4 L178.0,204.4 L178.0,200.7 L179.0,200.7 L179.0,203.4 L180.0,203.4 L180.0,201.4 L181.0,201.4 L181.0,205.1 L182.0,205.1 L182.0,206.4 L183.0,206.4 L183.0,202.5 L184.0,202.5 L184.0,200.1 L185.0,200.1 L185.0,201.4 L186.0,201.4 L186.0,198.6 L187.0,198.6 L187.0,203.0 L188.0,203.0 L188.0,202.3 L189.0,202.3 L189.0,205.0 L190.0,205.0 L190.0,207.3 L191.0,207.3 L191.0,208.0 L192.0,208.0 L192.0,208.2 L193.0,208.2 L193.0,206.0 L194.0,206.0 L194.0,208.1 L195.0,208.1 L195.0,207.8 L196.0,207.8 L196.0,205.4 L197.0,205.4 L197.0,204.0 L198.0,204.0 L198.0,207.6 L199.0,207.6 L199.0,204.5 L200.0,204.5 L200.0,205.2 L201.0,205.2 L201.0,206.1 L202.0,206.1 L202.0,203.9 L203.0,203.9 L203.0,205.1 L204.0,205.1 L204.0,207.9 L205.0,207.9 L205.0,207.0 L206.0,207.0 L206.0,205.6 L207.0,205.6 L207.0,209.1 L208.0,209.1 L208.0,206.2 L209.0,206.2 L209.0,205.3 L210.0,205.3 L210.0,206.6 L211.0,206.6 L211.0,203.0 L212.0,203.0 L212.0,205.3 L213.0,205.3 L213.0,205.2 L214.0,205.2 L214.0,205.9 L215.0,205.9 L215.0,207.9 L216.0,207.9 L216.0,207.2 L217.0,207.2 L217.0,209.1 L218.0,209.1 L218.0,205.6 L219.0,205.6 L219.0,206.3 L220.0,206.3 L220.0,204.9 L221.0,204.9 L221.0,197.6 L222.0,197.6 L222.0,203.6 L223.0,203.6 L223.0,206.1 L224.0,206.1 L224.0,205.5 L225.0,205.5 L225.0,207.2 L226.0,207.2 L226.0,204.9 L227.0,204.9 L227.0,205.1 L228.0,205.1 L228.0,205.4 L229.0,205.4 L229.0,204.9 L230.0,204.9 L230.0,206.6 L231.0,206.6 L231.0,202.6 L232.0,202.6 L232.0,198.4 L233.0,198.4 L233.0,203.8 L234.0,203.8 L234.0,204.1 L235.0,204.1 L235.0,205.2 L236.0,205.2 L236.0,205.9 L237.0,205.9 L237.0,207.1 L238.0,207.1 L238.0,205.5 L239.0,205.5 L239.0,205.6 L240.0,205.6 L240.0,206.1 L241.0,206.1 L241.0,203.5 L242.0,203.5 L242.0,207.6 L243.0,207.6 L243.0,207.4 L244.0,207.4 L244.0,208.2 L245.0,208.2 L245.0,208.0 L246.0,208.0 L246.0,207.5 L247.0,207.5 L247.0,207.3 L248.0,207.3 L248.0,207.2 L249.0,207.2 L249.0,208.5 L250.0,208.5 L250.0,208.1 L251.0,208.1 L251.0,205.9 L252.0,205.9 L252.0,202.2 L253.0,202.2 L253.0,202.7 L254.0,202.7 L254.0,202.9 L255.0,202.9 L255.0,208.3 L256.0,208.3 L256.0,205.6 L257.0,205.6 L257.0,204.5 L258.0,204.5 L258.0,207.0 L259.0,207.0 L259.0,204.9 L260.0,204.9 L260.0,207.2 L261.0,207.2 L261.0,207.7 L262.0,207.7 L262.0,238.5 Z" fill="#7f7f7f"/>
<path d="M44 205h1v1h-1zM44 203h1v2h-1zM45 206h1v2h-1zM45 205h1v1h-1zM45 204h1v1h-1zM45 203h1v1h-1zM45 202h1v1h-1zM45 200h1v2h-1zM45 199h1v1h-1zM45 195h1v2h-1zM46 205h1v1h-1zM46 203h1v2h-1zM46 201h1v1h-1zM46 197h1v1h-1zM47 202h1v2h-1zM47 201h1v2h-1zM47 200h1v1h-1zM47 199h1v2h-1zM48 201h1v1h-1zM48 200h1v2h-1zM48 198h1v2h-1zM48 194h1v1h-1zM49 198h1v1h-1zM49 197h1v1h-1zM49 185h1v1h-1zM50 200h1v1h-1zM50 199h1v2h-1zM50 198h1v1h-1zM50 197h1v1h-1zM50 196h1v2h-1zM51 200h1v1h-1zM51 198h1v1h-1zM51 191h1v2h-1zM52 199h1v1h-1zM52 198h1v2h-1zM52 197h1v1h-1zM52 196h1v2h-1zM53 200h1v2h-1zM53 199h1v1h-1zM53 197h1v2h-1zM53 196h1v1h-1zM53 193h1v2h-1zM54 198h1v1h-1zM54 195h1v1h-1zM55 200h1v1h-1zM55 198h1v2h-1zM55 197h1v2h-1zM55 195h1v1h-1zM55 194h1v1h-1zM55 185h1v2h-1zM56 201h1v2h-1zM56 200h1v2h-1zM56 198h1v1h-1zM56 197h1v1h-1zM56 194h1v1h-1zM56 188h1v2h-1zM57 203h1v1h-1zM57 202h1v1h-1zM57 201h1v2h-1zM57 200h1v2h-1zM57 199h1v1h-1zM57 198h1v2h-1zM57 197h1v1h-1zM58 197h1v2h-1zM58 195h1v2h-1zM58 193h1v2h-1zM59 199h1v2h-1zM59 198h1v2h-1zM59 197h1v1h-1zM60 202h1v2h-1zM60 201h1v1h-1zM60 200h1v1h-1zM60 199h1v1h-1zM60 196h1v2h-1zM60 195h1v1h-1zM60 193h1v1h-1zM60 189h1v1h-1zM60 186h1v1h-1zM61 203h1v1h-1zM61 202h1v1h-1zM61 200h1v1h-1zM61 199h1v1h-1zM61 198h1v2h-1zM61 197h1v1h-1zM62 203h1v1h-1zM62 201h1v1h-1zM62 200h1v2h-1zM62 199h1v1h-1zM62 198h1v2h-1zM63 206h1v1h-1zM63 204h1v2h-1zM63 199h1v2h-1zM63 197h1v1h-1zM64 201h1v2h-1zM64 200h1v1h-1zM64 198h1v1h-1zM65 207h1v2h-1zM65 206h1v2h-1zM65 205h1v2h-1zM65 203h1v1h-1zM65 202h1v1h-1zM65 199h1v1h-1zM65 198h1v2h-1zM66 207h1v2h-1zM66 205h1v1h-1zM66 203h1v1h-1zM66 201h1v1h-1zM66 200h1v2h-1zM66 197h1v1h-1zM66 196h1v2h-1zM67 205h1v2h-1zM67 204h1v1h-1zM67 203h1v2h-1zM67 201h1v2h-1zM67 199h1v1h-1zM67 196h1v1h-1zM68 201h1v2h-1zM68 200h1v2h-1zM68 199h1v2h-1zM68 198h1v1h-1zM68 196h1v1h-1zM69 206h1v2h-1zM69 205h1v1h-1zM69 204h1v1h-1zM69 196h1v2h-1zM70 206h1v2h-1zM70 205h1v2h-1zM70 204h1v1h-1zM70 203h1v1h-1zM70 196h1v1h-1zM71 206h1v1h-1zM71 205h1v2h-1zM71 204h1v2h-1zM71 203h1v1h-1zM71 202h1v1h-1zM71 201h1v1h-1zM72 204h1v1h-1zM72 203h1v2h-1zM72 202h1v2h-1zM72 201h1v2h-1zM72 200h1v2h-1zM72 198h1v1h-1zM73 204h1v1h-1zM73 202h1v1h-1zM73 193h1v1h-1zM74 209h1v2h-1zM74 205h1v1h-1zM75 206h1v1h-1zM75 205h1v1h-1zM75 196h1v1h-1zM76 203h1v2h-1zM76 202h1v1h-1zM76 201h1v2h-1zM76 198h1v1h-1zM76 190h1v1h-1zM77 202h1v1h-1zM77 199h1v2h-1zM77 198h1v2h-1zM77 196h1v2h-1zM77 195h1v1h-1zM77 185h1v2h-1zM78 202h1v2h-1zM78 200h1v2h-1zM78 199h1v1h-1zM78 198h1v2h-1zM79 203h1v1h-1zM79 201h1v2h-1zM79 199h1v1h-1zM80 207h1v2h-1zM80 204h1v1h-1zM80 203h1v2h-1zM80 200h1v1h-1zM80 198h1v2h-1zM80 196h1v1h-1zM81 205h1v2h-1zM81 204h1v1h-1zM82 207h1v1h-1zM82 206h1v2h-1zM82 205h1v1h-1zM82 204h1v2h-1zM82 203h1v1h-1zM82 202h1v1h-1zM82 201h1v1h-1zM82 198h1v2h-1zM82 197h1v1h-1zM83 203h1v1h-1zM83 199h1v1h-1zM83 197h1v1h-1zM84 202h1v2h-1zM85 206h1v1h-1zM85 205h1v1h-1zM85 203h1v1h-1zM85 202h1v1h-1zM85 201h1v1h-1zM85 200h1v2h-1zM85 196h1v1h-1zM85 192h1v1h-1zM86 203h1v1h-1zM86 202h1v1h-1zM86 200h1v2h-1zM86 197h1v1h-1zM87 204h1v2h-1zM87 203h1v2h-1zM87 202h1v1h-1zM87 201h1v1h-1zM87 197h1v1h-1zM88 208h1v1h-1zM88 207h1v1h-1zM88 206h1v1h-1zM88 201h1v2h-1zM88 200h1v1h-1zM88 197h1v1h-1zM88 190h1v2h-1zM89 203h1v2h-1zM89 202h1v2h-1zM89 200h1v1h-1zM89 198h1v1h-1zM89 197h1v1h-1zM90 203h1v2h-1zM90 202h1v1h-1zM90 201h1v2h-1zM90 200h1v1h-1zM90 199h1v2h-1zM90 198h1v2h-1zM91 200h1v2h-1zM91 199h1v2h-1zM91 198h1v2h-1zM91 196h1v2h-1zM91 185h1v1h-1zM92 201h1v1h-1zM92 200h1v1h-1zM92 199h1v2h-1zM92 198h1v1h-1zM92 197h1v1h-1zM92 190h1v1h-1zM92 187h1v1h-1zM92 184h1v2h-1zM93 205h1v1h-1zM93 203h1v2h-1zM93 202h1v1h-1zM93 201h1v2h-1zM93 199h1v2h-1zM94 204h1v2h-1zM94 201h1v1h-1zM94 200h1v2h-1zM94 196h1v2h-1zM95 202h1v1h-1zM95 201h1v2h-1zM95 200h1v1h-1zM95 198h1v1h-1zM95 197h1v2h-1zM95 196h1v2h-1zM95 190h1v1h-1zM96 206h1v1h-1zM96 205h1v2h-1zM96 204h1v1h-1zM96 203h1v1h-1zM96 202h1v1h-1zM96 201h1v2h-1zM96 198h1v1h-1zM97 207h1v2h-1zM97 202h1v2h-1zM97 201h1v1h-1zM97 200h1v1h-1zM97 199h1v1h-1zM98 203h1v2h-1zM98 202h1v1h-1zM98 198h1v1h-1zM99 206h1v2h-1zM99 205h1v1h-1zM99 204h1v2h-1zM99 203h1v2h-1zM100 204h1v2h-1zM100 203h1v1h-1zM100 201h1v2h-1zM100 200h1v1h-1zM100 198h1v1h-1zM100 196h1v1h-1zM101 207h1v1h-1zM101 205h1v1h-1zM101 201h1v2h-1zM101 200h1v1h-1zM101 198h1v1h-1zM101 192h1v2h-1zM102 208h1v1h-1zM102 207h1v1h-1zM102 206h1v1h-1zM102 205h1v2h-1zM102 200h1v1h-1zM103 207h1v2h-1zM103 206h1v2h-1zM103 203h1v1h-1zM104 206h1v1h-1zM104 205h1v1h-1zM104 204h1v2h-1zM104 202h1v2h-1zM104 199h1v2h-1zM105 202h1v1h-1zM105 201h1v1h-1zM105 200h1v2h-1zM105 199h1v1h-1zM106 203h1v1h-1zM106 200h1v2h-1zM106 199h1v2h-1zM106 198h1v2h-1zM106 196h1v2h-1zM107 205h1v1h-1zM107 204h1v1h-1zM107 202h1v1h-1zM107 200h1v1h-1zM107 192h1v2h-1zM108 203h1v2h-1zM108 200h1v1h-1zM108 199h1v2h-1zM108 197h1v2h-1zM108 196h1v2h-1zM108 190h1v2h-1zM109 204h1v1h-1zM109 203h1v1h-1zM109 202h1v2h-1zM109 201h1v1h-1zM110 201h1v2h-1zM110 200h1v1h-1zM110 198h1v1h-1zM110 197h1v1h-1zM111 203h1v2h-1zM111 202h1v1h-1zM111 200h1v2h-1zM111 197h1v1h-1zM112 205h1v1h-1zM112 203h1v1h-1zM112 202h1v1h-1zM112 201h1v1h-1zM112 200h1v1h-1zM113 200h1v1h-1zM113 197h1v2h-1zM113 195h1v2h-1zM114 201h1v1h-1zM114 200h1v1h-1zM114 199h1v2h-1zM114 198h1v1h-1zM115 198h1v1h-1zM115 186h1v1h-1zM116 196h1v1h-1zM116 195h1v1h-1zM116 186h1v1h-1zM117 202h1v2h-1zM117 201h1v2h-1zM117 200h1v1h-1zM117 199h1v2h-1zM117 198h1v1h-1zM117 196h1v2h-1zM117 190h1v1h-1zM118 207h1v1h-1zM118 206h1v1h-1zM118 205h1v1h-1zM118 193h1v1h-1zM119 208h1v1h-1zM119 206h1v1h-1zM119 205h1v1h-1zM119 200h1v1h-1zM119 198h1v2h-1zM119 194h1v2h-1zM120 208h1v2h-1zM120 207h1v2h-1zM120 205h1v1h-1zM120 202h1v1h-1zM120 200h1v2h-1zM120 199h1v2h-1zM121 203h1v2h-1zM121 199h1v1h-1zM121 196h1v2h-1zM122 207h1v1h-1zM122 206h1v2h-1zM122 205h1v2h-1zM122 204h1v1h-1zM122 199h1v1h-1zM122 198h1v1h-1zM123 205h1v2h-1zM123 203h1v2h-1zM123 202h1v2h-1zM123 199h1v1h-1zM124 204h1v1h-1zM124 203h1v2h-1zM124 202h1v1h-1zM124 201h1v1h-1zM124 200h1v2h-1zM124 198h1v2h-1zM125 205h1v1h-1zM125 204h1v2h-1zM125 203h1v1h-1zM125 202h1v1h-1zM125 201h1v2h-1zM125 200h1v1h-1zM125 199h1v1h-1zM125 197h1v2h-1zM125 196h1v2h-1zM126 205h1v2h-1zM126 204h1v1h-1zM126 202h1v1h-1zM126 201h1v2h-1zM126 200h1v1h-1zM126 199h1v1h-1zM126 198h1v1h-1zM126 197h1v1h-1zM127 206h1v1h-1zM127 205h1v1h-1zM127 204h1v1h-1zM127 203h1v1h-1zM127 202h1v1h-1zM127 201h1v2h-1zM127 199h1v2h-1zM128 204h1v2h-1zM128 203h1v2h-1zM128 202h1v2h-1zM128 199h1v1h-1zM128 197h1v1h-1zM128 196h1v1h-1zM129 205h1v1h-1zM129 204h1v1h-1zM129 203h1v2h-1zM129 201h1v2h-1zM129 200h1v2h-1zM129 199h1v1h-1zM129 196h1v1h-1zM129 193h1v2h-1zM130 205h1v2h-1zM130 204h1v1h-1zM130 203h1v1h-1zM130 199h1v1h-1zM130 197h1v1h-1zM130 196h1v2h-1zM131 204h1v1h-1zM131 201h1v1h-1zM131 200h1v2h-1zM131 198h1v1h-1zM132 206h1v2h-1zM132 205h1v1h-1zM132 204h1v2h-1zM132 196h1v2h-1zM133 205h1v2h-1zM133 204h1v1h-1zM133 203h1v1h-1zM133 199h1v2h-1zM133 196h1v2h-1zM134 200h1v1h-1zM135 204h1v1h-1zM135 203h1v2h-1zM135 202h1v1h-1zM135 201h1v1h-1zM135 196h1v1h-1zM136 201h1v1h-1zM136 200h1v1h-1zM136 199h1v1h-1zM136 198h1v2h-1zM136 197h1v2h-1zM136 184h1v2h-1zM137 198h1v1h-1zM137 197h1v1h-1zM137 196h1v2h-1zM137 192h1v1h-1zM137 184h1v2h-1zM138 199h1v2h-1zM138 196h1v2h-1zM138 194h1v1h-1zM139 203h1v2h-1zM139 197h1v2h-1zM140 204h1v1h-1zM140 202h1v1h-1zM140 200h1v1h-1zM141 205h1v1h-1zM141 204h1v2h-1zM141 203h1v2h-1zM141 201h1v2h-1zM141 200h1v1h-1zM141 199h1v2h-1zM141 197h1v1h-1zM141 196h1v2h-1zM141 193h1v1h-1zM142 205h1v1h-1zM142 202h1v1h-1zM142 198h1v1h-1zM142 197h1v1h-1zM143 204h1v2h-1zM143 203h1v2h-1zM143 202h1v2h-1zM143 201h1v1h-1zM143 200h1v2h-1zM143 199h1v1h-1zM144 204h1v1h-1zM144 202h1v2h-1zM144 200h1v2h-1zM144 196h1v2h-1zM145 203h1v1h-1zM145 201h1v2h-1zM145 199h1v1h-1zM145 198h1v1h-1zM146 204h1v2h-1zM146 203h1v1h-1zM146 202h1v1h-1zM146 199h1v2h-1zM146 197h1v2h-1zM147 207h1v1h-1zM147 205h1v2h-1zM148 206h1v2h-1zM148 204h1v1h-1zM148 199h1v1h-1zM148 197h1v2h-1zM148 195h1v1h-1zM149 207h1v1h-1zM149 206h1v2h-1zM149 205h1v1h-1zM149 204h1v1h-1zM149 203h1v2h-1zM149 197h1v2h-1zM150 208h1v1h-1zM150 207h1v1h-1zM150 206h1v1h-1zM150 205h1v1h-1zM150 204h1v2h-1zM150 203h1v2h-1zM150 198h1v2h-1zM151 204h1v2h-1zM151 203h1v2h-1zM151 202h1v2h-1zM151 201h1v1h-1zM151 199h1v1h-1zM151 198h1v1h-1zM152 203h1v2h-1zM152 202h1v1h-1zM152 201h1v1h-1zM153 203h1v1h-1zM154 201h1v1h-1zM154 200h1v1h-1zM154 198h1v2h-1zM154 197h1v2h-1zM154 196h1v2h-1zM155 201h1v2h-1zM155 197h1v1h-1zM155 196h1v1h-1zM156 201h1v2h-1zM156 198h1v1h-1zM157 202h1v1h-1zM158 204h1v1h-1zM158 202h1v1h-1zM158 201h1v2h-1zM159 200h1v1h-1zM159 197h1v1h-1zM159 196h1v1h-1zM159 194h1v1h-1zM160 206h1v2h-1zM160 205h1v2h-1zM160 204h1v2h-1zM160 196h1v1h-1zM161 205h1v1h-1zM161 202h1v1h-1zM161 200h1v1h-1zM161 195h1v1h-1zM162 204h1v2h-1zM162 203h1v1h-1zM162 200h1v1h-1zM162 199h1v2h-1zM163 207h1v1h-1zM163 206h1v2h-1zM163 205h1v2h-1zM163 203h1v1h-1zM163 202h1v2h-1zM163 201h1v1h-1zM163 198h1v2h-1zM163 196h1v2h-1zM164 206h1v1h-1zM164 205h1v1h-1zM164 203h1v1h-1zM164 202h1v1h-1zM164 201h1v1h-1zM164 197h1v1h-1zM165 204h1v1h-1zM165 203h1v1h-1zM165 202h1v2h-1zM165 201h1v1h-1zM165 200h1v2h-1zM165 197h1v1h-1zM166 204h1v2h-1zM166 201h1v1h-1zM166 196h1v2h-1zM167 203h1v2h-1zM167 202h1v1h-1zM167 201h1v2h-1zM167 199h1v2h-1zM167 198h1v1h-1zM167 197h1v2h-1zM167 196h1v1h-1zM168 205h1v1h-1zM168 204h1v2h-1zM168 203h1v1h-1zM168 199h1v1h-1zM168 198h1v1h-1zM169 205h1v1h-1zM169 204h1v2h-1zM169 203h1v2h-1zM169 201h1v1h-1zM169 200h1v1h-1zM169 196h1v1h-1zM170 204h1v2h-1zM170 202h1v1h-1zM170 201h1v1h-1zM170 199h1v1h-1zM170 198h1v1h-1zM170 197h1v1h-1zM170 196h1v1h-1zM171 203h1v2h-1zM171 202h1v1h-1zM171 201h1v1h-1zM171 200h1v1h-1zM171 196h1v1h-1zM172 205h1v1h-1zM172 204h1v1h-1zM172 203h1v1h-1zM172 202h1v1h-1zM172 197h1v1h-1zM172 193h1v1h-1zM173 204h1v2h-1zM173 202h1v1h-1zM173 200h1v1h-1zM173 199h1v1h-1zM173 198h1v2h-1zM173 197h1v1h-1zM174 205h1v1h-1zM174 204h1v1h-1zM174 202h1v1h-1zM174 196h1v2h-1zM175 206h1v1h-1zM175 205h1v1h-1zM175 204h1v2h-1zM175 203h1v2h-1zM175 200h1v2h-1zM175 198h1v2h-1zM175 197h1v2h-1zM175 196h1v1h-1zM176 207h1v1h-1zM176 206h1v2h-1zM176 201h1v1h-1zM176 200h1v1h-1zM176 197h1v1h-1zM177 203h1v2h-1zM177 201h1v2h-1zM177 196h1v2h-1zM178 197h1v1h-1zM179 202h1v1h-1zM179 201h1v2h-1zM179 198h1v2h-1zM179 197h1v1h-1zM180 200h1v1h-1zM180 199h1v1h-1zM180 198h1v1h-1zM181 204h1v2h-1zM181 203h1v2h-1zM181 202h1v1h-1zM181 197h1v1h-1zM181 196h1v1h-1zM182 205h1v2h-1zM182 204h1v2h-1zM182 203h1v2h-1zM182 202h1v2h-1zM182 201h1v1h-1zM182 200h1v2h-1zM183 199h1v2h-1zM184 199h1v1h-1zM184 198h1v2h-1zM184 196h1v2h-1zM185 200h1v2h-1zM185 199h1v1h-1zM185 198h1v2h-1zM185 197h1v1h-1zM185 196h1v1h-1zM186 197h1v1h-1zM186 194h1v1h-1zM187 202h1v1h-1zM187 201h1v2h-1zM187 200h1v2h-1zM187 199h1v2h-1zM187 198h1v2h-1zM187 196h1v1h-1zM188 201h1v1h-1zM188 199h1v1h-1zM188 198h1v1h-1zM188 193h1v1h-1zM188 186h1v1h-1zM189 203h1v1h-1zM189 201h1v1h-1zM189 200h1v2h-1zM189 199h1v2h-1zM189 198h1v1h-1zM189 197h1v2h-1zM189 196h1v2h-1zM189 188h1v1h-1zM190 206h1v1h-1zM190 204h1v1h-1zM190 201h1v1h-1zM190 194h1v2h-1zM190 187h1v2h-1zM191 206h1v1h-1zM191 205h1v1h-1zM191 203h1v2h-1zM191 202h1v2h-1zM191 200h1v2h-1zM191 199h1v1h-1zM191 193h1v2h-1zM192 207h1v2h-1zM192 206h1v1h-1zM192 205h1v2h-1zM192 203h1v1h-1zM192 200h1v1h-1zM192 198h1v2h-1zM193 202h1v2h-1zM193 201h1v2h-1zM193 198h1v1h-1zM194 204h1v1h-1zM194 200h1v2h-1zM194 196h1v2h-1zM194 190h1v2h-1zM195 206h1v1h-1zM195 205h1v1h-1zM196 204h1v2h-1zM196 203h1v2h-1zM196 198h1v1h-1zM197 203h1v2h-1zM197 200h1v2h-1zM198 205h1v1h-1zM198 202h1v1h-1zM198 197h1v1h-1zM199 200h1v2h-1zM199 197h1v1h-1zM199 195h1v2h-1zM199 192h1v1h-1zM200 204h1v1h-1zM200 202h1v2h-1zM200 198h1v1h-1zM201 204h1v1h-1zM201 203h1v2h-1zM201 202h1v2h-1zM201 201h1v1h-1zM201 199h1v1h-1zM201 197h1v1h-1zM201 196h1v2h-1zM202 201h1v2h-1zM202 200h1v2h-1zM202 199h1v1h-1zM202 196h1v1h-1zM203 204h1v1h-1zM203 201h1v2h-1zM203 192h1v1h-1zM204 205h1v1h-1zM204 204h1v2h-1zM204 202h1v1h-1zM204 201h1v1h-1zM204 200h1v2h-1zM204 198h1v2h-1zM204 193h1v1h-1zM205 206h1v2h-1zM205 203h1v1h-1zM205 201h1v1h-1zM205 200h1v1h-1zM206 199h1v1h-1zM207 208h1v2h-1zM207 207h1v1h-1zM207 206h1v2h-1zM207 205h1v1h-1zM207 204h1v2h-1zM207 202h1v2h-1zM207 199h1v2h-1zM208 205h1v1h-1zM208 203h1v2h-1zM208 202h1v1h-1zM209 204h1v1h-1zM209 202h1v1h-1zM209 199h1v1h-1zM210 203h1v2h-1zM210 202h1v1h-1zM210 200h1v1h-1zM210 199h1v2h-1zM211 197h1v2h-1zM212 204h1v1h-1zM212 203h1v2h-1zM212 202h1v1h-1zM212 198h1v1h-1zM213 204h1v1h-1zM213 203h1v1h-1zM213 201h1v2h-1zM213 200h1v2h-1zM213 198h1v2h-1zM213 193h1v1h-1zM214 204h1v2h-1zM214 202h1v1h-1zM214 196h1v2h-1zM215 206h1v1h-1zM215 205h1v2h-1zM215 203h1v2h-1zM215 200h1v2h-1zM215 198h1v1h-1zM215 197h1v1h-1zM216 206h1v1h-1zM216 204h1v2h-1zM216 202h1v1h-1zM216 201h1v1h-1zM216 200h1v1h-1zM216 194h1v2h-1zM217 206h1v2h-1zM217 205h1v2h-1zM218 204h1v1h-1zM218 203h1v2h-1zM218 201h1v2h-1zM218 200h1v1h-1zM219 205h1v1h-1zM219 204h1v2h-1zM219 203h1v1h-1zM219 202h1v2h-1zM219 201h1v2h-1zM220 203h1v1h-1zM220 201h1v2h-1zM220 200h1v2h-1zM220 199h1v1h-1zM220 198h1v1h-1zM220 197h1v1h-1zM221 196h1v1h-1zM221 188h1v2h-1zM222 202h1v2h-1zM222 201h1v1h-1zM222 200h1v2h-1zM222 199h1v1h-1zM222 198h1v2h-1zM223 202h1v1h-1zM223 201h1v1h-1zM224 203h1v1h-1zM224 202h1v2h-1zM224 195h1v2h-1zM225 206h1v1h-1zM225 204h1v1h-1zM226 202h1v1h-1zM226 197h1v1h-1zM227 204h1v2h-1zM227 202h1v1h-1zM228 203h1v1h-1zM228 201h1v1h-1zM228 198h1v1h-1zM229 203h1v1h-1zM229 202h1v2h-1zM230 203h1v2h-1zM230 202h1v2h-1zM230 200h1v1h-1zM230 199h1v1h-1zM230 196h1v1h-1zM231 201h1v2h-1zM231 200h1v2h-1zM231 199h1v1h-1zM231 198h1v1h-1zM231 195h1v2h-1zM232 197h1v2h-1zM232 196h1v1h-1zM232 195h1v2h-1zM232 193h1v1h-1zM233 201h1v2h-1zM233 200h1v1h-1zM233 198h1v2h-1zM233 197h1v1h-1zM233 192h1v2h-1zM234 203h1v2h-1zM234 202h1v2h-1zM234 200h1v1h-1zM234 197h1v1h-1zM234 196h1v2h-1zM235 204h1v2h-1zM235 203h1v2h-1zM235 202h1v1h-1zM235 201h1v1h-1zM235 200h1v1h-1zM235 199h1v2h-1zM236 204h1v1h-1zM236 199h1v2h-1zM236 198h1v2h-1zM236 187h1v1h-1zM237 206h1v1h-1zM237 205h1v1h-1zM237 204h1v1h-1zM237 203h1v2h-1zM237 198h1v1h-1zM237 197h1v2h-1zM238 204h1v1h-1zM238 203h1v1h-1zM238 202h1v1h-1zM238 200h1v1h-1zM238 199h1v1h-1zM238 198h1v1h-1zM238 197h1v1h-1zM238 196h1v1h-1zM238 195h1v1h-1zM239 204h1v2h-1zM239 199h1v1h-1zM240 205h1v1h-1zM240 204h1v1h-1zM240 202h1v2h-1zM240 201h1v2h-1zM240 198h1v2h-1zM240 197h1v2h-1zM241 201h1v1h-1zM241 197h1v2h-1zM241 194h1v1h-1zM242 206h1v1h-1zM242 204h1v2h-1zM242 202h1v1h-1zM242 201h1v1h-1zM242 200h1v1h-1zM242 199h1v2h-1zM242 197h1v1h-1zM242 196h1v2h-1zM242 194h1v1h-1zM243 205h1v2h-1zM243 201h1v2h-1zM243 194h1v2h-1zM244 207h1v1h-1zM244 206h1v2h-1zM244 205h1v2h-1zM244 202h1v1h-1zM244 200h1v1h-1zM245 207h1v2h-1zM245 206h1v1h-1zM245 205h1v2h-1zM245 201h1v1h-1zM245 200h1v1h-1zM245 199h1v1h-1zM246 200h1v1h-1zM247 206h1v1h-1zM247 204h1v1h-1zM247 199h1v2h-1zM248 206h1v2h-1zM248 204h1v1h-1zM248 203h1v1h-1zM248 201h1v1h-1zM248 200h1v1h-1zM248 196h1v2h-1zM249 207h1v1h-1zM249 205h1v1h-1zM249 204h1v1h-1zM249 203h1v1h-1zM249 198h1v1h-1zM249 196h1v1h-1zM250 207h1v1h-1zM250 206h1v1h-1zM250 205h1v2h-1zM250 199h1v1h-1zM251 204h1v1h-1zM251 203h1v1h-1zM251 202h1v1h-1zM251 201h1v2h-1zM251 200h1v2h-1zM251 197h1v1h-1zM251 196h1v1h-1zM252 201h1v1h-1zM252 200h1v1h-1zM252 196h1v1h-1zM253 201h1v1h-1zM253 200h1v1h-1zM253 199h1v2h-1zM253 198h1v1h-1zM253 197h1v1h-1zM254 200h1v1h-1zM254 199h1v1h-1zM254 197h1v2h-1zM255 207h1v1h-1zM255 206h1v2h-1zM255 205h1v2h-1zM255 204h1v1h-1zM255 202h1v1h-1zM255 199h1v2h-1zM255 196h1v2h-1zM255 190h1v2h-1zM256 204h1v1h-1zM256 203h1v1h-1zM256 202h1v1h-1zM256 189h1v1h-1zM257 202h1v1h-1zM257 201h1v1h-1zM257 199h1v2h-1zM258 206h1v2h-1zM258 204h1v1h-1zM258 202h1v1h-1zM258 199h1v1h-1zM258 198h1v1h-1zM259 202h1v1h-1zM259 200h1v2h-1zM259 199h1v1h-1zM260 206h1v1h-1zM260 204h1v2h-1zM260 203h1v1h-1zM261 198h1v1h-1zM261 193h1v2h-1z" fill="#828282"/>
<path d="M44 188h1v2h-1zM45 192h1v1h-1zM45 186h1v1h-1zM48 195h1v1h-1zM48 193h1v1h-1zM48 190h1v1h-1zM49 195h1v2h-1zM49 191h1v2h-1zM50 194h1v2h-1zM51 195h1v1h-1zM51 194h1v1h-1zM51 193h1v1h-1zM51 189h1v1h-1zM52 195h1v1h-1zM52 190h1v1h-1zM53 194h1v1h-1zM53 190h1v2h-1zM53 188h1v2h-1zM53 187h1v2h-1zM53 185h1v1h-1zM54 194h1v2h-1zM54 191h1v2h-1zM54 189h1v2h-1zM55 193h1v1h-1zM55 191h1v1h-1zM55 189h1v2h-1zM55 188h1v1h-1zM56 195h1v2h-1zM56 193h1v1h-1zM56 191h1v1h-1zM57 191h1v2h-1zM58 194h1v1h-1zM58 192h1v1h-1zM58 188h1v2h-1zM58 186h1v2h-1zM59 194h1v1h-1zM59 193h1v1h-1zM59 191h1v2h-1zM59 187h1v2h-1zM60 194h1v2h-1zM60 191h1v1h-1zM62 192h1v1h-1zM65 195h1v1h-1zM67 189h1v1h-1zM69 191h1v2h-1zM71 192h1v2h-1zM71 191h1v1h-1zM75 194h1v2h-1zM76 195h1v1h-1zM77 191h1v1h-1zM77 190h1v2h-1zM81 192h1v1h-1zM81 189h1v2h-1zM82 189h1v1h-1zM83 195h1v1h-1zM85 194h1v1h-1zM87 191h1v2h-1zM88 187h1v2h-1zM89 188h1v1h-1zM90 195h1v2h-1zM90 194h1v2h-1zM91 191h1v1h-1zM91 187h1v1h-1zM92 195h1v1h-1zM92 192h1v1h-1zM92 191h1v2h-1zM93 195h1v2h-1zM93 193h1v1h-1zM93 191h1v2h-1zM93 188h1v2h-1zM96 192h1v2h-1zM97 193h1v2h-1zM97 185h1v1h-1zM98 195h1v1h-1zM99 194h1v1h-1zM99 192h1v1h-1zM100 193h1v2h-1zM100 190h1v1h-1zM101 187h1v1h-1zM104 193h1v1h-1zM104 192h1v2h-1zM105 188h1v1h-1zM106 195h1v2h-1zM107 195h1v1h-1zM107 193h1v2h-1zM107 187h1v2h-1zM109 194h1v1h-1zM110 191h1v1h-1zM111 190h1v1h-1zM111 189h1v1h-1zM113 188h1v1h-1zM115 195h1v2h-1zM115 194h1v1h-1zM115 192h1v2h-1zM116 193h1v1h-1zM116 188h1v1h-1zM116 187h1v1h-1zM117 195h1v1h-1zM117 193h1v1h-1zM117 191h1v2h-1zM117 189h1v2h-1zM118 189h1v1h-1zM119 192h1v1h-1zM120 194h1v2h-1zM120 192h1v1h-1zM121 195h1v1h-1zM121 194h1v1h-1zM121 193h1v1h-1zM121 188h1v2h-1zM123 188h1v1h-1zM124 195h1v1h-1zM125 195h1v1h-1zM126 189h1v2h-1zM127 195h1v2h-1zM130 195h1v1h-1zM130 185h1v2h-1zM132 192h1v1h-1zM133 193h1v1h-1zM135 189h1v1h-1zM136 195h1v1h-1zM137 195h1v1h-1zM137 193h1v2h-1zM137 188h1v1h-1zM138 195h1v2h-1zM138 190h1v1h-1zM138 189h1v1h-1zM138 186h1v1h-1zM140 194h1v1h-1zM142 195h1v1h-1zM143 195h1v1h-1zM143 191h1v2h-1zM146 195h1v1h-1zM146 190h1v1h-1zM150 194h1v1h-1zM150 193h1v2h-1zM151 194h1v2h-1zM151 192h1v1h-1zM152 191h1v1h-1zM155 193h1v1h-1zM155 191h1v2h-1zM155 189h1v2h-1zM156 189h1v1h-1zM159 189h1v1h-1zM159 187h1v1h-1zM160 189h1v1h-1zM161 192h1v1h-1zM161 191h1v1h-1zM162 195h1v1h-1zM164 190h1v2h-1zM166 191h1v1h-1zM167 192h1v1h-1zM167 191h1v2h-1zM167 190h1v1h-1zM169 195h1v1h-1zM169 194h1v2h-1zM169 193h1v2h-1zM170 184h1v1h-1zM171 187h1v1h-1zM171 186h1v2h-1zM171 185h1v1h-1zM172 195h1v1h-1zM172 194h1v2h-1zM173 194h1v1h-1zM173 189h1v2h-1zM175 194h1v1h-1zM175 189h1v1h-1zM182 195h1v2h-1zM182 191h1v1h-1zM183 194h1v2h-1zM183 191h1v2h-1zM184 194h1v1h-1zM184 189h1v2h-1zM185 195h1v1h-1zM185 194h1v1h-1zM185 192h1v1h-1zM185 191h1v2h-1zM185 190h1v2h-1zM185 189h1v1h-1zM185 188h1v2h-1zM185 184h1v2h-1zM186 195h1v2h-1zM186 193h1v1h-1zM186 192h1v1h-1zM186 189h1v2h-1zM186 188h1v1h-1zM186 187h1v1h-1zM187 194h1v1h-1zM187 189h1v1h-1zM188 195h1v1h-1zM188 194h1v1h-1zM188 190h1v2h-1zM188 189h1v2h-1zM188 188h1v1h-1zM188 184h1v2h-1zM189 193h1v2h-1zM189 189h1v2h-1zM197 194h1v2h-1zM203 195h1v1h-1zM203 191h1v2h-1zM205 195h1v1h-1zM207 192h1v2h-1zM208 189h1v1h-1zM209 193h1v1h-1zM209 188h1v1h-1zM210 194h1v2h-1zM211 191h1v1h-1zM212 195h1v1h-1zM213 194h1v2h-1zM213 190h1v2h-1zM217 188h1v2h-1zM217 187h1v1h-1zM219 192h1v1h-1zM220 194h1v2h-1zM220 190h1v1h-1zM220 185h1v2h-1zM221 195h1v1h-1zM221 194h1v1h-1zM221 192h1v1h-1zM221 190h1v1h-1zM221 187h1v2h-1zM222 195h1v1h-1zM222 192h1v2h-1zM222 191h1v1h-1zM223 194h1v2h-1zM227 190h1v2h-1zM231 194h1v2h-1zM231 189h1v1h-1zM232 194h1v2h-1zM232 192h1v1h-1zM232 190h1v1h-1zM232 189h1v1h-1zM232 186h1v2h-1zM234 191h1v1h-1zM236 193h1v1h-1zM237 193h1v1h-1zM238 193h1v1h-1zM241 195h1v2h-1zM241 190h1v2h-1zM241 189h1v2h-1zM244 188h1v2h-1zM246 193h1v1h-1zM247 193h1v1h-1zM248 194h1v1h-1zM248 187h1v2h-1zM253 194h1v1h-1zM253 193h1v2h-1zM256 187h1v1h-1zM257 195h1v2h-1zM258 194h1v1h-1zM260 194h1v2h-1z" fill="#a2a2a2"/>
<path d="M46 199h1v1h-1zM47 189h1v2h-1zM48 196h1v1h-1zM49 196h1v1h-1zM49 194h1v2h-1zM50 193h1v1h-1zM51 201h1v1h-1zM51 199h1v2h-1zM51 196h1v2h-1zM52 194h1v1h-1zM52 193h1v1h-1zM53 195h1v2h-1zM53 186h1v2h-1zM54 199h1v1h-1zM56 199h1v2h-1zM56 196h1v2h-1zM59 196h1v2h-1zM59 195h1v2h-1zM59 190h1v1h-1zM59 189h1v2h-1zM60 190h1v1h-1zM63 205h1v1h-1zM65 208h1v1h-1zM65 201h1v1h-1zM66 206h1v2h-1zM66 202h1v2h-1zM67 206h1v1h-1zM73 203h1v1h-1zM79 202h1v1h-1zM80 205h1v2h-1zM80 202h1v1h-1zM80 201h1v2h-1zM88 205h1v1h-1zM88 202h1v1h-1zM90 197h1v1h-1zM90 190h1v1h-1zM91 197h1v1h-1zM91 195h1v1h-1zM92 196h1v1h-1zM92 193h1v1h-1zM93 204h1v2h-1zM93 200h1v1h-1zM94 205h1v1h-1zM94 194h1v1h-1zM96 207h1v1h-1zM97 208h1v1h-1zM97 205h1v2h-1zM100 202h1v1h-1zM102 204h1v2h-1zM103 205h1v1h-1zM106 205h1v1h-1zM107 206h1v1h-1zM107 198h1v1h-1zM108 202h1v1h-1zM109 198h1v2h-1zM112 204h1v2h-1zM114 192h1v1h-1zM115 197h1v2h-1zM116 185h1v2h-1zM118 201h1v2h-1zM119 207h1v1h-1zM121 206h1v2h-1zM121 205h1v2h-1zM123 204h1v1h-1zM123 194h1v1h-1zM124 205h1v2h-1zM125 193h1v1h-1zM127 196h1v2h-1zM128 201h1v2h-1zM129 198h1v1h-1zM130 202h1v1h-1zM130 193h1v1h-1zM130 190h1v2h-1zM131 199h1v2h-1zM133 197h1v1h-1zM134 202h1v1h-1zM134 197h1v2h-1zM135 200h1v1h-1zM136 192h1v1h-1zM137 191h1v1h-1zM138 200h1v1h-1zM143 194h1v1h-1zM144 191h1v1h-1zM145 202h1v2h-1zM146 200h1v1h-1zM146 198h1v1h-1zM148 207h1v1h-1zM152 193h1v2h-1zM154 199h1v1h-1zM155 200h1v2h-1zM158 205h1v2h-1zM159 198h1v2h-1zM159 191h1v1h-1zM161 201h1v2h-1zM162 201h1v1h-1zM164 198h1v2h-1zM166 203h1v2h-1zM169 198h1v1h-1zM170 203h1v1h-1zM170 191h1v1h-1zM170 190h1v1h-1zM173 205h1v1h-1zM173 203h1v1h-1zM176 198h1v1h-1zM183 201h1v2h-1zM183 196h1v2h-1zM184 187h1v2h-1zM185 193h1v1h-1zM186 196h1v1h-1zM187 197h1v2h-1zM188 200h1v2h-1zM189 202h1v2h-1zM189 194h1v2h-1zM190 205h1v1h-1zM193 204h1v2h-1zM194 207h1v1h-1zM194 206h1v1h-1zM194 203h1v1h-1zM198 206h1v2h-1zM198 184h1v1h-1zM200 203h1v1h-1zM201 200h1v1h-1zM202 202h1v2h-1zM202 198h1v2h-1zM205 205h1v1h-1zM205 199h1v1h-1zM209 201h1v1h-1zM213 195h1v2h-1zM215 194h1v2h-1zM216 205h1v1h-1zM216 203h1v1h-1zM217 208h1v2h-1zM219 197h1v1h-1zM219 194h1v1h-1zM220 202h1v2h-1zM221 191h1v1h-1zM222 197h1v2h-1zM223 205h1v2h-1zM223 203h1v2h-1zM224 200h1v1h-1zM225 200h1v1h-1zM226 203h1v1h-1zM226 201h1v2h-1zM226 199h1v1h-1zM226 195h1v2h-1zM227 203h1v1h-1zM228 204h1v1h-1zM230 204h1v2h-1zM233 202h1v2h-1zM234 198h1v2h-1zM235 190h1v2h-1zM236 197h1v1h-1zM236 192h1v1h-1zM238 194h1v2h-1zM238 189h1v1h-1zM240 200h1v1h-1zM241 196h1v2h-1zM242 205h1v1h-1zM243 203h1v1h-1zM246 204h1v1h-1zM248 205h1v1h-1zM248 195h1v1h-1zM250 190h1v1h-1zM258 197h1v1h-1zM258 196h1v1h-1zM258 191h1v1h-1zM261 204h1v2h-1z" fill="#c9a9b4"/>
<path d="M158.5 173.7h1.4v1.4h-1.4zM193.1 176.7h1.4v1.4h-1.4zM212.4 173.4h1.4v1.4h-1.4zM129.3 182.2h1.4v1.4h-1.4zM205.9 174.6h1.4v1.4h-1.4zM176.7 173.3h1.4v1.4h-1.4zM223.0 180.1h1.4v1.4h-1.4zM103.4 183.4h1.4v1.4h-1.4zM84.9 183.5h1.4v1.4h-1.4zM222.6 179.9h1.4v1.4h-1.4zM88.2 173.7h1.4v1.4h-1.4zM201.6 175.1h1.4v1.4h-1.4zM182.0 183.2h1.4v1.4h-1.4zM233.4 179.8h1.4v1.4h-1.4zM108.9 176.9h1.4v1.4h-1.4zM148.8 181.2h1.4v1.4h-1.4zM83.3 183.6h1.4v1.4h-1.4zM68.8 176.9h1.4v1.4h-1.4zM161.9 177.6h1.4v1.4h-1.4zM76.5 171.7h1.4v1.4h-1.4zM112.5 175.0h1.4v1.4h-1.4zM155.1 173.0h1.4v1.4h-1.4zM258.4 185.3h1.4v1.4h-1.4zM132.4 178.2h1.4v1.4h-1.4zM154.8 173.3h1.4v1.4h-1.4zM57.6 174.9h1.4v1.4h-1.4zM97.4 172.4h1.4v1.4h-1.4zM138.6 173.4h1.4v1.4h-1.4zM157.6 180.3h1.4v1.4h-1.4zM224.7 173.1h1.4v1.4h-1.4zM217.2 182.3h1.4v1.4h-1.4zM82.8 172.0h1.4v1.4h-1.4zM248.0 176.9h1.4v1.4h-1.4zM188.3 178.9h1.4v1.4h-1.4zM147.9 173.9h1.4v1.4h-1.4zM230.0 178.9h1.4v1.4h-1.4zM213.8 183.6h1.4v1.4h-1.4zM150.4 171.6h1.4v1.4h-1.4zM115.2 180.9h1.4v1.4h-1.4zM81.5 174.4h1.4v1.4h-1.4zM123.6 178.1h1.4v1.4h-1.4zM133.1 177.0h1.4v1.4h-1.4zM160.1 184.9h1.4v1.4h-1.4zM67.7 174.0h1.4v1.4h-1.4zM237.4 175.2h1.4v1.4h-1.4zM117.2 182.3h1.4v1.4h-1.4zM207.9 174.1h1.4v1.4h-1.4zM243.6 184.9h1.4v1.4h-1.4zM135.9 179.5h1.4v1.4h-1.4zM95.3 173.8h1.4v1.4h-1.4zM258.4 174.5h1.4v1.4h-1.4zM130.8 183.7h1.4v1.4h-1.4zM132.6 185.2h1.4v1.4h-1.4zM54.0 156.8h1.4v1.4h-1.4zM57.8 168.8h1.4v1.4h-1.4zM59.1 159.8h1.4v1.4h-1.4zM47.0 184.2h1.4v1.4h-1.4zM46.4 174.4h1.4v1.4h-1.4zM45.7 184.3h1.4v1.4h-1.4zM46.7 183.0h1.4v1.4h-1.4zM46.7 181.9h1.4v1.4h-1.4zM47.0 185.3h1.4v1.4h-1.4zM50.7 175.3h1.4v1.4h-1.4zM51.0 184.0h1.4v1.4h-1.4zM50.7 175.5h1.4v1.4h-1.4zM49.9 185.1h1.4v1.4h-1.4zM49.9 183.3h1.4v1.4h-1.4zM49.4 179.0h1.4v1.4h-1.4zM54.5 179.8h1.4v1.4h-1.4zM54.8 171.8h1.4v1.4h-1.4zM54.8 183.2h1.4v1.4h-1.4zM54.7 182.8h1.4v1.4h-1.4zM54.5 181.4h1.4v1.4h-1.4zM54.1 172.9h1.4v1.4h-1.4zM53.7 172.2h1.4v1.4h-1.4zM58.4 173.0h1.4v1.4h-1.4zM58.8 181.8h1.4v1.4h-1.4zM58.4 174.9h1.4v1.4h-1.4zM57.7 179.1h1.4v1.4h-1.4zM57.8 182.4h1.4v1.4h-1.4zM58.8 172.8h1.4v1.4h-1.4zM48.9 183.3h1.4v1.4h-1.4zM71.8 169.3h1.4v1.4h-1.4zM64.8 183.8h1.4v1.4h-1.4zM90.5 183.6h1.4v1.4h-1.4zM91.7 161.5h1.4v1.4h-1.4zM91.7 184.1h1.4v1.4h-1.4zM90.3 165.2h1.4v1.4h-1.4zM90.7 182.9h1.4v1.4h-1.4zM90.4 174.2h1.4v1.4h-1.4zM90.7 171.7h1.4v1.4h-1.4zM90.8 174.1h1.4v1.4h-1.4zM91.5 166.9h1.4v1.4h-1.4zM91.6 164.1h1.4v1.4h-1.4zM91.5 167.6h1.4v1.4h-1.4zM91.8 183.9h1.4v1.4h-1.4zM91.7 174.6h1.4v1.4h-1.4zM91.4 169.3h1.4v1.4h-1.4zM91.4 179.5h1.4v1.4h-1.4zM91.4 164.2h1.4v1.4h-1.4zM90.8 170.1h1.4v1.4h-1.4zM91.3 164.8h1.4v1.4h-1.4zM90.4 183.6h1.4v1.4h-1.4zM88.9 180.5h1.4v1.4h-1.4zM90.1 175.9h1.4v1.4h-1.4zM89.8 184.5h1.4v1.4h-1.4zM90.0 175.6h1.4v1.4h-1.4zM90.4 178.3h1.4v1.4h-1.4zM98.6 162.3h1.4v1.4h-1.4zM99.2 172.8h1.4v1.4h-1.4zM108.1 182.8h1.4v1.4h-1.4zM116.1 171.3h1.4v1.4h-1.4zM114.4 171.1h1.4v1.4h-1.4zM115.8 182.4h1.4v1.4h-1.4zM114.9 171.9h1.4v1.4h-1.4zM116.0 176.7h1.4v1.4h-1.4zM116.1 173.9h1.4v1.4h-1.4zM137.4 173.8h1.4v1.4h-1.4zM137.8 183.8h1.4v1.4h-1.4zM137.9 177.5h1.4v1.4h-1.4zM137.3 177.3h1.4v1.4h-1.4zM137.1 181.0h1.4v1.4h-1.4zM137.5 172.7h1.4v1.4h-1.4zM137.1 170.4h1.4v1.4h-1.4zM136.7 178.8h1.4v1.4h-1.4zM138.0 169.6h1.4v1.4h-1.4zM137.8 181.7h1.4v1.4h-1.4zM142.3 171.8h1.4v1.4h-1.4zM159.3 174.8h1.4v1.4h-1.4zM171.3 169.8h1.4v1.4h-1.4zM185.6 183.1h1.4v1.4h-1.4zM184.7 183.7h1.4v1.4h-1.4zM184.4 181.1h1.4v1.4h-1.4zM184.2 182.3h1.4v1.4h-1.4zM185.7 173.8h1.4v1.4h-1.4zM183.9 184.8h1.4v1.4h-1.4zM185.2 178.1h1.4v1.4h-1.4zM185.3 182.5h1.4v1.4h-1.4zM185.3 178.0h1.4v1.4h-1.4zM185.2 175.5h1.4v1.4h-1.4zM185.5 182.5h1.4v1.4h-1.4zM185.6 174.8h1.4v1.4h-1.4zM187.8 184.2h1.4v1.4h-1.4zM186.6 181.8h1.4v1.4h-1.4zM187.3 179.2h1.4v1.4h-1.4zM186.9 180.9h1.4v1.4h-1.4zM187.6 177.4h1.4v1.4h-1.4zM202.3 149.8h1.4v1.4h-1.4zM220.2 174.3h1.4v1.4h-1.4zM220.4 184.8h1.4v1.4h-1.4zM220.6 176.0h1.4v1.4h-1.4zM220.1 182.4h1.4v1.4h-1.4zM221.1 182.7h1.4v1.4h-1.4zM219.9 183.5h1.4v1.4h-1.4zM220.8 168.0h1.4v1.4h-1.4zM220.2 169.5h1.4v1.4h-1.4zM219.7 184.3h1.4v1.4h-1.4zM245.3 169.8h1.4v1.4h-1.4z" fill="#C49A00" opacity="0.9"/>
<path d="M85.3 174.2h1.4v1.4h-1.4zM237.0 176.7h1.4v1.4h-1.4zM257.7 171.5h1.4v1.4h-1.4zM166.7 184.9h1.4v1.4h-1.4zM68.6 180.2h1.4v1.4h-1.4zM60.9 180.2h1.4v1.4h-1.4zM162.3 173.3h1.4v1.4h-1.4zM162.5 174.5h1.4v1.4h-1.4zM137.0 171.9h1.4v1.4h-1.4zM258.0 184.7h1.4v1.4h-1.4zM52.1 154.8h1.4v1.4h-1.4zM47.0 162.3h1.4v1.4h-1.4zM46.4 170.8h1.4v1.4h-1.4zM50.8 171.8h1.4v1.4h-1.4zM59.8 163.8h1.4v1.4h-1.4zM62.3 166.8h1.4v1.4h-1.4zM64.2 157.8h1.4v1.4h-1.4zM68.7 165.8h1.4v1.4h-1.4zM64.2 170.8h1.4v1.4h-1.4zM84.6 167.8h1.4v1.4h-1.4zM108.1 175.8h1.4v1.4h-1.4zM114.0 154.8h1.4v1.4h-1.4zM122.3 169.8h1.4v1.4h-1.4zM136.1 148.7h1.4v1.4h-1.4zM135.8 148.0h1.4v1.4h-1.4zM135.9 166.4h1.4v1.4h-1.4zM137.1 182.0h1.4v1.4h-1.4zM135.8 161.7h1.4v1.4h-1.4zM136.2 172.5h1.4v1.4h-1.4zM136.8 173.2h1.4v1.4h-1.4zM136.8 167.3h1.4v1.4h-1.4zM132.3 169.8h1.4v1.4h-1.4zM154.3 162.8h1.4v1.4h-1.4zM165.3 157.8h1.4v1.4h-1.4zM177.3 175.8h1.4v1.4h-1.4zM185.6 167.7h1.4v1.4h-1.4zM185.0 166.9h1.4v1.4h-1.4zM195.3 147.8h1.4v1.4h-1.4zM207.3 165.8h1.4v1.4h-1.4zM227.3 159.8h1.4v1.4h-1.4zM229.3 171.8h1.4v1.4h-1.4zM235.3 164.8h1.4v1.4h-1.4zM239.3 174.8h1.4v1.4h-1.4zM251.3 159.8h1.4v1.4h-1.4z" fill="#00BFC4" opacity="0.9"/>
<path d="M102.4 174.4h1.4v1.4h-1.4zM251.4 174.1h1.4v1.4h-1.4zM133.7 180.2h1.4v1.4h-1.4zM197.0 181.1h1.4v1.4h-1.4zM183.4 178.9h1.4v1.4h-1.4zM93.3 172.1h1.4v1.4h-1.4zM224.7 174.1h1.4v1.4h-1.4zM254.1 181.7h1.4v1.4h-1.4zM161.2 178.9h1.4v1.4h-1.4zM241.1 177.0h1.4v1.4h-1.4zM219.5 185.3h1.4v1.4h-1.4zM173.3 178.0h1.4v1.4h-1.4zM254.2 178.8h1.4v1.4h-1.4zM187.5 180.9h1.4v1.4h-1.4zM114.8 174.4h1.4v1.4h-1.4zM84.4 181.7h1.4v1.4h-1.4zM88.3 175.0h1.4v1.4h-1.4zM106.8 180.7h1.4v1.4h-1.4zM168.1 178.1h1.4v1.4h-1.4zM137.1 178.1h1.4v1.4h-1.4zM96.4 175.3h1.4v1.4h-1.4zM172.9 173.5h1.4v1.4h-1.4zM240.4 181.6h1.4v1.4h-1.4zM175.5 177.2h1.4v1.4h-1.4zM106.1 183.9h1.4v1.4h-1.4zM61.1 177.2h1.4v1.4h-1.4zM123.6 174.8h1.4v1.4h-1.4zM52.1 165.8h1.4v1.4h-1.4zM49.6 176.0h1.4v1.4h-1.4zM48.6 174.7h1.4v1.4h-1.4zM49.4 174.1h1.4v1.4h-1.4zM48.7 181.6h1.4v1.4h-1.4zM57.2 179.3h1.4v1.4h-1.4zM55.6 179.0h1.4v1.4h-1.4zM55.5 177.4h1.4v1.4h-1.4zM55.9 178.2h1.4v1.4h-1.4zM64.2 151.8h1.4v1.4h-1.4zM87.1 172.8h1.4v1.4h-1.4zM107.5 164.8h1.4v1.4h-1.4zM107.5 168.8h1.4v1.4h-1.4zM114.0 158.3h1.4v1.4h-1.4zM127.3 164.8h1.4v1.4h-1.4zM149.3 167.8h1.4v1.4h-1.4zM199.3 169.8h1.4v1.4h-1.4zM213.3 169.8h1.4v1.4h-1.4zM219.7 171.3h1.4v1.4h-1.4zM220.9 177.0h1.4v1.4h-1.4zM254.3 174.8h1.4v1.4h-1.4z" fill="#F8766D" opacity="0.6"/>
<path d="M139.3 154.8h1.4v1.4h-1.4zM184.9 175.2h1.4v1.4h-1.4zM184.6 173.4h1.4v1.4h-1.4zM184.6 174.9h1.4v1.4h-1.4z" fill="#F8766D" opacity="0.9"/>
<line x1="44.0" y1="178.6" x2="261.6" y2="178.6" stroke="#ff5a5a" stroke-width="1.2" stroke-dasharray="2,1.8"/>
<line x1="44.0" y1="183.2" x2="261.6" y2="183.2" stroke="#5a5aff" stroke-width="1.2" stroke-dasharray="2,1.8"/>
<line x1="43.2" y1="143" x2="43.2" y2="239.2" stroke="#444" stroke-width="1.3"/>
<line x1="43.2" y1="239.0" x2="261.6" y2="239.0" stroke="#555" stroke-width="1.2"/>
<text x="42.2" y="240.5" font-size="4.6" font-weight="normal" font-style="normal" fill="#333" text-anchor="end" >0</text>
<text x="42.2" y="208.0" font-size="4.6" font-weight="normal" font-style="normal" fill="#333" text-anchor="end" >5</text>
<text x="42.2" y="175.3" font-size="4.6" font-weight="normal" font-style="normal" fill="#333" text-anchor="end" >10</text>
<text transform="translate(55.3,242.5) rotate(-90)" font-size="4.6" fill="#222" text-anchor="end">Chr1</text>
<text transform="translate(73.7,242.5) rotate(-90)" font-size="4.6" fill="#222" text-anchor="end">Chr2</text>
<text transform="translate(90.4,242.5) rotate(-90)" font-size="4.6" fill="#222" text-anchor="end">Chr3</text>
<text transform="translate(106.9,242.5) rotate(-90)" font-size="4.6" fill="#222" text-anchor="end">Chr4</text>
<text transform="translate(123.3,242.5) rotate(-90)" font-size="4.6" fill="#222" text-anchor="end">Chr5</text>
<text transform="translate(139.4,242.5) rotate(-90)" font-size="4.6" fill="#222" text-anchor="end">Chr6</text>
<text transform="translate(155.4,242.5) rotate(-90)" font-size="4.6" fill="#222" text-anchor="end">Chr7</text>
<text transform="translate(170.3,242.5) rotate(-90)" font-size="4.6" fill="#222" text-anchor="end">Chr8</text>
<text transform="translate(184.2,242.5) rotate(-90)" font-size="4.6" fill="#222" text-anchor="end">Chr9</text>
<text transform="translate(198.3,242.5) rotate(-90)" font-size="4.6" fill="#222" text-anchor="end">Chr10</text>
<text transform="translate(210.6,242.5) rotate(-90)" font-size="4.6" fill="#222" text-anchor="end">Chr11</text>
<text transform="translate(222.6,242.5) rotate(-90)" font-size="4.6" fill="#222" text-anchor="end">Chr12</text>
<text transform="translate(235.0,242.5) rotate(-90)" font-size="4.6" fill="#222" text-anchor="end">Chr13</text>
<text transform="translate(246.4,242.5) rotate(-90)" font-size="4.6" fill="#222" text-anchor="end">Chr14</text>
<text transform="translate(257.6,242.5) rotate(-90)" font-size="4.6" fill="#222" text-anchor="end">Chr15</text>
<text x="163.8" y="266.5" font-size="8.3" font-weight="bold" font-style="normal" fill="#000" text-anchor="middle" >Chromosomes</text>
<text transform="translate(22.3,211.6) rotate(-90)" font-size="9" font-weight="bold" fill="#111">-log<tspan font-size="5" dy="2">10</tspan><tspan dy="-2">(</tspan><tspan font-style="italic">p</tspan>)</text>
<circle cx="242.4" cy="144.10000000000002" r="1.25" fill="#F8766D"/>
<text x="245.1" y="145.4" font-size="3.5" font-weight="normal" font-style="normal" fill="#333" text-anchor="start" >GLM</text>
<circle cx="242.4" cy="148.10000000000002" r="1.25" fill="#C49A00"/>
<text x="245.1" y="149.4" font-size="3.5" font-weight="normal" font-style="normal" fill="#333" text-anchor="start" >GLM(Q)</text>
<circle cx="242.4" cy="152.10000000000002" r="1.25" fill="#00BA38"/>
<text x="245.1" y="153.4" font-size="3.5" font-weight="normal" font-style="normal" fill="#333" text-anchor="start" >MLM(K)</text>
<circle cx="242.4" cy="156.10000000000002" r="1.25" fill="#00BFC4"/>
<text x="245.1" y="157.4" font-size="3.5" font-weight="normal" font-style="normal" fill="#333" text-anchor="start" >MLM(Q+K)</text>
<rect x="184.3" y="173" width="4.5" height="10" fill="none" stroke="#ff2020" stroke-width="0.7" rx="0.8"/>
<text x="190" y="173.3" font-size="4.8" font-weight="bold" fill="#ff2a2a" stroke="#fff" stroke-width="0.8" paint-order="stroke">CSS0044862</text>
<line x1="63.328112080845194" y1="274" x2="63.328112080845194" y2="369.2" stroke="#d9d9d9" stroke-width="0.8"/>
<line x1="80.35153881488287" y1="274" x2="80.35153881488287" y2="369.2" stroke="#d9d9d9" stroke-width="0.8"/>
<line x1="96.77413872301332" y1="274" x2="96.77413872301332" y2="369.2" stroke="#d9d9d9" stroke-width="0.8"/>
<line x1="113.19673863114377" y1="274" x2="113.19673863114377" y2="369.2" stroke="#d9d9d9" stroke-width="0.8"/>
<line x1="129.51920073495634" y1="274" x2="129.51920073495634" y2="369.2" stroke="#d9d9d9" stroke-width="0.8"/>
<line x1="145.2408360128617" y1="274" x2="145.2408360128617" y2="369.2" stroke="#d9d9d9" stroke-width="0.8"/>
<line x1="161.46316031235645" y1="274" x2="161.46316031235645" y2="369.2" stroke="#d9d9d9" stroke-width="0.8"/>
<line x1="174.98176389526873" y1="274" x2="174.98176389526873" y2="369.2" stroke="#d9d9d9" stroke-width="0.8"/>
<line x1="189.4016077170418" y1="274" x2="189.4016077170418" y2="369.2" stroke="#d9d9d9" stroke-width="0.8"/>
<line x1="203.02034910427193" y1="274" x2="203.02034910427193" y2="369.2" stroke="#d9d9d9" stroke-width="0.8"/>
<line x1="213.9353697749196" y1="274" x2="213.9353697749196" y2="369.2" stroke="#d9d9d9" stroke-width="0.8"/>
<line x1="227.0534221405604" y1="274" x2="227.0534221405604" y2="369.2" stroke="#d9d9d9" stroke-width="0.8"/>
<line x1="238.5692696371153" y1="274" x2="238.5692696371153" y2="369.2" stroke="#d9d9d9" stroke-width="0.8"/>
<line x1="249.9849793293523" y1="274" x2="249.9849793293523" y2="369.2" stroke="#d9d9d9" stroke-width="0.8"/>
<path d="M43.7,369.2 L43.7,344.5 L44.7,344.5 L44.7,344.7 L45.7,344.7 L45.7,343.3 L46.7,343.3 L46.7,341.5 L47.7,341.5 L47.7,340.2 L48.7,340.2 L48.7,341.5 L49.7,341.5 L49.7,339.8 L50.7,339.8 L50.7,339.3 L51.7,339.3 L51.7,340.7 L52.7,340.7 L52.7,342.7 L53.7,342.7 L53.7,342.1 L54.7,342.1 L54.7,339.6 L55.7,339.6 L55.7,340.8 L56.7,340.8 L56.7,342.6 L57.7,342.6 L57.7,341.3 L58.7,341.3 L58.7,339.0 L59.7,339.0 L59.7,341.6 L60.7,341.6 L60.7,345.4 L61.7,345.4 L61.7,346.6 L62.7,346.6 L62.7,343.5 L63.7,343.5 L63.7,341.9 L64.7,341.9 L64.7,340.7 L65.7,340.7 L65.7,340.6 L66.7,340.6 L66.7,342.5 L67.7,342.5 L67.7,342.5 L68.7,342.5 L68.7,344.2 L69.7,344.2 L69.7,346.0 L70.7,346.0 L70.7,342.7 L71.7,342.7 L71.7,342.2 L72.7,342.2 L72.7,346.3 L73.7,346.3 L73.7,341.3 L74.7,341.3 L74.7,341.4 L75.7,341.4 L75.7,341.7 L76.7,341.7 L76.7,341.7 L77.7,341.7 L77.7,340.7 L78.7,340.7 L78.7,344.6 L79.7,344.6 L79.7,342.0 L80.7,342.0 L80.7,339.6 L81.7,339.6 L81.7,342.0 L82.7,342.0 L82.7,343.5 L83.7,343.5 L83.7,344.8 L84.7,344.8 L84.7,343.1 L85.7,343.1 L85.7,341.6 L86.7,341.6 L86.7,340.6 L87.7,340.6 L87.7,339.9 L88.7,339.9 L88.7,340.9 L89.7,340.9 L89.7,337.7 L90.7,337.7 L90.7,336.8 L91.7,336.8 L91.7,336.7 L92.7,336.7 L92.7,342.0 L93.7,342.0 L93.7,340.6 L94.7,340.6 L94.7,341.4 L95.7,341.4 L95.7,338.8 L96.7,338.8 L96.7,341.7 L97.7,341.7 L97.7,342.8 L98.7,342.8 L98.7,344.2 L99.7,344.2 L99.7,341.2 L100.7,341.2 L100.7,345.3 L101.7,345.3 L101.7,344.8 L102.7,344.8 L102.7,341.2 L103.7,341.2 L103.7,341.8 L104.7,341.8 L104.7,341.1 L105.7,341.1 L105.7,338.9 L106.7,338.9 L106.7,340.4 L107.7,340.4 L107.7,340.3 L108.7,340.3 L108.7,341.6 L109.7,341.6 L109.7,341.8 L110.7,341.8 L110.7,341.2 L111.7,341.2 L111.7,339.6 L112.7,339.6 L112.7,341.9 L113.7,341.9 L113.7,346.0 L114.7,346.0 L114.7,341.8 L115.7,341.8 L115.7,342.1 L116.7,342.1 L116.7,342.8 L117.7,342.8 L117.7,341.7 L118.7,341.7 L118.7,345.5 L119.7,345.5 L119.7,340.3 L120.7,340.3 L120.7,343.0 L121.7,343.0 L121.7,341.2 L122.7,341.2 L122.7,340.8 L123.7,340.8 L123.7,342.3 L124.7,342.3 L124.7,341.4 L125.7,341.4 L125.7,340.6 L126.7,340.6 L126.7,340.3 L127.7,340.3 L127.7,341.8 L128.7,341.8 L128.7,340.5 L129.7,340.5 L129.7,341.3 L130.7,341.3 L130.7,340.2 L131.7,340.2 L131.7,340.3 L132.7,340.3 L132.7,340.8 L133.7,340.8 L133.7,340.1 L134.7,340.1 L134.7,341.5 L135.7,341.5 L135.7,337.7 L136.7,337.7 L136.7,335.8 L137.7,335.8 L137.7,338.3 L138.7,338.3 L138.7,341.5 L139.7,341.5 L139.7,338.7 L140.7,338.7 L140.7,342.9 L141.7,342.9 L141.7,341.4 L142.7,341.4 L142.7,342.6 L143.7,342.6 L143.7,342.9 L144.7,342.9 L144.7,340.7 L145.7,340.7 L145.7,343.2 L146.7,343.2 L146.7,344.4 L147.7,344.4 L147.7,343.2 L148.7,343.2 L148.7,341.8 L149.7,341.8 L149.7,341.6 L150.7,341.6 L150.7,340.0 L151.7,340.0 L151.7,341.9 L152.7,341.9 L152.7,340.5 L153.7,340.5 L153.7,340.4 L154.7,340.4 L154.7,339.1 L155.7,339.1 L155.7,339.6 L156.7,339.6 L156.7,339.8 L157.7,339.8 L157.7,339.2 L158.7,339.2 L158.7,341.4 L159.7,341.4 L159.7,340.6 L160.7,340.6 L160.7,338.0 L161.7,338.0 L161.7,340.9 L162.7,340.9 L162.7,342.1 L163.7,342.1 L163.7,341.3 L164.7,341.3 L164.7,341.6 L165.7,341.6 L165.7,339.3 L166.7,339.3 L166.7,340.0 L167.7,340.0 L167.7,338.3 L168.7,338.3 L168.7,340.1 L169.7,340.1 L169.7,342.6 L170.7,342.6 L170.7,338.0 L171.7,338.0 L171.7,337.9 L172.7,337.9 L172.7,336.8 L173.7,336.8 L173.7,338.5 L174.7,338.5 L174.7,337.2 L175.7,337.2 L175.7,338.5 L176.7,338.5 L176.7,341.7 L177.7,341.7 L177.7,339.4 L178.7,339.4 L178.7,341.7 L179.7,341.7 L179.7,338.8 L180.7,338.8 L180.7,338.8 L181.7,338.8 L181.7,336.7 L182.7,336.7 L182.7,337.8 L183.7,337.8 L183.7,339.5 L184.7,339.5 L184.7,345.2 L185.7,345.2 L185.7,341.2 L186.7,341.2 L186.7,340.1 L187.7,340.1 L187.7,341.4 L188.7,341.4 L188.7,341.0 L189.7,341.0 L189.7,343.3 L190.7,343.3 L190.7,342.7 L191.7,342.7 L191.7,340.6 L192.7,340.6 L192.7,342.0 L193.7,342.0 L193.7,338.3 L194.7,338.3 L194.7,340.5 L195.7,340.5 L195.7,336.7 L196.7,336.7 L196.7,337.4 L197.7,337.4 L197.7,339.3 L198.7,339.3 L198.7,343.4 L199.7,343.4 L199.7,340.7 L200.7,340.7 L200.7,341.6 L201.7,341.6 L201.7,342.6 L202.7,342.6 L202.7,341.2 L203.7,341.2 L203.7,341.6 L204.7,341.6 L204.7,337.9 L205.7,337.9 L205.7,339.0 L206.7,339.0 L206.7,343.2 L207.7,343.2 L207.7,344.2 L208.7,344.2 L208.7,343.7 L209.7,343.7 L209.7,342.9 L210.7,342.9 L210.7,341.7 L211.7,341.7 L211.7,341.2 L212.7,341.2 L212.7,344.2 L213.7,344.2 L213.7,340.2 L214.7,340.2 L214.7,339.6 L215.7,339.6 L215.7,340.5 L216.7,340.5 L216.7,340.8 L217.7,340.8 L217.7,338.6 L218.7,338.6 L218.7,335.3 L219.7,335.3 L219.7,333.7 L220.7,333.7 L220.7,334.1 L221.7,334.1 L221.7,338.7 L222.7,338.7 L222.7,345.8 L223.7,345.8 L223.7,344.6 L224.7,344.6 L224.7,342.8 L225.7,342.8 L225.7,342.6 L226.7,342.6 L226.7,341.3 L227.7,341.3 L227.7,342.4 L228.7,342.4 L228.7,344.0 L229.7,344.0 L229.7,344.1 L230.7,344.1 L230.7,341.2 L231.7,341.2 L231.7,340.1 L232.7,340.1 L232.7,341.6 L233.7,341.6 L233.7,343.5 L234.7,343.5 L234.7,340.6 L235.7,340.6 L235.7,340.1 L236.7,340.1 L236.7,342.4 L237.7,342.4 L237.7,342.8 L238.7,342.8 L238.7,344.6 L239.7,344.6 L239.7,340.3 L240.7,340.3 L240.7,340.8 L241.7,340.8 L241.7,339.7 L242.7,339.7 L242.7,338.8 L243.7,338.8 L243.7,336.9 L244.7,336.9 L244.7,340.5 L245.7,340.5 L245.7,339.6 L246.7,339.6 L246.7,338.7 L247.7,338.7 L247.7,340.3 L248.7,340.3 L248.7,339.5 L249.7,339.5 L249.7,338.0 L250.7,338.0 L250.7,342.1 L251.7,342.1 L251.7,343.5 L252.7,343.5 L252.7,345.1 L253.7,345.1 L253.7,341.7 L254.7,341.7 L254.7,342.9 L255.7,342.9 L255.7,340.9 L256.7,340.9 L256.7,340.9 L257.7,340.9 L257.7,342.0 L258.7,342.0 L258.7,341.1 L259.7,341.1 L259.7,342.2 L260.7,342.2 L260.7,369.2 Z" fill="#7f7f7f"/>
<path d="M43 342h1v2h-1zM43 341h1v2h-1zM43 340h1v1h-1zM43 338h1v1h-1zM43 337h1v1h-1zM43 333h1v1h-1zM43 332h1v1h-1zM44 342h1v1h-1zM44 341h1v2h-1zM44 339h1v1h-1zM44 338h1v1h-1zM44 337h1v2h-1zM45 342h1v1h-1zM45 341h1v1h-1zM45 337h1v2h-1zM45 336h1v2h-1zM45 333h1v1h-1zM45 330h1v2h-1zM46 340h1v2h-1zM46 339h1v1h-1zM46 338h1v1h-1zM46 337h1v1h-1zM46 336h1v1h-1zM47 339h1v1h-1zM47 333h1v1h-1zM47 331h1v2h-1zM47 330h1v1h-1zM48 340h1v2h-1zM48 339h1v2h-1zM48 335h1v1h-1zM49 337h1v2h-1zM49 336h1v1h-1zM49 335h1v1h-1zM49 332h1v2h-1zM50 337h1v1h-1zM50 336h1v1h-1zM50 333h1v2h-1zM50 332h1v1h-1zM50 331h1v1h-1zM50 328h1v1h-1zM50 325h1v1h-1zM51 339h1v2h-1zM51 338h1v1h-1zM51 335h1v1h-1zM51 330h1v1h-1zM51 324h1v2h-1zM52 340h1v2h-1zM52 339h1v1h-1zM52 338h1v1h-1zM52 334h1v1h-1zM52 332h1v2h-1zM53 341h1v1h-1zM53 339h1v2h-1zM53 337h1v1h-1zM53 336h1v2h-1zM53 335h1v2h-1zM53 333h1v2h-1zM53 331h1v1h-1zM54 338h1v2h-1zM54 337h1v2h-1zM54 331h1v2h-1zM55 339h1v2h-1zM55 338h1v2h-1zM55 337h1v1h-1zM55 335h1v2h-1zM55 334h1v1h-1zM56 341h1v2h-1zM56 340h1v1h-1zM56 339h1v1h-1zM56 338h1v1h-1zM56 332h1v2h-1zM57 340h1v1h-1zM57 338h1v2h-1zM57 336h1v1h-1zM57 335h1v2h-1zM58 337h1v1h-1zM58 336h1v1h-1zM58 335h1v1h-1zM58 332h1v1h-1zM59 340h1v2h-1zM59 337h1v1h-1zM59 335h1v1h-1zM59 333h1v1h-1zM59 332h1v1h-1zM59 331h1v2h-1zM59 321h1v1h-1zM60 344h1v1h-1zM60 343h1v2h-1zM60 341h1v1h-1zM60 340h1v1h-1zM60 339h1v2h-1zM60 338h1v1h-1zM60 335h1v1h-1zM61 345h1v2h-1zM61 344h1v1h-1zM61 339h1v2h-1zM61 334h1v1h-1zM61 333h1v1h-1zM61 330h1v2h-1zM62 342h1v2h-1zM62 341h1v1h-1zM62 339h1v2h-1zM62 337h1v1h-1zM62 333h1v2h-1zM62 327h1v1h-1zM63 340h1v1h-1zM63 338h1v2h-1zM63 334h1v2h-1zM64 339h1v1h-1zM64 337h1v2h-1zM64 335h1v2h-1zM64 331h1v1h-1zM65 338h1v1h-1zM65 335h1v2h-1zM66 340h1v1h-1zM66 339h1v1h-1zM66 333h1v1h-1zM67 339h1v2h-1zM67 338h1v1h-1zM67 337h1v2h-1zM67 336h1v2h-1zM68 343h1v1h-1zM68 342h1v1h-1zM68 341h1v2h-1zM68 340h1v1h-1zM68 339h1v1h-1zM68 332h1v1h-1zM68 330h1v2h-1zM68 325h1v1h-1zM69 345h1v2h-1zM69 344h1v2h-1zM69 342h1v2h-1zM69 341h1v2h-1zM69 339h1v1h-1zM69 336h1v2h-1zM69 333h1v1h-1zM70 340h1v2h-1zM70 339h1v1h-1zM70 338h1v2h-1zM70 337h1v1h-1zM70 336h1v1h-1zM70 333h1v2h-1zM70 330h1v1h-1zM71 341h1v1h-1zM71 340h1v2h-1zM71 339h1v1h-1zM71 336h1v2h-1zM71 335h1v1h-1zM71 332h1v2h-1zM72 345h1v2h-1zM72 344h1v2h-1zM72 343h1v1h-1zM72 342h1v1h-1zM72 341h1v1h-1zM72 337h1v1h-1zM73 340h1v1h-1zM73 337h1v1h-1zM73 335h1v2h-1zM73 324h1v2h-1zM73 322h1v1h-1zM74 340h1v1h-1zM74 339h1v1h-1zM74 337h1v1h-1zM74 336h1v1h-1zM74 335h1v1h-1zM74 334h1v2h-1zM74 333h1v1h-1zM74 332h1v1h-1zM75 340h1v1h-1zM75 339h1v2h-1zM75 337h1v2h-1zM75 335h1v1h-1zM75 331h1v1h-1zM75 330h1v1h-1zM75 329h1v1h-1zM76 339h1v1h-1zM76 336h1v2h-1zM76 333h1v2h-1zM76 332h1v1h-1zM77 339h1v1h-1zM77 338h1v2h-1zM77 337h1v2h-1zM77 334h1v2h-1zM77 332h1v1h-1zM77 331h1v2h-1zM77 330h1v1h-1zM77 329h1v1h-1zM78 343h1v2h-1zM78 342h1v2h-1zM78 341h1v2h-1zM78 340h1v1h-1zM78 336h1v1h-1zM79 340h1v1h-1zM79 339h1v1h-1zM79 338h1v1h-1zM79 334h1v1h-1zM79 333h1v2h-1zM79 330h1v1h-1zM79 326h1v2h-1zM80 338h1v1h-1zM80 335h1v1h-1zM80 318h1v2h-1zM81 340h1v1h-1zM81 339h1v2h-1zM81 338h1v1h-1zM81 337h1v1h-1zM81 334h1v1h-1zM81 333h1v2h-1zM81 332h1v2h-1zM81 331h1v1h-1zM81 330h1v1h-1zM82 342h1v1h-1zM82 341h1v1h-1zM82 340h1v2h-1zM82 337h1v2h-1zM83 340h1v1h-1zM83 329h1v1h-1zM84 340h1v2h-1zM84 338h1v2h-1zM84 336h1v2h-1zM84 334h1v2h-1zM84 330h1v2h-1zM84 324h1v1h-1zM85 340h1v1h-1zM85 339h1v1h-1zM85 338h1v1h-1zM85 337h1v2h-1zM85 336h1v2h-1zM85 335h1v1h-1zM86 331h1v1h-1zM87 338h1v1h-1zM87 337h1v1h-1zM87 335h1v2h-1zM87 334h1v1h-1zM87 332h1v1h-1zM87 329h1v2h-1zM87 326h1v2h-1zM87 325h1v2h-1zM88 339h1v1h-1zM88 333h1v1h-1zM88 332h1v2h-1zM88 331h1v2h-1zM88 329h1v2h-1zM89 335h1v2h-1zM89 334h1v1h-1zM89 329h1v1h-1zM90 335h1v1h-1zM90 334h1v1h-1zM90 333h1v1h-1zM90 332h1v1h-1zM90 331h1v1h-1zM90 324h1v1h-1zM91 335h1v1h-1zM91 334h1v2h-1zM91 333h1v2h-1zM91 332h1v1h-1zM92 340h1v1h-1zM92 335h1v1h-1zM92 334h1v1h-1zM92 333h1v2h-1zM92 332h1v2h-1zM92 329h1v1h-1zM93 335h1v2h-1zM93 329h1v2h-1zM94 340h1v1h-1zM94 337h1v1h-1zM94 334h1v2h-1zM94 331h1v2h-1zM95 337h1v2h-1zM95 336h1v2h-1zM95 335h1v1h-1zM95 332h1v1h-1zM95 326h1v1h-1zM96 340h1v2h-1zM96 337h1v2h-1zM96 334h1v1h-1zM97 341h1v2h-1zM97 340h1v2h-1zM97 338h1v1h-1zM97 334h1v1h-1zM97 332h1v1h-1zM98 343h1v2h-1zM98 342h1v1h-1zM98 341h1v1h-1zM98 340h1v1h-1zM98 338h1v1h-1zM98 337h1v1h-1zM98 329h1v1h-1zM99 340h1v2h-1zM99 339h1v2h-1zM99 338h1v1h-1zM99 337h1v2h-1zM99 335h1v1h-1zM99 334h1v1h-1zM99 332h1v2h-1zM99 329h1v1h-1zM99 326h1v1h-1zM100 342h1v2h-1zM100 341h1v1h-1zM100 338h1v2h-1zM100 337h1v2h-1zM100 336h1v2h-1zM100 334h1v2h-1zM101 343h1v1h-1zM101 342h1v2h-1zM101 340h1v1h-1zM101 339h1v1h-1zM101 336h1v2h-1zM101 335h1v1h-1zM101 334h1v1h-1zM101 333h1v1h-1zM101 332h1v2h-1zM101 331h1v2h-1zM102 337h1v2h-1zM102 336h1v2h-1zM103 340h1v1h-1zM103 330h1v2h-1zM104 339h1v2h-1zM104 338h1v1h-1zM104 332h1v1h-1zM104 326h1v2h-1zM105 337h1v1h-1zM105 336h1v1h-1zM105 334h1v2h-1zM106 338h1v1h-1zM107 337h1v1h-1zM107 336h1v1h-1zM107 331h1v2h-1zM108 338h1v1h-1zM108 337h1v2h-1zM108 332h1v2h-1zM108 331h1v1h-1zM108 330h1v1h-1zM109 340h1v2h-1zM109 336h1v2h-1zM110 340h1v1h-1zM110 337h1v1h-1zM110 336h1v2h-1zM110 335h1v1h-1zM110 334h1v2h-1zM110 326h1v2h-1zM111 338h1v2h-1zM111 335h1v1h-1zM112 337h1v2h-1zM112 335h1v2h-1zM112 334h1v1h-1zM112 332h1v2h-1zM112 331h1v1h-1zM113 345h1v1h-1zM113 343h1v1h-1zM113 342h1v1h-1zM113 341h1v1h-1zM113 340h1v1h-1zM113 339h1v2h-1zM113 338h1v2h-1zM113 336h1v2h-1zM113 334h1v1h-1zM113 327h1v1h-1zM114 339h1v1h-1zM114 337h1v2h-1zM114 336h1v1h-1zM114 334h1v2h-1zM114 331h1v1h-1zM115 341h1v2h-1zM115 339h1v1h-1zM115 337h1v1h-1zM116 341h1v2h-1zM116 340h1v1h-1zM116 339h1v2h-1zM116 338h1v2h-1zM116 336h1v1h-1zM116 332h1v1h-1zM116 329h1v2h-1zM117 340h1v1h-1zM117 339h1v1h-1zM117 338h1v1h-1zM117 337h1v1h-1zM117 336h1v1h-1zM117 335h1v1h-1zM117 331h1v1h-1zM117 330h1v1h-1zM117 329h1v1h-1zM118 344h1v1h-1zM118 339h1v2h-1zM118 338h1v2h-1zM118 336h1v2h-1zM119 336h1v2h-1zM119 329h1v1h-1zM120 340h1v1h-1zM120 339h1v2h-1zM120 338h1v1h-1zM120 331h1v2h-1zM121 335h1v2h-1zM121 325h1v1h-1zM122 338h1v2h-1zM122 337h1v1h-1zM123 341h1v2h-1zM123 340h1v1h-1zM123 339h1v1h-1zM123 338h1v1h-1zM123 336h1v2h-1zM123 334h1v1h-1zM123 332h1v1h-1zM123 330h1v1h-1zM124 340h1v1h-1zM124 337h1v1h-1zM124 336h1v1h-1zM124 332h1v2h-1zM125 339h1v2h-1zM126 337h1v2h-1zM126 336h1v1h-1zM126 335h1v2h-1zM126 333h1v1h-1zM126 332h1v1h-1zM126 331h1v1h-1zM126 329h1v2h-1zM126 328h1v1h-1zM127 340h1v1h-1zM127 339h1v1h-1zM127 338h1v1h-1zM127 333h1v1h-1zM128 339h1v1h-1zM128 338h1v2h-1zM128 325h1v1h-1zM129 340h1v1h-1zM129 339h1v2h-1zM129 338h1v1h-1zM129 337h1v1h-1zM129 335h1v2h-1zM129 334h1v1h-1zM129 332h1v2h-1zM129 331h1v2h-1zM130 339h1v1h-1zM130 338h1v1h-1zM130 336h1v1h-1zM130 335h1v1h-1zM130 334h1v1h-1zM130 329h1v2h-1zM130 326h1v2h-1zM131 339h1v2h-1zM131 338h1v1h-1zM131 337h1v2h-1zM131 335h1v2h-1zM131 331h1v1h-1zM132 338h1v2h-1zM132 334h1v2h-1zM132 330h1v2h-1zM133 338h1v1h-1zM133 335h1v1h-1zM133 334h1v2h-1zM133 332h1v1h-1zM133 330h1v1h-1zM134 340h1v2h-1zM134 339h1v1h-1zM134 338h1v1h-1zM134 330h1v1h-1zM135 336h1v1h-1zM135 334h1v1h-1zM135 333h1v2h-1zM135 332h1v2h-1zM135 331h1v2h-1zM135 330h1v1h-1zM135 326h1v1h-1zM136 334h1v1h-1zM136 333h1v2h-1zM136 331h1v1h-1zM136 330h1v1h-1zM136 329h1v1h-1zM136 322h1v1h-1zM136 318h1v1h-1zM137 336h1v2h-1zM137 334h1v1h-1zM137 333h1v2h-1zM137 331h1v2h-1zM137 329h1v1h-1zM137 325h1v2h-1zM138 340h1v1h-1zM138 339h1v2h-1zM138 333h1v2h-1zM139 337h1v1h-1zM139 335h1v1h-1zM139 334h1v1h-1zM139 333h1v1h-1zM139 331h1v1h-1zM139 330h1v1h-1zM140 340h1v1h-1zM140 333h1v2h-1zM140 330h1v2h-1zM141 339h1v1h-1zM141 337h1v2h-1zM141 336h1v2h-1zM141 329h1v1h-1zM142 341h1v2h-1zM142 340h1v1h-1zM142 339h1v1h-1zM142 338h1v2h-1zM142 337h1v1h-1zM142 335h1v2h-1zM142 331h1v1h-1zM142 330h1v1h-1zM143 341h1v1h-1zM143 339h1v2h-1zM143 331h1v1h-1zM144 339h1v1h-1zM144 338h1v2h-1zM144 337h1v1h-1zM145 342h1v1h-1zM145 339h1v2h-1zM145 337h1v1h-1zM145 334h1v2h-1zM145 331h1v1h-1zM146 342h1v1h-1zM146 340h1v1h-1zM146 337h1v1h-1zM146 330h1v1h-1zM147 342h1v1h-1zM147 341h1v2h-1zM147 339h1v1h-1zM147 337h1v1h-1zM147 336h1v1h-1zM147 335h1v2h-1zM147 333h1v2h-1zM147 331h1v1h-1zM148 339h1v1h-1zM148 338h1v2h-1zM148 334h1v1h-1zM148 332h1v1h-1zM148 329h1v2h-1zM149 340h1v2h-1zM149 339h1v1h-1zM149 338h1v1h-1zM149 336h1v1h-1zM149 335h1v2h-1zM149 333h1v1h-1zM149 331h1v1h-1zM149 330h1v2h-1zM149 328h1v1h-1zM150 339h1v1h-1zM150 337h1v2h-1zM150 335h1v1h-1zM150 334h1v1h-1zM150 332h1v2h-1zM151 340h1v2h-1zM151 337h1v1h-1zM151 334h1v1h-1zM151 322h1v2h-1zM152 339h1v1h-1zM152 338h1v2h-1zM152 336h1v1h-1zM152 333h1v2h-1zM152 332h1v1h-1zM152 331h1v1h-1zM152 329h1v2h-1zM153 336h1v2h-1zM153 335h1v1h-1zM153 333h1v1h-1zM153 332h1v2h-1zM153 330h1v1h-1zM154 338h1v1h-1zM154 337h1v1h-1zM154 332h1v2h-1zM154 322h1v1h-1zM155 338h1v2h-1zM155 337h1v2h-1zM155 336h1v2h-1zM155 334h1v2h-1zM155 333h1v1h-1zM156 338h1v2h-1zM157 338h1v2h-1zM157 335h1v1h-1zM157 334h1v1h-1zM157 332h1v1h-1zM157 326h1v2h-1zM158 340h1v1h-1zM158 339h1v1h-1zM158 334h1v1h-1zM158 332h1v1h-1zM158 331h1v1h-1zM158 330h1v1h-1zM158 326h1v2h-1zM159 339h1v2h-1zM159 334h1v1h-1zM159 333h1v1h-1zM159 332h1v2h-1zM160 336h1v1h-1zM160 335h1v1h-1zM160 334h1v1h-1zM160 333h1v2h-1zM160 332h1v1h-1zM160 331h1v2h-1zM161 339h1v2h-1zM161 336h1v2h-1zM161 334h1v2h-1zM161 323h1v1h-1zM162 341h1v1h-1zM162 340h1v2h-1zM162 339h1v1h-1zM162 336h1v1h-1zM162 332h1v2h-1zM162 327h1v2h-1zM163 340h1v2h-1zM163 339h1v1h-1zM163 337h1v1h-1zM163 335h1v2h-1zM163 334h1v1h-1zM164 340h1v2h-1zM164 338h1v1h-1zM165 337h1v2h-1zM165 333h1v1h-1zM165 331h1v1h-1zM166 339h1v1h-1zM166 337h1v1h-1zM166 335h1v1h-1zM166 333h1v1h-1zM167 335h1v1h-1zM167 333h1v1h-1zM167 330h1v1h-1zM168 339h1v1h-1zM168 337h1v2h-1zM168 336h1v1h-1zM168 333h1v1h-1zM168 331h1v1h-1zM168 328h1v1h-1zM168 327h1v1h-1zM169 341h1v1h-1zM169 338h1v2h-1zM169 336h1v1h-1zM169 329h1v1h-1zM170 337h1v1h-1zM171 336h1v2h-1zM171 330h1v1h-1zM172 334h1v1h-1zM173 336h1v2h-1zM173 335h1v2h-1zM173 333h1v1h-1zM173 331h1v2h-1zM174 336h1v2h-1zM174 335h1v1h-1zM174 334h1v1h-1zM174 330h1v1h-1zM175 337h1v1h-1zM175 335h1v1h-1zM175 334h1v1h-1zM175 331h1v1h-1zM176 339h1v2h-1zM176 338h1v2h-1zM176 337h1v2h-1zM176 336h1v1h-1zM176 335h1v1h-1zM176 334h1v1h-1zM176 333h1v1h-1zM176 330h1v2h-1zM177 338h1v1h-1zM177 336h1v1h-1zM177 334h1v1h-1zM177 330h1v1h-1zM178 340h1v2h-1zM178 339h1v1h-1zM178 336h1v2h-1zM178 334h1v2h-1zM178 333h1v1h-1zM178 332h1v2h-1zM179 337h1v1h-1zM179 334h1v1h-1zM179 333h1v2h-1zM179 332h1v2h-1zM179 331h1v1h-1zM179 329h1v1h-1zM180 337h1v2h-1zM180 336h1v2h-1zM180 333h1v1h-1zM180 332h1v1h-1zM180 330h1v1h-1zM180 329h1v1h-1zM180 318h1v1h-1zM181 335h1v2h-1zM181 334h1v1h-1zM181 332h1v1h-1zM181 331h1v1h-1zM181 330h1v1h-1zM181 329h1v2h-1zM181 320h1v1h-1zM182 336h1v1h-1zM182 335h1v2h-1zM182 334h1v2h-1zM182 333h1v1h-1zM182 332h1v1h-1zM182 331h1v1h-1zM182 330h1v1h-1zM182 329h1v2h-1zM182 319h1v2h-1zM183 336h1v1h-1zM183 335h1v1h-1zM183 333h1v1h-1zM184 344h1v2h-1zM184 343h1v1h-1zM184 342h1v2h-1zM184 341h1v2h-1zM184 335h1v2h-1zM185 340h1v1h-1zM185 337h1v2h-1zM185 336h1v1h-1zM185 333h1v2h-1zM185 332h1v1h-1zM185 330h1v1h-1zM186 339h1v2h-1zM186 338h1v2h-1zM186 337h1v2h-1zM186 336h1v2h-1zM186 335h1v1h-1zM186 334h1v2h-1zM186 330h1v1h-1zM187 340h1v1h-1zM187 339h1v1h-1zM187 335h1v1h-1zM187 332h1v1h-1zM187 329h1v1h-1zM188 340h1v1h-1zM188 339h1v1h-1zM188 338h1v1h-1zM188 337h1v1h-1zM188 336h1v2h-1zM188 335h1v2h-1zM188 333h1v2h-1zM188 332h1v1h-1zM188 331h1v1h-1zM188 330h1v1h-1zM189 342h1v2h-1zM189 340h1v1h-1zM189 335h1v1h-1zM189 333h1v1h-1zM189 332h1v2h-1zM190 341h1v2h-1zM190 340h1v1h-1zM190 339h1v1h-1zM190 337h1v1h-1zM190 334h1v1h-1zM190 333h1v1h-1zM190 331h1v1h-1zM190 317h1v1h-1zM191 339h1v1h-1zM191 338h1v2h-1zM191 337h1v1h-1zM191 335h1v1h-1zM191 334h1v1h-1zM191 330h1v1h-1zM192 339h1v1h-1zM192 338h1v2h-1zM192 337h1v2h-1zM193 337h1v2h-1zM194 338h1v2h-1zM194 336h1v1h-1zM194 335h1v1h-1zM194 332h1v2h-1zM194 327h1v2h-1zM194 323h1v2h-1zM195 335h1v1h-1zM195 331h1v1h-1zM196 336h1v2h-1zM196 331h1v2h-1zM197 338h1v2h-1zM197 337h1v1h-1zM197 331h1v2h-1zM197 330h1v2h-1zM198 342h1v2h-1zM198 341h1v1h-1zM198 340h1v2h-1zM198 339h1v2h-1zM198 337h1v1h-1zM198 336h1v2h-1zM198 335h1v1h-1zM198 330h1v1h-1zM198 329h1v2h-1zM199 337h1v2h-1zM199 335h1v1h-1zM199 333h1v2h-1zM200 340h1v1h-1zM200 339h1v1h-1zM200 338h1v2h-1zM200 336h1v1h-1zM200 328h1v1h-1zM201 339h1v2h-1zM201 338h1v2h-1zM201 334h1v2h-1zM202 339h1v1h-1zM202 338h1v1h-1zM202 336h1v2h-1zM202 335h1v1h-1zM202 334h1v2h-1zM202 330h1v1h-1zM203 340h1v1h-1zM203 336h1v1h-1zM203 332h1v2h-1zM203 330h1v1h-1zM203 329h1v1h-1zM203 327h1v1h-1zM204 336h1v1h-1zM204 335h1v1h-1zM204 333h1v2h-1zM204 332h1v1h-1zM204 331h1v1h-1zM204 329h1v1h-1zM204 322h1v1h-1zM205 338h1v1h-1zM205 336h1v1h-1zM205 334h1v2h-1zM205 330h1v2h-1zM205 323h1v1h-1zM206 342h1v1h-1zM206 340h1v2h-1zM206 338h1v1h-1zM206 337h1v2h-1zM207 343h1v1h-1zM207 342h1v1h-1zM207 337h1v2h-1zM207 335h1v1h-1zM207 332h1v2h-1zM207 327h1v1h-1zM208 342h1v1h-1zM208 341h1v1h-1zM208 340h1v1h-1zM208 339h1v1h-1zM208 338h1v1h-1zM208 336h1v2h-1zM208 335h1v2h-1zM208 333h1v1h-1zM208 332h1v1h-1zM209 340h1v1h-1zM209 339h1v1h-1zM209 338h1v1h-1zM209 337h1v1h-1zM209 330h1v1h-1zM210 338h1v2h-1zM210 336h1v1h-1zM210 335h1v1h-1zM210 329h1v2h-1zM211 339h1v1h-1zM211 337h1v1h-1zM211 335h1v2h-1zM211 334h1v2h-1zM212 343h1v1h-1zM212 342h1v2h-1zM212 341h1v1h-1zM212 340h1v2h-1zM212 335h1v2h-1zM212 328h1v2h-1zM212 325h1v1h-1zM213 338h1v2h-1zM213 336h1v2h-1zM213 335h1v2h-1zM213 334h1v1h-1zM213 333h1v1h-1zM213 330h1v1h-1zM214 338h1v1h-1zM214 337h1v1h-1zM214 333h1v1h-1zM214 330h1v2h-1zM215 339h1v1h-1zM215 335h1v1h-1zM215 333h1v1h-1zM215 332h1v1h-1zM215 331h1v1h-1zM216 338h1v1h-1zM216 332h1v2h-1zM216 329h1v1h-1zM217 334h1v2h-1zM218 333h1v2h-1zM218 332h1v1h-1zM219 332h1v2h-1zM219 331h1v1h-1zM219 329h1v2h-1zM219 327h1v1h-1zM219 319h1v1h-1zM220 333h1v1h-1zM220 331h1v2h-1zM220 330h1v1h-1zM220 329h1v1h-1zM221 337h1v1h-1zM221 335h1v1h-1zM221 334h1v2h-1zM221 329h1v1h-1zM221 328h1v1h-1zM222 344h1v2h-1zM222 343h1v1h-1zM222 342h1v2h-1zM222 338h1v1h-1zM222 332h1v1h-1zM223 343h1v1h-1zM223 340h1v1h-1zM223 336h1v2h-1zM223 327h1v1h-1zM223 323h1v2h-1zM224 338h1v1h-1zM225 341h1v2h-1zM225 340h1v2h-1zM225 339h1v1h-1zM225 336h1v1h-1zM225 335h1v2h-1zM226 339h1v1h-1zM226 338h1v2h-1zM226 337h1v2h-1zM226 336h1v2h-1zM226 335h1v2h-1zM226 318h1v1h-1zM227 338h1v1h-1zM227 337h1v1h-1zM228 341h1v1h-1zM228 340h1v1h-1zM228 338h1v2h-1zM228 333h1v1h-1zM229 342h1v1h-1zM229 341h1v2h-1zM229 340h1v2h-1zM229 338h1v1h-1zM229 336h1v1h-1zM229 329h1v1h-1zM230 340h1v1h-1zM230 339h1v1h-1zM230 336h1v2h-1zM230 334h1v2h-1zM230 329h1v1h-1zM231 337h1v1h-1zM231 336h1v2h-1zM231 335h1v2h-1zM231 334h1v1h-1zM231 327h1v1h-1zM232 340h1v2h-1zM232 338h1v1h-1zM232 335h1v1h-1zM232 334h1v2h-1zM233 342h1v2h-1zM233 341h1v1h-1zM233 340h1v2h-1zM233 339h1v2h-1zM233 338h1v2h-1zM233 337h1v1h-1zM233 336h1v1h-1zM233 335h1v1h-1zM233 333h1v1h-1zM234 339h1v1h-1zM234 329h1v2h-1zM235 339h1v1h-1zM235 338h1v2h-1zM235 335h1v1h-1zM235 333h1v1h-1zM235 331h1v2h-1zM235 319h1v2h-1zM236 341h1v2h-1zM236 340h1v1h-1zM236 339h1v2h-1zM236 337h1v2h-1zM236 336h1v1h-1zM236 335h1v2h-1zM237 341h1v1h-1zM237 339h1v2h-1zM238 343h1v2h-1zM238 342h1v1h-1zM238 341h1v1h-1zM238 340h1v2h-1zM238 329h1v1h-1zM239 336h1v1h-1zM239 333h1v1h-1zM239 331h1v1h-1zM240 339h1v1h-1zM240 333h1v2h-1zM240 330h1v1h-1zM240 329h1v2h-1zM241 338h1v2h-1zM241 337h1v2h-1zM241 336h1v2h-1zM241 334h1v2h-1zM241 333h1v2h-1zM241 331h1v2h-1zM241 329h1v1h-1zM241 322h1v2h-1zM242 337h1v1h-1zM242 335h1v1h-1zM242 334h1v1h-1zM242 333h1v1h-1zM242 330h1v1h-1zM242 325h1v1h-1zM243 334h1v1h-1zM243 330h1v1h-1zM244 339h1v2h-1zM244 337h1v1h-1zM244 329h1v2h-1zM245 338h1v2h-1zM245 337h1v1h-1zM245 331h1v2h-1zM246 337h1v2h-1zM246 336h1v1h-1zM246 335h1v1h-1zM246 332h1v1h-1zM246 330h1v1h-1zM247 337h1v2h-1zM247 336h1v2h-1zM247 335h1v2h-1zM247 333h1v2h-1zM247 320h1v1h-1zM248 337h1v2h-1zM248 335h1v2h-1zM248 334h1v2h-1zM248 333h1v2h-1zM248 325h1v1h-1zM249 335h1v1h-1zM249 334h1v1h-1zM250 341h1v2h-1zM250 336h1v2h-1zM250 333h1v2h-1zM250 328h1v1h-1zM251 341h1v1h-1zM251 340h1v1h-1zM251 339h1v1h-1zM251 338h1v2h-1zM251 336h1v2h-1zM251 332h1v2h-1zM251 330h1v2h-1zM252 344h1v1h-1zM252 343h1v2h-1zM252 342h1v1h-1zM252 341h1v1h-1zM252 340h1v2h-1zM252 338h1v1h-1zM252 337h1v1h-1zM253 340h1v2h-1zM253 339h1v1h-1zM253 338h1v1h-1zM253 337h1v1h-1zM254 341h1v2h-1zM254 340h1v2h-1zM254 338h1v1h-1zM254 325h1v1h-1zM255 339h1v1h-1zM255 337h1v1h-1zM255 336h1v2h-1zM255 335h1v1h-1zM255 334h1v1h-1zM255 332h1v1h-1zM255 329h1v1h-1zM255 328h1v1h-1zM255 321h1v1h-1zM256 335h1v1h-1zM256 334h1v1h-1zM257 341h1v1h-1zM257 335h1v2h-1zM257 331h1v2h-1zM258 340h1v2h-1zM258 337h1v2h-1zM258 334h1v2h-1zM258 330h1v1h-1zM259 341h1v1h-1zM259 340h1v2h-1zM259 339h1v1h-1zM259 337h1v2h-1zM259 334h1v2h-1zM259 330h1v2h-1z" fill="#828282"/>
<path d="M49 328h1v1h-1zM50 327h1v2h-1zM55 328h1v2h-1zM56 325h1v2h-1zM56 323h1v1h-1zM58 328h1v2h-1zM60 326h1v1h-1zM61 326h1v2h-1zM61 320h1v2h-1zM62 325h1v1h-1zM65 324h1v1h-1zM65 321h1v1h-1zM66 328h1v1h-1zM71 324h1v2h-1zM72 327h1v2h-1zM73 328h1v2h-1zM73 327h1v1h-1zM73 326h1v2h-1zM73 323h1v1h-1zM74 327h1v2h-1zM74 324h1v1h-1zM77 327h1v2h-1zM78 328h1v1h-1zM81 326h1v2h-1zM81 325h1v2h-1zM84 322h1v1h-1zM85 328h1v1h-1zM85 326h1v1h-1zM88 327h1v1h-1zM89 320h1v2h-1zM89 317h1v1h-1zM90 323h1v1h-1zM91 328h1v2h-1zM91 322h1v2h-1zM91 316h1v2h-1zM92 328h1v1h-1zM92 323h1v2h-1zM92 320h1v2h-1zM95 321h1v1h-1zM96 326h1v2h-1zM96 321h1v1h-1zM99 328h1v2h-1zM99 324h1v2h-1zM100 328h1v2h-1zM100 323h1v1h-1zM102 328h1v2h-1zM107 322h1v2h-1zM108 325h1v1h-1zM109 328h1v1h-1zM109 324h1v2h-1zM112 325h1v2h-1zM113 328h1v1h-1zM117 321h1v2h-1zM118 328h1v1h-1zM122 324h1v1h-1zM124 325h1v1h-1zM127 328h1v1h-1zM127 321h1v2h-1zM129 328h1v1h-1zM132 323h1v1h-1zM133 326h1v2h-1zM134 328h1v1h-1zM134 326h1v1h-1zM136 328h1v2h-1zM136 327h1v1h-1zM136 325h1v2h-1zM136 324h1v2h-1zM136 321h1v2h-1zM136 320h1v2h-1zM136 319h1v2h-1zM136 316h1v1h-1zM137 320h1v1h-1zM140 328h1v1h-1zM143 328h1v1h-1zM146 316h1v2h-1zM147 324h1v2h-1zM150 320h1v2h-1zM151 325h1v2h-1zM152 322h1v1h-1zM153 322h1v1h-1zM153 318h1v1h-1zM155 328h1v1h-1zM156 328h1v2h-1zM157 328h1v1h-1zM157 325h1v1h-1zM159 325h1v1h-1zM160 324h1v2h-1zM162 323h1v2h-1zM166 324h1v2h-1zM167 320h1v1h-1zM173 323h1v1h-1zM174 327h1v1h-1zM174 324h1v2h-1zM174 323h1v1h-1zM175 325h1v2h-1zM176 328h1v1h-1zM179 323h1v1h-1zM179 321h1v1h-1zM180 328h1v1h-1zM180 327h1v2h-1zM180 326h1v1h-1zM180 325h1v2h-1zM181 327h1v2h-1zM181 325h1v1h-1zM181 316h1v2h-1zM182 323h1v1h-1zM182 322h1v2h-1zM185 327h1v2h-1zM185 318h1v1h-1zM186 325h1v1h-1zM190 327h1v2h-1zM191 326h1v1h-1zM192 327h1v2h-1zM194 322h1v1h-1zM194 321h1v1h-1zM195 328h1v1h-1zM195 327h1v1h-1zM195 322h1v2h-1zM196 317h1v2h-1zM197 328h1v1h-1zM199 326h1v1h-1zM204 323h1v1h-1zM204 318h1v2h-1zM207 326h1v2h-1zM208 318h1v2h-1zM212 327h1v1h-1zM214 321h1v2h-1zM214 319h1v2h-1zM215 327h1v2h-1zM216 328h1v1h-1zM218 327h1v1h-1zM218 325h1v2h-1zM218 324h1v2h-1zM219 328h1v1h-1zM219 325h1v2h-1zM219 324h1v2h-1zM219 321h1v1h-1zM219 320h1v1h-1zM220 327h1v2h-1zM220 326h1v1h-1zM220 323h1v1h-1zM221 316h1v1h-1zM223 328h1v2h-1zM225 324h1v1h-1zM226 326h1v1h-1zM228 327h1v2h-1zM228 325h1v1h-1zM232 324h1v2h-1zM233 326h1v1h-1zM235 326h1v1h-1zM238 328h1v1h-1zM238 327h1v2h-1zM238 325h1v1h-1zM240 325h1v2h-1zM241 327h1v2h-1zM242 321h1v2h-1zM250 323h1v1h-1zM252 327h1v1h-1zM252 326h1v2h-1zM253 321h1v2h-1zM255 323h1v1h-1zM257 328h1v2h-1z" fill="#a2a2a2"/>
<path d="M43 343h1v1h-1zM44 336h1v1h-1zM47 334h1v2h-1zM48 333h1v1h-1zM50 323h1v2h-1zM52 341h1v2h-1zM52 333h1v1h-1zM53 338h1v2h-1zM56 337h1v1h-1zM56 336h1v2h-1zM57 339h1v2h-1zM57 337h1v1h-1zM57 332h1v1h-1zM58 327h1v1h-1zM58 321h1v1h-1zM59 327h1v1h-1zM60 337h1v1h-1zM60 327h1v1h-1zM60 325h1v1h-1zM62 340h1v1h-1zM65 336h1v1h-1zM66 325h1v2h-1zM70 341h1v1h-1zM73 319h1v1h-1zM77 335h1v2h-1zM77 320h1v1h-1zM81 336h1v1h-1zM83 336h1v1h-1zM84 325h1v2h-1zM89 333h1v2h-1zM92 337h1v2h-1zM96 339h1v1h-1zM96 335h1v1h-1zM97 326h1v1h-1zM98 336h1v2h-1zM98 331h1v1h-1zM99 316h1v1h-1zM100 344h1v1h-1zM100 343h1v2h-1zM100 340h1v1h-1zM101 341h1v2h-1zM101 329h1v1h-1zM102 334h1v1h-1zM105 335h1v1h-1zM105 333h1v1h-1zM106 336h1v1h-1zM107 332h1v2h-1zM108 340h1v2h-1zM111 336h1v2h-1zM112 340h1v1h-1zM112 328h1v2h-1zM113 344h1v1h-1zM113 321h1v1h-1zM115 336h1v2h-1zM116 321h1v1h-1zM118 330h1v1h-1zM120 337h1v1h-1zM123 331h1v2h-1zM124 339h1v1h-1zM125 336h1v1h-1zM125 327h1v2h-1zM126 339h1v2h-1zM129 326h1v1h-1zM130 337h1v2h-1zM130 330h1v1h-1zM130 328h1v1h-1zM132 339h1v2h-1zM133 336h1v1h-1zM137 332h1v1h-1zM139 336h1v2h-1zM143 335h1v1h-1zM145 333h1v1h-1zM148 340h1v1h-1zM149 332h1v1h-1zM150 324h1v2h-1zM152 328h1v1h-1zM153 338h1v1h-1zM155 331h1v2h-1zM157 319h1v1h-1zM158 336h1v1h-1zM161 338h1v2h-1zM164 339h1v2h-1zM164 336h1v2h-1zM165 336h1v1h-1zM168 338h1v1h-1zM168 322h1v1h-1zM169 340h1v1h-1zM169 339h1v1h-1zM174 328h1v1h-1zM176 340h1v1h-1zM177 327h1v2h-1zM181 333h1v2h-1zM182 328h1v2h-1zM182 324h1v1h-1zM183 337h1v1h-1zM184 340h1v2h-1zM187 337h1v1h-1zM187 325h1v2h-1zM188 329h1v1h-1zM189 341h1v1h-1zM190 335h1v1h-1zM191 336h1v2h-1zM193 334h1v2h-1zM194 337h1v2h-1zM194 328h1v1h-1zM195 333h1v1h-1zM196 335h1v1h-1zM196 334h1v1h-1zM197 322h1v1h-1zM198 338h1v1h-1zM198 332h1v2h-1zM199 328h1v2h-1zM201 341h1v2h-1zM203 339h1v2h-1zM203 337h1v1h-1zM206 336h1v1h-1zM206 335h1v2h-1zM206 333h1v1h-1zM206 331h1v1h-1zM209 341h1v2h-1zM210 330h1v1h-1zM212 339h1v1h-1zM215 336h1v2h-1zM216 339h1v2h-1zM217 337h1v2h-1zM218 328h1v2h-1zM218 323h1v1h-1zM219 330h1v1h-1zM219 326h1v2h-1zM220 332h1v1h-1zM224 341h1v2h-1zM224 340h1v1h-1zM226 329h1v1h-1zM228 336h1v2h-1zM230 328h1v1h-1zM231 338h1v1h-1zM231 333h1v2h-1zM232 339h1v1h-1zM234 337h1v2h-1zM235 337h1v1h-1zM235 334h1v2h-1zM235 329h1v2h-1zM235 327h1v2h-1zM237 340h1v1h-1zM237 338h1v1h-1zM238 336h1v2h-1zM239 338h1v1h-1zM244 334h1v1h-1zM246 331h1v1h-1zM249 333h1v1h-1zM249 325h1v1h-1zM252 339h1v1h-1zM254 330h1v1h-1zM255 338h1v1h-1zM256 336h1v1h-1zM257 334h1v1h-1zM258 329h1v1h-1zM259 338h1v1h-1zM259 335h1v1h-1z" fill="#c9a9b4"/>
<path d="M254.9 310.0h1.2v1.2h-1.2zM221.1 307.1h1.2v1.2h-1.2zM88.0 310.9h1.2v1.2h-1.2zM54.1 310.4h1.2v1.2h-1.2zM159.0 305.0h1.2v1.2h-1.2zM136.6 304.1h1.2v1.2h-1.2zM172.4 306.8h1.2v1.2h-1.2zM103.1 308.8h1.2v1.2h-1.2zM220.5 305.5h1.2v1.2h-1.2zM233.9 313.6h1.2v1.2h-1.2zM138.7 305.9h1.2v1.2h-1.2zM154.6 306.0h1.2v1.2h-1.2zM51.3 305.5h1.2v1.2h-1.2zM81.0 308.0h1.2v1.2h-1.2zM63.5 307.2h1.2v1.2h-1.2zM93.0 303.8h1.2v1.2h-1.2zM255.9 309.8h1.2v1.2h-1.2zM73.2 307.5h1.2v1.2h-1.2zM82.5 312.9h1.2v1.2h-1.2zM59.4 313.3h1.2v1.2h-1.2zM125.9 314.6h1.2v1.2h-1.2zM223.4 310.1h1.2v1.2h-1.2zM246.3 314.9h1.2v1.2h-1.2zM150.4 306.5h1.2v1.2h-1.2zM112.5 315.1h1.2v1.2h-1.2zM47.3 307.4h1.2v1.2h-1.2zM48.1 304.4h1.2v1.2h-1.2zM47.7 305.5h1.2v1.2h-1.2zM56.8 306.7h1.2v1.2h-1.2zM57.0 307.1h1.2v1.2h-1.2zM57.6 300.6h1.2v1.2h-1.2zM61.7 307.6h1.2v1.2h-1.2zM62.6 314.5h1.2v1.2h-1.2zM76.9 302.6h1.2v1.2h-1.2zM76.2 307.5h1.2v1.2h-1.2zM79.4 298.4h1.2v1.2h-1.2zM89.4 302.5h1.2v1.2h-1.2zM89.0 305.4h1.2v1.2h-1.2zM90.0 313.9h1.2v1.2h-1.2zM92.4 298.4h1.2v1.2h-1.2zM98.8 304.0h1.2v1.2h-1.2zM99.5 305.7h1.2v1.2h-1.2zM109.3 308.1h1.2v1.2h-1.2zM110.0 308.4h1.2v1.2h-1.2zM116.7 305.3h1.2v1.2h-1.2zM116.7 309.4h1.2v1.2h-1.2zM124.4 307.4h1.2v1.2h-1.2zM136.0 302.9h1.2v1.2h-1.2zM134.8 301.4h1.2v1.2h-1.2zM140.4 292.4h1.2v1.2h-1.2zM150.6 307.1h1.2v1.2h-1.2zM150.7 306.3h1.2v1.2h-1.2zM165.2 306.9h1.2v1.2h-1.2zM165.2 306.5h1.2v1.2h-1.2zM173.4 308.4h1.2v1.2h-1.2zM180.6 305.4h1.2v1.2h-1.2zM180.8 305.1h1.2v1.2h-1.2zM181.7 306.0h1.2v1.2h-1.2zM189.4 300.4h1.2v1.2h-1.2zM199.4 307.4h1.2v1.2h-1.2zM218.8 305.9h1.2v1.2h-1.2zM219.5 313.6h1.2v1.2h-1.2zM219.5 308.5h1.2v1.2h-1.2zM219.2 310.9h1.2v1.2h-1.2zM218.3 309.0h1.2v1.2h-1.2zM219.8 297.5h1.2v1.2h-1.2zM218.2 306.4h1.2v1.2h-1.2zM219.8 309.6h1.2v1.2h-1.2zM224.9 308.6h1.2v1.2h-1.2zM224.9 310.4h1.2v1.2h-1.2zM235.2 309.4h1.2v1.2h-1.2zM235.5 307.5h1.2v1.2h-1.2zM245.4 304.4h1.2v1.2h-1.2zM254.4 307.4h1.2v1.2h-1.2zM169.4 300.9h1.2v1.2h-1.2zM127.4 299.9h1.2v1.2h-1.2z" fill="#C49A00" opacity="0.75"/>
<path d="M79.2 304.1h1.2v1.2h-1.2zM218.8 314.3h1.2v1.2h-1.2zM161.0 309.4h1.2v1.2h-1.2zM51.8 315.7h1.2v1.2h-1.2zM182.5 304.6h1.2v1.2h-1.2zM154.5 307.0h1.2v1.2h-1.2zM178.1 315.5h1.2v1.2h-1.2z" fill="#F8766D" opacity="0.6"/>
<path d="M218.2 287.3h1.2v1.2h-1.2zM219.5 283.0h1.2v1.2h-1.2zM218.5 285.0h1.2v1.2h-1.2z" fill="#F8766D" opacity="0.75"/>
<line x1="43.699999999999996" y1="310.7" x2="260.9" y2="310.7" stroke="#ff5a5a" stroke-width="1.2" stroke-dasharray="2,1.8"/>
<line x1="43.699999999999996" y1="315.2" x2="260.9" y2="315.2" stroke="#5a5aff" stroke-width="1.2" stroke-dasharray="2,1.8"/>
<line x1="42.9" y1="274" x2="42.9" y2="369.9" stroke="#444" stroke-width="1.3"/>
<line x1="42.9" y1="369.7" x2="260.9" y2="369.7" stroke="#555" stroke-width="1.2"/>
<text x="41.9" y="370.7" font-size="4.6" font-weight="normal" font-style="normal" fill="#333" text-anchor="end" >0</text>
<text x="41.9" y="339.3" font-size="4.6" font-weight="normal" font-style="normal" fill="#333" text-anchor="end" >5</text>
<text x="41.9" y="307.4" font-size="4.6" font-weight="normal" font-style="normal" fill="#333" text-anchor="end" >10</text>
<text transform="translate(55.0,373.2) rotate(-90)" font-size="4.6" fill="#222" text-anchor="end">Chr1</text>
<text transform="translate(73.3,373.2) rotate(-90)" font-size="4.6" fill="#222" text-anchor="end">Chr2</text>
<text transform="translate(90.1,373.2) rotate(-90)" font-size="4.6" fill="#222" text-anchor="end">Chr3</text>
<text transform="translate(106.5,373.2) rotate(-90)" font-size="4.6" fill="#222" text-anchor="end">Chr4</text>
<text transform="translate(122.9,373.2) rotate(-90)" font-size="4.6" fill="#222" text-anchor="end">Chr5</text>
<text transform="translate(138.9,373.2) rotate(-90)" font-size="4.6" fill="#222" text-anchor="end">Chr6</text>
<text transform="translate(154.9,373.2) rotate(-90)" font-size="4.6" fill="#222" text-anchor="end">Chr7</text>
<text transform="translate(169.7,373.2) rotate(-90)" font-size="4.6" fill="#222" text-anchor="end">Chr8</text>
<text transform="translate(183.7,373.2) rotate(-90)" font-size="4.6" fill="#222" text-anchor="end">Chr9</text>
<text transform="translate(197.7,373.2) rotate(-90)" font-size="4.6" fill="#222" text-anchor="end">Chr10</text>
<text transform="translate(210.0,373.2) rotate(-90)" font-size="4.6" fill="#222" text-anchor="end">Chr11</text>
<text transform="translate(222.0,373.2) rotate(-90)" font-size="4.6" fill="#222" text-anchor="end">Chr12</text>
<text transform="translate(234.3,373.2) rotate(-90)" font-size="4.6" fill="#222" text-anchor="end">Chr13</text>
<text transform="translate(245.8,373.2) rotate(-90)" font-size="4.6" fill="#222" text-anchor="end">Chr14</text>
<text transform="translate(256.9,373.2) rotate(-90)" font-size="4.6" fill="#222" text-anchor="end">Chr15</text>
<text x="163.8" y="394.2" font-size="8.3" font-weight="bold" font-style="normal" fill="#000" text-anchor="middle" >Chromosomes</text>
<text transform="translate(22.3,336) rotate(-90)" font-size="9" font-weight="bold" fill="#111">-log<tspan font-size="5" dy="2">10</tspan><tspan dy="-2">(</tspan><tspan font-style="italic">p</tspan>)</text>
<circle cx="241.8" cy="274.7" r="1.25" fill="#F8766D"/>
<text x="244.5" y="276.0" font-size="3.5" font-weight="normal" font-style="normal" fill="#333" text-anchor="start" >GLM</text>
<circle cx="241.8" cy="278.7" r="1.25" fill="#C49A00"/>
<text x="244.5" y="280.0" font-size="3.5" font-weight="normal" font-style="normal" fill="#333" text-anchor="start" >GLM(Q)</text>
<circle cx="241.8" cy="282.7" r="1.25" fill="#00BA38"/>
<text x="244.5" y="284.0" font-size="3.5" font-weight="normal" font-style="normal" fill="#333" text-anchor="start" >MLM(K)</text>
<circle cx="241.8" cy="286.7" r="1.25" fill="#00BFC4"/>
<text x="244.5" y="288.0" font-size="3.5" font-weight="normal" font-style="normal" fill="#333" text-anchor="start" >MLM(Q+K)</text>
<rect x="182" y="310" width="3" height="6" fill="none" stroke="#ff2020" stroke-width="0.7" rx="0.8"/>
<text x="188" y="320.3" font-size="4.8" font-weight="bold" fill="#ff2a2a" stroke="#fff" stroke-width="0.8" paint-order="stroke">CSS0039426</text>
<text x="299.3" y="19.8" font-size="12.8" font-weight="bold" font-style="normal" fill="#000" text-anchor="start" >GCG</text>
<line x1="410.5" y1="13.5" x2="410.5" y2="107.80000000000001" stroke="#8a8a8a" stroke-width="0.9"/>
<line x1="410.1" y1="107.4" x2="502.7" y2="107.4" stroke="#8a8a8a" stroke-width="0.9"/>
<line x1="408.9" y1="107.4" x2="410.5" y2="107.4" stroke="#8a8a8a" stroke-width="0.7"/>
<text x="406.2" y="110.9" font-size="4.8" font-weight="normal" font-style="normal" fill="#444" text-anchor="end" >0</text>
<line x1="408.9" y1="74.65" x2="410.5" y2="74.65" stroke="#8a8a8a" stroke-width="0.7"/>
<text x="406.2" y="78.2" font-size="4.8" font-weight="normal" font-style="normal" fill="#444" text-anchor="end" >5</text>
<line x1="408.9" y1="41.9" x2="410.5" y2="41.9" stroke="#8a8a8a" stroke-width="0.7"/>
<text x="406.2" y="45.4" font-size="4.8" font-weight="normal" font-style="normal" fill="#444" text-anchor="end" >10</text>
<line x1="410.5" y1="107.4" x2="410.5" y2="108.80000000000001" stroke="#8a8a8a" stroke-width="0.7"/>
<text x="409.3" y="115.9" font-size="4.8" font-weight="normal" font-style="normal" fill="#444" text-anchor="middle" >0</text>
<line x1="435.14" y1="107.4" x2="435.14" y2="108.80000000000001" stroke="#8a8a8a" stroke-width="0.7"/>
<text x="433.9" y="115.9" font-size="4.8" font-weight="normal" font-style="normal" fill="#444" text-anchor="middle" >2</text>
<line x1="459.78" y1="107.4" x2="459.78" y2="108.80000000000001" stroke="#8a8a8a" stroke-width="0.7"/>
<text x="458.6" y="115.9" font-size="4.8" font-weight="normal" font-style="normal" fill="#444" text-anchor="middle" >4</text>
<line x1="484.42" y1="107.4" x2="484.42" y2="108.80000000000001" stroke="#8a8a8a" stroke-width="0.7"/>
<text x="483.2" y="115.9" font-size="4.8" font-weight="normal" font-style="normal" fill="#444" text-anchor="middle" >6</text>
<line x1="429.5" y1="96.9" x2="499" y2="61.2" stroke="#F27A7A" stroke-width="1.15"/>
<path d="M410.50,107.40 C411.25,106.98 413.03,105.92 415.00,104.90 C416.97,103.88 419.88,102.63 422.30,101.30 C424.72,99.97 427.32,98.48 429.50,96.90 C431.68,95.32 433.57,93.62 435.40,91.80 C437.23,89.98 438.68,88.05 440.50,86.00 C442.32,83.95 444.13,82.05 446.30,79.50 C448.47,76.95 450.38,74.42 453.50,70.70 C456.62,66.98 461.17,61.72 465.00,57.20 C468.83,52.68 473.83,46.53 476.50,43.60 C479.17,40.67 479.63,40.67 481.00,39.60 C482.37,38.53 483.17,38.20 484.70,37.20 C486.23,36.20 489.28,34.20 490.20,33.60" fill="none" stroke="#15158e" stroke-width="1.9" stroke-linejoin="round" stroke-linecap="round"/>
<rect x="491.0" y="29.6" width="1.3" height="1.3" fill="#2a2ab0"/>
<rect x="494.1" y="28.9" width="1.3" height="1.3" fill="#2a2ab0"/>
<rect x="497.9" y="17.2" width="1.3" height="1.3" fill="#2a2ab0"/>
<text transform="translate(385.5,59.9) rotate(-90)" font-size="6.6" font-weight="bold" fill="#222" text-anchor="middle" dy="2.3">Observed &#8211;log<tspan font-size="4" dy="1.5">10</tspan><tspan dy="-1.5">(</tspan><tspan font-style="italic">P</tspan>)</text>
<text x="459.5" y="131.3" font-size="6.6" font-weight="bold" fill="#222" text-anchor="middle">EXcepted &#8211;log<tspan font-size="4" dy="1.5">10</tspan><tspan dy="-1.5">(</tspan><tspan font-style="italic">P</tspan>)</text>
<text x="300.0" y="150.5" font-size="10.3" font-weight="bold" font-style="normal" fill="#000" text-anchor="start" >GC</text>
<line x1="409.5" y1="142.7" x2="409.5" y2="236.8" stroke="#8a8a8a" stroke-width="0.9"/>
<line x1="409.1" y1="236.4" x2="501.7" y2="236.4" stroke="#8a8a8a" stroke-width="0.9"/>
<line x1="407.9" y1="237.3" x2="409.5" y2="237.3" stroke="#8a8a8a" stroke-width="0.7"/>
<text x="405.2" y="240.8" font-size="4.8" font-weight="normal" font-style="normal" fill="#444" text-anchor="end" >0</text>
<line x1="407.9" y1="223.9" x2="409.5" y2="223.9" stroke="#8a8a8a" stroke-width="0.7"/>
<text x="405.2" y="227.4" font-size="4.8" font-weight="normal" font-style="normal" fill="#444" text-anchor="end" >2</text>
<line x1="407.9" y1="210.5" x2="409.5" y2="210.5" stroke="#8a8a8a" stroke-width="0.7"/>
<text x="405.2" y="214.0" font-size="4.8" font-weight="normal" font-style="normal" fill="#444" text-anchor="end" >4</text>
<line x1="407.9" y1="197.1" x2="409.5" y2="197.1" stroke="#8a8a8a" stroke-width="0.7"/>
<text x="405.2" y="200.6" font-size="4.8" font-weight="normal" font-style="normal" fill="#444" text-anchor="end" >6</text>
<line x1="407.9" y1="183.7" x2="409.5" y2="183.7" stroke="#8a8a8a" stroke-width="0.7"/>
<text x="405.2" y="187.2" font-size="4.8" font-weight="normal" font-style="normal" fill="#444" text-anchor="end" >8</text>
<line x1="407.9" y1="170.3" x2="409.5" y2="170.3" stroke="#8a8a8a" stroke-width="0.7"/>
<text x="405.2" y="173.8" font-size="4.8" font-weight="normal" font-style="normal" fill="#444" text-anchor="end" >10</text>
<line x1="407.9" y1="156.9" x2="409.5" y2="156.9" stroke="#8a8a8a" stroke-width="0.7"/>
<text x="405.2" y="160.4" font-size="4.8" font-weight="normal" font-style="normal" fill="#444" text-anchor="end" >12</text>
<line x1="409.5" y1="236.4" x2="409.5" y2="237.8" stroke="#8a8a8a" stroke-width="0.7"/>
<text x="408.3" y="244.9" font-size="4.8" font-weight="normal" font-style="normal" fill="#444" text-anchor="middle" >0</text>
<line x1="434.2" y1="236.4" x2="434.2" y2="237.8" stroke="#8a8a8a" stroke-width="0.7"/>
<text x="433.0" y="244.9" font-size="4.8" font-weight="normal" font-style="normal" fill="#444" text-anchor="middle" >2</text>
<line x1="458.9" y1="236.4" x2="458.9" y2="237.8" stroke="#8a8a8a" stroke-width="0.7"/>
<text x="457.7" y="244.9" font-size="4.8" font-weight="normal" font-style="normal" fill="#444" text-anchor="middle" >4</text>
<line x1="483.6" y1="236.4" x2="483.6" y2="237.8" stroke="#8a8a8a" stroke-width="0.7"/>
<text x="482.4" y="244.9" font-size="4.8" font-weight="normal" font-style="normal" fill="#444" text-anchor="middle" >6</text>
<line x1="432" y1="224" x2="497.3" y2="188.5" stroke="#F27A7A" stroke-width="1.15"/>
<path d="M409.50,235.50 C410.58,234.98 413.75,233.50 416.00,232.40 C418.25,231.30 420.83,230.05 423.00,228.90 C425.17,227.75 427.08,226.77 429.00,225.50 C430.92,224.23 432.67,222.95 434.50,221.30 C436.33,219.65 437.08,218.93 440.00,215.60 C442.92,212.27 448.07,206.02 452.00,201.30 C455.93,196.58 459.98,191.80 463.60,187.30 C467.22,182.80 471.13,177.25 473.70,174.30 C476.27,171.35 477.23,171.87 479.00,169.60 C480.77,167.33 483.02,162.58 484.30,160.70 C485.58,158.82 486.30,158.70 486.70,158.30" fill="none" stroke="#15158e" stroke-width="1.9" stroke-linejoin="round" stroke-linecap="round"/>
<rect x="488.0" y="155.9" width="1.3" height="1.3" fill="#2a2ab0"/>
<rect x="490.2" y="154.2" width="1.3" height="1.3" fill="#2a2ab0"/>
<rect x="492.0" y="153.8" width="1.3" height="1.3" fill="#2a2ab0"/>
<rect x="493.8" y="153.3" width="1.3" height="1.3" fill="#2a2ab0"/>
<rect x="497.1" y="146.4" width="1.3" height="1.3" fill="#2a2ab0"/>
<text transform="translate(385.5,194.6) rotate(-90)" font-size="6.6" font-weight="bold" fill="#222" text-anchor="middle" dy="2.3">Observed &#8211;log<tspan font-size="4" dy="1.5">10</tspan><tspan dy="-1.5">(</tspan><tspan font-style="italic">P</tspan>)</text>
<text x="459.5" y="262.6" font-size="6.6" font-weight="bold" fill="#222" text-anchor="middle">EXcepted &#8211;log<tspan font-size="4" dy="1.5">10</tspan><tspan dy="-1.5">(</tspan><tspan font-style="italic">P</tspan>)</text>
<text x="300.0" y="280.0" font-size="10.4" font-weight="bold" font-style="normal" fill="#000" text-anchor="start" >CAF</text>
<line x1="410.5" y1="273.6" x2="410.5" y2="368.0" stroke="#8a8a8a" stroke-width="0.9"/>
<line x1="410.1" y1="367.6" x2="502.7" y2="367.6" stroke="#8a8a8a" stroke-width="0.9"/>
<line x1="408.9" y1="367.6" x2="410.5" y2="367.6" stroke="#8a8a8a" stroke-width="0.7"/>
<text x="406.2" y="371.1" font-size="4.8" font-weight="normal" font-style="normal" fill="#444" text-anchor="end" >0</text>
<line x1="408.9" y1="334.9" x2="410.5" y2="334.9" stroke="#8a8a8a" stroke-width="0.7"/>
<text x="406.2" y="338.4" font-size="4.8" font-weight="normal" font-style="normal" fill="#444" text-anchor="end" >5</text>
<line x1="408.9" y1="302.2" x2="410.5" y2="302.2" stroke="#8a8a8a" stroke-width="0.7"/>
<text x="406.2" y="305.7" font-size="4.8" font-weight="normal" font-style="normal" fill="#444" text-anchor="end" >10</text>
<line x1="410.5" y1="367.6" x2="410.5" y2="369.0" stroke="#8a8a8a" stroke-width="0.7"/>
<text x="409.3" y="376.1" font-size="4.8" font-weight="normal" font-style="normal" fill="#444" text-anchor="middle" >0</text>
<line x1="435.2" y1="367.6" x2="435.2" y2="369.0" stroke="#8a8a8a" stroke-width="0.7"/>
<text x="434.0" y="376.1" font-size="4.8" font-weight="normal" font-style="normal" fill="#444" text-anchor="middle" >2</text>
<line x1="459.9" y1="367.6" x2="459.9" y2="369.0" stroke="#8a8a8a" stroke-width="0.7"/>
<text x="458.7" y="376.1" font-size="4.8" font-weight="normal" font-style="normal" fill="#444" text-anchor="middle" >4</text>
<line x1="484.6" y1="367.6" x2="484.6" y2="369.0" stroke="#8a8a8a" stroke-width="0.7"/>
<text x="483.4" y="376.1" font-size="4.8" font-weight="normal" font-style="normal" fill="#444" text-anchor="middle" >6</text>
<line x1="433.2" y1="354" x2="498.6" y2="320" stroke="#F27A7A" stroke-width="1.15"/>
<path d="M410.50,367.00 C412.42,365.93 418.22,362.77 422.00,360.60 C425.78,358.43 430.03,356.10 433.20,354.00 C436.37,351.90 438.12,350.03 441.00,348.00 C443.88,345.97 447.33,344.20 450.50,341.80 C453.67,339.40 456.98,336.48 460.00,333.60 C463.02,330.72 465.65,327.68 468.60,324.50 C471.55,321.32 475.27,317.37 477.70,314.50 C480.13,311.63 481.68,308.80 483.20,307.30 C484.72,305.80 486.20,305.80 486.80,305.50" fill="none" stroke="#15158e" stroke-width="1.9" stroke-linejoin="round" stroke-linecap="round"/>
<rect x="487.7" y="302.1" width="1.3" height="1.3" fill="#2a2ab0"/>
<rect x="488.4" y="300.2" width="1.3" height="1.3" fill="#2a2ab0"/>
<rect x="489.5" y="295.8" width="1.3" height="1.3" fill="#2a2ab0"/>
<rect x="490.2" y="292.7" width="1.3" height="1.3" fill="#2a2ab0"/>
<rect x="492.0" y="281.2" width="1.3" height="1.3" fill="#2a2ab0"/>
<rect x="494.0" y="278.5" width="1.3" height="1.3" fill="#2a2ab0"/>
<rect x="498.0" y="277.2" width="1.3" height="1.3" fill="#2a2ab0"/>
<text transform="translate(385.5,320) rotate(-90)" font-size="6.6" font-weight="bold" fill="#222" text-anchor="middle" dy="2.3">Observed &#8211;log<tspan font-size="4" dy="1.5">10</tspan><tspan dy="-1.5">(</tspan><tspan font-style="italic">P</tspan>)</text>
<text x="459.5" y="388.9" font-size="6.6" font-weight="bold" fill="#222" text-anchor="middle">EXcepted &#8211;log<tspan font-size="4" dy="1.5">10</tspan><tspan dy="-1.5">(</tspan><tspan font-style="italic">P</tspan>)</text>
<text x="11.8" y="419.6" font-size="8.25" font-weight="normal" font-style="italic" fill="#333" text-anchor="start" >CSS0026218</text>
<line x1="67.6" y1="416.7" x2="166.9" y2="416.7" stroke="#333" stroke-width="1.3"/>
<rect x="100.7" y="414.75" width="52.89999999999999" height="4.1" rx="2.05" fill="#C0A404"/>
<text x="125.7" y="411.6" font-size="7.2" font-weight="normal" font-style="normal" fill="#111" text-anchor="middle" >629 bp</text>
<line x1="123.8" y1="418" x2="123.8" y2="426.5" stroke="#333" stroke-width="0.7"/>
<rect x="94" y="426.5" width="69.6" height="24.30000000000001" fill="#fff" stroke="#333" stroke-width="0.7"/>
<line x1="94" y1="434.4" x2="163.6" y2="434.4" stroke="#333" stroke-width="0.7"/>
<line x1="94" y1="442.9" x2="163.6" y2="442.9" stroke="#333" stroke-width="0.7"/>
<line x1="114.5" y1="426.5" x2="114.5" y2="450.8" stroke="#333" stroke-width="0.7"/>
<line x1="133.6" y1="426.5" x2="133.6" y2="450.8" stroke="#333" stroke-width="0.7"/>
<text x="95.0" y="432.4" font-size="5.5" font-weight="normal" font-style="normal" fill="#222" text-anchor="start" >Group</text>
<text x="124.0" y="432.4" font-size="5.5" font-weight="normal" font-style="normal" fill="#222" text-anchor="middle" >SNP</text>
<text x="148.6" y="432.4" font-size="5.5" font-weight="normal" font-style="normal" fill="#222" text-anchor="middle" >Amino acid</text>
<text x="95.0" y="440.6" font-size="5.5" font-weight="normal" font-style="normal" fill="#222" text-anchor="start" >HapA</text>
<text x="124.0" y="440.6" font-size="5.5" font-weight="normal" font-style="normal" fill="#222" text-anchor="middle" >GAG</text>
<text x="148.6" y="440.6" font-size="5.5" font-weight="normal" font-style="normal" fill="#222" text-anchor="middle" >Glu</text>
<text x="95.0" y="448.9" font-size="5.5" font-weight="normal" font-style="normal" fill="#222" text-anchor="start" >HapB</text>
<text x="124.0" y="448.9" font-size="5.5" font-weight="normal" font-style="normal" fill="#222" text-anchor="middle" >GGG</text>
<text x="148.6" y="448.9" font-size="5.5" font-weight="normal" font-style="normal" fill="#222" text-anchor="middle" >Gly</text>
<text x="269.0" y="418.0" font-size="8.25" font-weight="normal" font-style="italic" fill="#333" text-anchor="start" >CSS0027172</text>
<line x1="323" y1="414.8" x2="544.5" y2="414.8" stroke="#333" stroke-width="1.3"/>
<rect x="324.6" y="413.0" width="11.599999999999966" height="3.6" rx="1.8" fill="#C0A404"/>
<rect x="339.2" y="412.8" width="3.3000000000000114" height="4" rx="2.0" fill="#C0A404"/>
<rect x="455.9" y="412.8" width="3.7000000000000455" height="4" rx="2.0" fill="#C0A404"/>
<rect x="464" y="412.8" width="19.19999999999999" height="4" rx="2.0" fill="#C0A404"/>
<text x="475.1" y="409.4" font-size="7.2" font-weight="normal" font-style="normal" fill="#111" text-anchor="middle" >886 bp</text>
<line x1="474.2" y1="416" x2="474.2" y2="424.1" stroke="#333" stroke-width="0.7"/>
<rect x="439.5" y="424.1" width="70.10000000000002" height="24.5" fill="#fff" stroke="#333" stroke-width="0.7"/>
<line x1="439.5" y1="432.8" x2="509.6" y2="432.8" stroke="#333" stroke-width="0.7"/>
<line x1="439.5" y1="441" x2="509.6" y2="441" stroke="#333" stroke-width="0.7"/>
<line x1="459.4" y1="424.1" x2="459.4" y2="448.6" stroke="#333" stroke-width="0.7"/>
<line x1="479.1" y1="424.1" x2="479.1" y2="448.6" stroke="#333" stroke-width="0.7"/>
<text x="440.5" y="430.5" font-size="5.5" font-weight="normal" font-style="normal" fill="#222" text-anchor="start" >Group</text>
<text x="469.2" y="430.5" font-size="5.5" font-weight="normal" font-style="normal" fill="#222" text-anchor="middle" >SNP</text>
<text x="494.4" y="430.5" font-size="5.5" font-weight="normal" font-style="normal" fill="#222" text-anchor="middle" >Amino acid</text>
<text x="440.5" y="438.9" font-size="5.5" font-weight="normal" font-style="normal" fill="#222" text-anchor="start" >HapC</text>
<text x="469.2" y="438.9" font-size="5.5" font-weight="normal" font-style="normal" fill="#222" text-anchor="middle" >ACU</text>
<text x="494.4" y="438.9" font-size="5.5" font-weight="normal" font-style="normal" fill="#222" text-anchor="middle" >Thr</text>
<text x="440.5" y="446.8" font-size="5.5" font-weight="normal" font-style="normal" fill="#222" text-anchor="start" >HapD</text>
<text x="469.2" y="446.8" font-size="5.5" font-weight="normal" font-style="normal" fill="#222" text-anchor="middle" >UCU</text>
<text x="494.4" y="446.8" font-size="5.5" font-weight="normal" font-style="normal" fill="#222" text-anchor="middle" >Ser</text>
<text x="11.5" y="591.6" font-size="8.25" font-weight="normal" font-style="italic" fill="#333" text-anchor="start" >CSS0044862</text>
<rect x="76.3" y="586.9000000000001" width="28.0" height="3.6" rx="1.8" fill="#C0A404"/>
<text x="89.4" y="583.6" font-size="7.2" font-weight="normal" font-style="normal" fill="#111" text-anchor="middle" >209 bp</text>
<line x1="88.5" y1="590" x2="88.5" y2="599.3" stroke="#333" stroke-width="0.7"/>
<rect x="54.7" y="599.3" width="70.0" height="22.90000000000009" fill="#fff" stroke="#333" stroke-width="0.7"/>
<line x1="54.7" y1="606.4" x2="124.7" y2="606.4" stroke="#333" stroke-width="0.7"/>
<line x1="54.7" y1="614.5" x2="124.7" y2="614.5" stroke="#333" stroke-width="0.7"/>
<line x1="75.8" y1="599.3" x2="75.8" y2="622.2" stroke="#333" stroke-width="0.7"/>
<line x1="95.4" y1="599.3" x2="95.4" y2="622.2" stroke="#333" stroke-width="0.7"/>
<text x="55.7" y="604.8" font-size="5.5" font-weight="normal" font-style="normal" fill="#222" text-anchor="start" >Group</text>
<text x="85.6" y="604.8" font-size="5.5" font-weight="normal" font-style="normal" fill="#222" text-anchor="middle" >SNP</text>
<text x="110.1" y="604.8" font-size="5.5" font-weight="normal" font-style="normal" fill="#222" text-anchor="middle" >Amino acid</text>
<text x="55.7" y="612.5" font-size="5.5" font-weight="normal" font-style="normal" fill="#222" text-anchor="start" >HapE</text>
<text x="85.6" y="612.5" font-size="5.5" font-weight="normal" font-style="normal" fill="#222" text-anchor="middle" >UAU</text>
<text x="110.1" y="612.5" font-size="5.5" font-weight="normal" font-style="normal" fill="#222" text-anchor="middle" >Tyr</text>
<text x="55.7" y="620.4" font-size="5.5" font-weight="normal" font-style="normal" fill="#222" text-anchor="start" >HapF</text>
<text x="85.6" y="620.4" font-size="5.5" font-weight="normal" font-style="normal" fill="#222" text-anchor="middle" >UGU</text>
<text x="110.1" y="620.4" font-size="5.5" font-weight="normal" font-style="normal" fill="#222" text-anchor="middle" >Cys</text>
<text x="268.5" y="589.5" font-size="8.25" font-weight="normal" font-style="italic" fill="#333" text-anchor="start" >CSS0039426</text>
<line x1="389.6" y1="587.2" x2="401" y2="587.2" stroke="#333" stroke-width="0.8"/>
<rect x="390.9" y="585.4000000000001" width="6.300000000000011" height="3.6" rx="1.8" fill="#C0A404"/>
<text x="399.5" y="582.0" font-size="7.2" font-weight="normal" font-style="normal" fill="#111" text-anchor="middle" >176 bp</text>
<line x1="394.7" y1="589" x2="394.7" y2="596.7" stroke="#333" stroke-width="0.7"/>
<rect x="362.4" y="596.7" width="70.20000000000005" height="23.699999999999932" fill="#fff" stroke="#333" stroke-width="0.7"/>
<line x1="362.4" y1="604.4" x2="432.6" y2="604.4" stroke="#333" stroke-width="0.7"/>
<line x1="362.4" y1="612.5" x2="432.6" y2="612.5" stroke="#333" stroke-width="0.7"/>
<line x1="382" y1="596.7" x2="382" y2="620.4" stroke="#333" stroke-width="0.7"/>
<line x1="401.8" y1="596.7" x2="401.8" y2="620.4" stroke="#333" stroke-width="0.7"/>
<text x="363.4" y="602.5" font-size="5.5" font-weight="normal" font-style="normal" fill="#222" text-anchor="start" >Group</text>
<text x="391.9" y="602.5" font-size="5.5" font-weight="normal" font-style="normal" fill="#222" text-anchor="middle" >SNP</text>
<text x="417.2" y="602.5" font-size="5.5" font-weight="normal" font-style="normal" fill="#222" text-anchor="middle" >Amino acid</text>
<text x="363.4" y="610.5" font-size="5.5" font-weight="normal" font-style="normal" fill="#222" text-anchor="start" >HapG</text>
<text x="391.9" y="610.5" font-size="5.5" font-weight="normal" font-style="normal" fill="#222" text-anchor="middle" >GCT</text>
<text x="417.2" y="610.5" font-size="5.5" font-weight="normal" font-style="normal" fill="#222" text-anchor="middle" >Ala</text>
<text x="363.4" y="618.5" font-size="5.5" font-weight="normal" font-style="normal" fill="#222" text-anchor="start" >HapH</text>
<text x="391.9" y="618.5" font-size="5.5" font-weight="normal" font-style="normal" fill="#222" text-anchor="middle" >GGT</text>
<text x="417.2" y="618.5" font-size="5.5" font-weight="normal" font-style="normal" fill="#222" text-anchor="middle" >Gly</text>
<rect x="53.2" y="534.6" width="5.7" height="28.7" fill="#08BAC6"/>
<line x1="56.1" y1="533.6" x2="56.1" y2="535.6" stroke="#111" stroke-width="0.9"/>
<line x1="55.2" y1="533.6" x2="57.0" y2="533.6" stroke="#111" stroke-width="0.6"/>
<rect x="67.7" y="538.6" width="5.7" height="24.7" fill="#08BAC6"/>
<line x1="70.5" y1="537.8" x2="70.5" y2="539.4" stroke="#111" stroke-width="0.9"/>
<line x1="69.6" y1="537.8" x2="71.5" y2="537.8" stroke="#111" stroke-width="0.6"/>
<rect x="82.2" y="538.6" width="5.7" height="24.7" fill="#08BAC6"/>
<line x1="85.0" y1="537.5" x2="85.0" y2="539.6" stroke="#111" stroke-width="0.9"/>
<line x1="84.1" y1="537.5" x2="86.0" y2="537.5" stroke="#111" stroke-width="0.6"/>
<rect x="96.7" y="538.1" width="5.7" height="25.2" fill="#08BAC6"/>
<line x1="99.5" y1="537.0" x2="99.5" y2="539.1" stroke="#111" stroke-width="0.9"/>
<line x1="98.6" y1="537.0" x2="100.5" y2="537.0" stroke="#111" stroke-width="0.6"/>
<rect x="111.2" y="535.5" width="5.7" height="27.8" fill="#08BAC6"/>
<line x1="114.0" y1="533.4" x2="114.0" y2="537.5" stroke="#111" stroke-width="0.9"/>
<line x1="113.1" y1="533.4" x2="115.0" y2="533.4" stroke="#111" stroke-width="0.6"/>
<rect x="125.7" y="530.9" width="5.7" height="32.4" fill="#08BAC6"/>
<line x1="128.6" y1="530.1" x2="128.6" y2="531.6" stroke="#111" stroke-width="0.9"/>
<line x1="127.7" y1="530.1" x2="129.5" y2="530.1" stroke="#111" stroke-width="0.6"/>
<rect x="140.2" y="538.6" width="5.7" height="24.7" fill="#08BAC6"/>
<line x1="143.0" y1="538.3" x2="143.0" y2="538.8" stroke="#111" stroke-width="0.9"/>
<line x1="142.1" y1="538.3" x2="143.9" y2="538.3" stroke="#111" stroke-width="0.6"/>
<rect x="154.7" y="492.7" width="5.7" height="70.6" fill="#08BAC6"/>
<rect x="169.2" y="491.7" width="5.7" height="71.6" fill="#08BAC6"/>
<rect x="183.7" y="496.4" width="5.7" height="66.9" fill="#08BAC6"/>
<line x1="186.5" y1="495.8" x2="186.5" y2="496.9" stroke="#111" stroke-width="0.9"/>
<line x1="185.6" y1="495.8" x2="187.4" y2="495.8" stroke="#111" stroke-width="0.6"/>
<rect x="198.2" y="514.4" width="5.7" height="48.9" fill="#08BAC6"/>
<line x1="201.0" y1="513.3" x2="201.0" y2="515.4" stroke="#111" stroke-width="0.9"/>
<line x1="200.1" y1="513.3" x2="201.9" y2="513.3" stroke="#111" stroke-width="0.6"/>
<polyline points="56.1,558.8 70.5,556.1 85.0,552.3 99.5,551.3 114.0,550.6 128.6,553.0 143.0,560.2 157.5,536.9 172.0,529.7 186.5,507.3 201.0,522.8" fill="none" stroke="#F4594E" stroke-width="1.6" stroke-linejoin="round"/>
<line x1="41.6" y1="460.3" x2="41.6" y2="564.3" stroke="#000" stroke-width="2.1"/>
<line x1="39.4" y1="563.3" x2="41.6" y2="563.3" stroke="#000" stroke-width="1.2"/>
<text x="38.3" y="565.3" font-size="4.6" font-weight="bold" font-style="normal" fill="#333" text-anchor="end" >2.0</text>
<line x1="39.4" y1="537.55" x2="41.6" y2="537.55" stroke="#000" stroke-width="1.2"/>
<text x="38.3" y="539.5" font-size="4.6" font-weight="bold" font-style="normal" fill="#333" text-anchor="end" >2.5</text>
<line x1="39.4" y1="511.79999999999995" x2="41.6" y2="511.79999999999995" stroke="#000" stroke-width="1.2"/>
<text x="38.3" y="513.8" font-size="4.6" font-weight="bold" font-style="normal" fill="#333" text-anchor="end" >3.0</text>
<line x1="39.4" y1="486.05" x2="41.6" y2="486.05" stroke="#000" stroke-width="1.2"/>
<text x="38.3" y="488.1" font-size="4.6" font-weight="bold" font-style="normal" fill="#333" text-anchor="end" >3.5</text>
<line x1="39.4" y1="460.3" x2="41.6" y2="460.3" stroke="#000" stroke-width="1.2"/>
<text x="38.3" y="462.3" font-size="4.6" font-weight="bold" font-style="normal" fill="#333" text-anchor="end" >4.0</text>
<line x1="40.7" y1="563.9" x2="215.5" y2="563.9" stroke="#000" stroke-width="2"/>
<line x1="215.5" y1="460.3" x2="215.5" y2="564.3" stroke="#F4594E" stroke-width="1.5"/>
<line x1="215.5" y1="563.3" x2="217.5" y2="563.3" stroke="#F4594E" stroke-width="0.8"/>
<text x="218.7" y="565.1" font-size="4.9" font-weight="normal" font-style="normal" fill="#f06a62" text-anchor="start" >0</text>
<line x1="215.5" y1="528.9666666666667" x2="217.5" y2="528.9666666666667" stroke="#F4594E" stroke-width="0.8"/>
<text x="218.7" y="530.8" font-size="4.9" font-weight="normal" font-style="normal" fill="#f06a62" text-anchor="start" >10</text>
<line x1="215.5" y1="494.6333333333333" x2="217.5" y2="494.6333333333333" stroke="#F4594E" stroke-width="0.8"/>
<text x="218.7" y="496.4" font-size="4.9" font-weight="normal" font-style="normal" fill="#f06a62" text-anchor="start" >20</text>
<line x1="215.5" y1="460.3" x2="217.5" y2="460.3" stroke="#F4594E" stroke-width="0.8"/>
<text x="218.7" y="462.1" font-size="4.9" font-weight="normal" font-style="normal" fill="#f06a62" text-anchor="start" >30</text>
<text x="56.1" y="569.9" font-size="3.5" font-weight="bold" font-style="normal" fill="#222" text-anchor="middle" >MLS-113</text>
<text x="70.5" y="569.9" font-size="3.5" font-weight="bold" font-style="normal" fill="#222" text-anchor="middle" >MLS-110</text>
<text x="85.0" y="569.9" font-size="3.5" font-weight="bold" font-style="normal" fill="#222" text-anchor="middle" >MLS-22</text>
<text x="99.5" y="569.9" font-size="3.5" font-weight="bold" font-style="normal" fill="#222" text-anchor="middle" >MLS-102</text>
<text x="114.0" y="569.9" font-size="3.5" font-weight="bold" font-style="normal" fill="#222" text-anchor="middle" >MLS-39</text>
<text x="128.6" y="569.9" font-size="3.5" font-weight="bold" font-style="normal" fill="#222" text-anchor="middle" >MLS-84</text>
<text x="143.0" y="569.9" font-size="3.5" font-weight="bold" font-style="normal" fill="#222" text-anchor="middle" >MLS-60</text>
<text x="157.5" y="569.9" font-size="3.5" font-weight="bold" font-style="normal" fill="#ee2222" text-anchor="middle" >ZW-1</text>
<text x="172.0" y="569.9" font-size="3.5" font-weight="bold" font-style="normal" fill="#ee2222" text-anchor="middle" >MLS-13</text>
<text x="186.5" y="569.9" font-size="3.5" font-weight="bold" font-style="normal" fill="#ee2222" text-anchor="middle" >ZW-3</text>
<text x="201.0" y="569.9" font-size="3.5" font-weight="bold" font-style="normal" fill="#ee2222" text-anchor="middle" >ZW-6</text>
<line x1="47.6" y1="567.3" x2="47.6" y2="574.5" stroke="#444" stroke-width="0.6"/>
<line x1="151.54999999999998" y1="567.3" x2="151.54999999999998" y2="574.5" stroke="#444" stroke-width="0.6"/>
<line x1="208.04999999999998" y1="567.3" x2="208.04999999999998" y2="574.5" stroke="#444" stroke-width="0.6"/>
<text x="95.0" y="575.6" font-size="3.4" font-weight="bold" font-style="normal" fill="#222" text-anchor="middle" >HapA</text>
<text x="179.1" y="575.6" font-size="3.4" font-weight="bold" font-style="normal" fill="#ee2222" text-anchor="middle" >HapB</text>
<text x="45.4" y="464.2" font-size="5.6" font-weight="bold" fill="#111">GCG(<tspan font-weight="normal" font-style="italic">CSS0026218</tspan>)</text>
<rect x="166.0" y="454.15" width="5.7" height="2.7" fill="#08BAC6"/>
<text x="175.3" y="456.9" font-size="5.6" font-weight="bold" font-style="normal" fill="#111" text-anchor="start" >GCG Content</text>
<line x1="166.0" y1="462.2" x2="171.7" y2="462.2" stroke="#F4594E" stroke-width="1.3"/>
<text x="175.3" y="464.1" font-size="5.6" font-weight="bold" font-style="normal" fill="#111" text-anchor="start" >qRT-PCR</text>
<text transform="translate(17.3,509.29999999999995) rotate(-90)" font-size="9.3" font-weight="bold" fill="#000" text-anchor="middle" dy="3.3">Count(%)</text>
<text transform="translate(231.4,512.9) rotate(90)" font-size="8.1" fill="#F4594E" stroke="#F4594E" stroke-width="0.3" text-anchor="middle" dy="3.0" textLength="98.5" lengthAdjust="spacing">Relative expression level</text>
<rect x="332.2" y="523.9" width="5.6" height="39.3" fill="#08BAC6"/>
<line x1="335.0" y1="522.8" x2="335.0" y2="524.9" stroke="#111" stroke-width="0.9"/>
<line x1="334.1" y1="522.8" x2="335.9" y2="522.8" stroke="#111" stroke-width="0.6"/>
<rect x="346.7" y="529.6" width="5.6" height="33.6" fill="#08BAC6"/>
<line x1="349.5" y1="527.5" x2="349.5" y2="531.7" stroke="#111" stroke-width="0.9"/>
<line x1="348.6" y1="527.5" x2="350.4" y2="527.5" stroke="#111" stroke-width="0.6"/>
<rect x="361.2" y="529.6" width="5.6" height="33.6" fill="#08BAC6"/>
<line x1="364.0" y1="527.9" x2="364.0" y2="531.3" stroke="#111" stroke-width="0.9"/>
<line x1="363.1" y1="527.9" x2="364.9" y2="527.9" stroke="#111" stroke-width="0.6"/>
<rect x="375.6" y="529.0" width="5.6" height="34.2" fill="#08BAC6"/>
<line x1="378.4" y1="526.9" x2="378.4" y2="531.0" stroke="#111" stroke-width="0.9"/>
<line x1="377.5" y1="526.9" x2="379.3" y2="526.9" stroke="#111" stroke-width="0.6"/>
<rect x="390.1" y="518.2" width="5.6" height="45.0" fill="#08BAC6"/>
<line x1="392.9" y1="517.2" x2="392.9" y2="519.2" stroke="#111" stroke-width="0.9"/>
<line x1="392.0" y1="517.2" x2="393.8" y2="517.2" stroke="#111" stroke-width="0.6"/>
<rect x="404.6" y="530.2" width="5.6" height="33.0" fill="#08BAC6"/>
<line x1="407.4" y1="529.9" x2="407.4" y2="530.6" stroke="#111" stroke-width="0.9"/>
<line x1="406.5" y1="529.9" x2="408.3" y2="529.9" stroke="#111" stroke-width="0.6"/>
<rect x="419.1" y="465.9" width="5.6" height="97.3" fill="#08BAC6"/>
<rect x="433.6" y="469.1" width="5.6" height="94.1" fill="#08BAC6"/>
<rect x="448.0" y="483.2" width="5.6" height="80.0" fill="#08BAC6"/>
<rect x="462.5" y="498.3" width="5.6" height="64.9" fill="#08BAC6"/>
<line x1="465.3" y1="486.3" x2="465.3" y2="510.4" stroke="#111" stroke-width="0.9"/>
<line x1="464.4" y1="486.3" x2="466.2" y2="486.3" stroke="#111" stroke-width="0.6"/>
<rect x="477.0" y="501.1" width="5.6" height="62.1" fill="#08BAC6"/>
<line x1="479.8" y1="494.9" x2="479.8" y2="507.3" stroke="#111" stroke-width="0.9"/>
<line x1="478.9" y1="494.9" x2="480.7" y2="494.9" stroke="#111" stroke-width="0.6"/>
<polyline points="335.0,552.9 349.5,550.1 364.0,553.5 378.4,541.5 392.9,549.7 407.4,549.2 421.9,525.9 436.4,503.2 450.8,473.2 465.3,504.2 479.8,495.9" fill="none" stroke="#F4594E" stroke-width="1.6" stroke-linejoin="round"/>
<line x1="320.2" y1="459.7" x2="320.2" y2="564.2" stroke="#000" stroke-width="2.1"/>
<line x1="318.0" y1="563.2" x2="320.2" y2="563.2" stroke="#000" stroke-width="1.2"/>
<text x="316.9" y="565.2" font-size="4.6" font-weight="bold" font-style="normal" fill="#333" text-anchor="end" >2.0</text>
<line x1="318.0" y1="528.7" x2="320.2" y2="528.7" stroke="#000" stroke-width="1.2"/>
<text x="316.9" y="530.7" font-size="4.6" font-weight="bold" font-style="normal" fill="#333" text-anchor="end" >2.5</text>
<line x1="318.0" y1="494.2" x2="320.2" y2="494.2" stroke="#000" stroke-width="1.2"/>
<text x="316.9" y="496.2" font-size="4.6" font-weight="bold" font-style="normal" fill="#333" text-anchor="end" >3.0</text>
<line x1="318.0" y1="459.7" x2="320.2" y2="459.7" stroke="#000" stroke-width="1.2"/>
<text x="316.9" y="461.7" font-size="4.6" font-weight="bold" font-style="normal" fill="#333" text-anchor="end" >3.5</text>
<line x1="319.3" y1="563.8000000000001" x2="494.3" y2="563.8000000000001" stroke="#000" stroke-width="2"/>
<line x1="494.3" y1="459.7" x2="494.3" y2="564.2" stroke="#F4594E" stroke-width="1.5"/>
<line x1="494.3" y1="563.2" x2="496.3" y2="563.2" stroke="#F4594E" stroke-width="0.8"/>
<text x="497.5" y="565.0" font-size="4.9" font-weight="normal" font-style="normal" fill="#f06a62" text-anchor="start" >0</text>
<line x1="494.3" y1="542.5" x2="496.3" y2="542.5" stroke="#F4594E" stroke-width="0.8"/>
<text x="497.5" y="544.3" font-size="4.9" font-weight="normal" font-style="normal" fill="#f06a62" text-anchor="start" >2</text>
<line x1="494.3" y1="521.8000000000001" x2="496.3" y2="521.8000000000001" stroke="#F4594E" stroke-width="0.8"/>
<text x="497.5" y="523.6" font-size="4.9" font-weight="normal" font-style="normal" fill="#f06a62" text-anchor="start" >4</text>
<line x1="494.3" y1="501.1" x2="496.3" y2="501.1" stroke="#F4594E" stroke-width="0.8"/>
<text x="497.5" y="502.9" font-size="4.9" font-weight="normal" font-style="normal" fill="#f06a62" text-anchor="start" >6</text>
<line x1="494.3" y1="480.4" x2="496.3" y2="480.4" stroke="#F4594E" stroke-width="0.8"/>
<text x="497.5" y="482.2" font-size="4.9" font-weight="normal" font-style="normal" fill="#f06a62" text-anchor="start" >8</text>
<line x1="494.3" y1="459.7" x2="496.3" y2="459.7" stroke="#F4594E" stroke-width="0.8"/>
<text x="497.5" y="461.5" font-size="4.9" font-weight="normal" font-style="normal" fill="#f06a62" text-anchor="start" >10</text>
<text x="335.0" y="569.8" font-size="3.5" font-weight="bold" font-style="normal" fill="#222" text-anchor="middle" >MLS-113</text>
<text x="349.5" y="569.8" font-size="3.5" font-weight="bold" font-style="normal" fill="#222" text-anchor="middle" >MLS-22</text>
<text x="364.0" y="569.8" font-size="3.5" font-weight="bold" font-style="normal" fill="#222" text-anchor="middle" >MLS-102</text>
<text x="378.4" y="569.8" font-size="3.5" font-weight="bold" font-style="normal" fill="#222" text-anchor="middle" >MLS-39</text>
<text x="392.9" y="569.8" font-size="3.5" font-weight="bold" font-style="normal" fill="#222" text-anchor="middle" >MLS-84</text>
<text x="407.4" y="569.8" font-size="3.5" font-weight="bold" font-style="normal" fill="#222" text-anchor="middle" >MLS-60</text>
<text x="421.9" y="569.8" font-size="3.5" font-weight="bold" font-style="normal" fill="#ee2222" text-anchor="middle" >ZW-8</text>
<text x="436.4" y="569.8" font-size="3.5" font-weight="bold" font-style="normal" fill="#ee2222" text-anchor="middle" >ZW-9</text>
<text x="450.8" y="569.8" font-size="3.5" font-weight="bold" font-style="normal" fill="#ee2222" text-anchor="middle" >ZW-4</text>
<text x="465.3" y="569.8" font-size="3.5" font-weight="bold" font-style="normal" fill="#ee2222" text-anchor="middle" >SJ-1</text>
<text x="479.8" y="569.8" font-size="3.5" font-weight="bold" font-style="normal" fill="#ee2222" text-anchor="middle" >ZW-2</text>
<line x1="326.2" y1="567.2" x2="326.2" y2="574.4000000000001" stroke="#444" stroke-width="0.6"/>
<line x1="415.90000000000003" y1="567.2" x2="415.90000000000003" y2="574.4000000000001" stroke="#444" stroke-width="0.6"/>
<line x1="486.8" y1="567.2" x2="486.8" y2="574.4000000000001" stroke="#444" stroke-width="0.6"/>
<text x="365.0" y="575.5" font-size="3.4" font-weight="bold" font-style="normal" fill="#222" text-anchor="middle" >HapC</text>
<text x="446.1" y="575.5" font-size="3.4" font-weight="bold" font-style="normal" fill="#ee2222" text-anchor="middle" >HapD</text>
<text x="325.8" y="463.6" font-size="6.0" font-weight="bold" fill="#111">GCG(<tspan font-weight="normal" font-style="italic">CSS0027172</tspan>)</text>
<rect x="444.4" y="454.25" width="5.7" height="2.7" fill="#08BAC6"/>
<text x="454.0" y="456.9" font-size="5.5" font-weight="bold" font-style="normal" fill="#111" text-anchor="start" >GCG Content</text>
<line x1="444.4" y1="462.2" x2="450.09999999999997" y2="462.2" stroke="#F4594E" stroke-width="1.3"/>
<text x="454.0" y="463.8" font-size="5.5" font-weight="bold" font-style="normal" fill="#111" text-anchor="start" >qRT-PCR</text>
<text transform="translate(294.9,508.95000000000005) rotate(-90)" font-size="9.3" font-weight="bold" fill="#000" text-anchor="middle" dy="3.3">Count(%)</text>
<text transform="translate(511.6,512.95) rotate(90)" font-size="8.1" fill="#F4594E" stroke="#F4594E" stroke-width="0.3" text-anchor="middle" dy="3.0" textLength="98.5" lengthAdjust="spacing">Relative expression level</text>
<rect x="53.8" y="690.4" width="5.4" height="41.6" fill="#08BAC6"/>
<line x1="56.5" y1="690.0" x2="56.5" y2="690.8" stroke="#111" stroke-width="0.9"/>
<line x1="55.6" y1="690.0" x2="57.4" y2="690.0" stroke="#111" stroke-width="0.6"/>
<rect x="68.2" y="684.8" width="5.4" height="47.2" fill="#08BAC6"/>
<line x1="71.0" y1="684.2" x2="71.0" y2="685.4" stroke="#111" stroke-width="0.9"/>
<line x1="70.0" y1="684.2" x2="71.9" y2="684.2" stroke="#111" stroke-width="0.6"/>
<rect x="82.7" y="688.7" width="5.4" height="43.3" fill="#08BAC6"/>
<line x1="85.4" y1="688.3" x2="85.4" y2="689.1" stroke="#111" stroke-width="0.9"/>
<line x1="84.5" y1="688.3" x2="86.3" y2="688.3" stroke="#111" stroke-width="0.6"/>
<rect x="97.1" y="689.2" width="5.4" height="42.8" fill="#08BAC6"/>
<line x1="99.8" y1="688.8" x2="99.8" y2="689.6" stroke="#111" stroke-width="0.9"/>
<line x1="98.9" y1="688.8" x2="100.8" y2="688.8" stroke="#111" stroke-width="0.6"/>
<rect x="111.6" y="689.5" width="5.4" height="42.5" fill="#08BAC6"/>
<line x1="114.3" y1="689.1" x2="114.3" y2="689.9" stroke="#111" stroke-width="0.9"/>
<line x1="113.4" y1="689.1" x2="115.2" y2="689.1" stroke="#111" stroke-width="0.6"/>
<rect x="126.0" y="689.6" width="5.4" height="42.4" fill="#08BAC6"/>
<line x1="128.8" y1="689.2" x2="128.8" y2="690.0" stroke="#111" stroke-width="0.9"/>
<line x1="127.8" y1="689.2" x2="129.7" y2="689.2" stroke="#111" stroke-width="0.6"/>
<rect x="140.5" y="689.6" width="5.4" height="42.4" fill="#08BAC6"/>
<line x1="143.2" y1="689.2" x2="143.2" y2="690.0" stroke="#111" stroke-width="0.9"/>
<line x1="142.3" y1="689.2" x2="144.1" y2="689.2" stroke="#111" stroke-width="0.6"/>
<rect x="154.9" y="638.8" width="5.4" height="93.2" fill="#08BAC6"/>
<rect x="169.4" y="652.4" width="5.4" height="79.6" fill="#08BAC6"/>
<rect x="183.8" y="663.1" width="5.4" height="68.9" fill="#08BAC6"/>
<line x1="186.5" y1="662.4" x2="186.5" y2="663.7" stroke="#111" stroke-width="0.9"/>
<line x1="185.6" y1="662.4" x2="187.4" y2="662.4" stroke="#111" stroke-width="0.6"/>
<rect x="198.3" y="674.5" width="5.4" height="57.5" fill="#08BAC6"/>
<line x1="201.0" y1="674.1" x2="201.0" y2="675.0" stroke="#111" stroke-width="0.9"/>
<line x1="200.1" y1="674.1" x2="201.9" y2="674.1" stroke="#111" stroke-width="0.6"/>
<polyline points="56.5,714.4 71.0,701.2 85.4,726.4 99.8,724.3 114.3,728.1 128.8,702.0 143.2,722.2 157.6,685.2 172.1,648.7 186.5,665.1 201.0,691.4" fill="none" stroke="#F4594E" stroke-width="1.6" stroke-linejoin="round"/>
<line x1="41.7" y1="629.4" x2="41.7" y2="733" stroke="#000" stroke-width="2.1"/>
<line x1="39.5" y1="732.0" x2="41.7" y2="732.0" stroke="#000" stroke-width="1.2"/>
<text x="38.4" y="734.0" font-size="4.6" font-weight="bold" font-style="normal" fill="#333" text-anchor="end" >0.0</text>
<line x1="39.5" y1="711.48" x2="41.7" y2="711.48" stroke="#000" stroke-width="1.2"/>
<text x="38.4" y="713.5" font-size="4.6" font-weight="bold" font-style="normal" fill="#333" text-anchor="end" >0.5</text>
<line x1="39.5" y1="690.96" x2="41.7" y2="690.96" stroke="#000" stroke-width="1.2"/>
<text x="38.4" y="693.0" font-size="4.6" font-weight="bold" font-style="normal" fill="#333" text-anchor="end" >1.0</text>
<line x1="39.5" y1="670.4399999999999" x2="41.7" y2="670.4399999999999" stroke="#000" stroke-width="1.2"/>
<text x="38.4" y="672.4" font-size="4.6" font-weight="bold" font-style="normal" fill="#333" text-anchor="end" >1.5</text>
<line x1="39.5" y1="649.92" x2="41.7" y2="649.92" stroke="#000" stroke-width="1.2"/>
<text x="38.4" y="651.9" font-size="4.6" font-weight="bold" font-style="normal" fill="#333" text-anchor="end" >2.0</text>
<line x1="39.5" y1="629.4" x2="41.7" y2="629.4" stroke="#000" stroke-width="1.2"/>
<text x="38.4" y="631.4" font-size="4.6" font-weight="bold" font-style="normal" fill="#333" text-anchor="end" >2.5</text>
<line x1="40.800000000000004" y1="732.6" x2="216.5" y2="732.6" stroke="#000" stroke-width="2"/>
<line x1="216.5" y1="629.4" x2="216.5" y2="733" stroke="#F4594E" stroke-width="1.5"/>
<line x1="216.5" y1="732.0" x2="218.5" y2="732.0" stroke="#F4594E" stroke-width="0.8"/>
<text x="219.7" y="733.8" font-size="4.9" font-weight="normal" font-style="normal" fill="#f06a62" text-anchor="start" >0</text>
<line x1="216.5" y1="711.48" x2="218.5" y2="711.48" stroke="#F4594E" stroke-width="0.8"/>
<text x="219.7" y="713.3" font-size="4.9" font-weight="normal" font-style="normal" fill="#f06a62" text-anchor="start" >5</text>
<line x1="216.5" y1="690.96" x2="218.5" y2="690.96" stroke="#F4594E" stroke-width="0.8"/>
<text x="219.7" y="692.8" font-size="4.9" font-weight="normal" font-style="normal" fill="#f06a62" text-anchor="start" >10</text>
<line x1="216.5" y1="670.4399999999999" x2="218.5" y2="670.4399999999999" stroke="#F4594E" stroke-width="0.8"/>
<text x="219.7" y="672.2" font-size="4.9" font-weight="normal" font-style="normal" fill="#f06a62" text-anchor="start" >15</text>
<line x1="216.5" y1="649.92" x2="218.5" y2="649.92" stroke="#F4594E" stroke-width="0.8"/>
<text x="219.7" y="651.7" font-size="4.9" font-weight="normal" font-style="normal" fill="#f06a62" text-anchor="start" >20</text>
<line x1="216.5" y1="629.4" x2="218.5" y2="629.4" stroke="#F4594E" stroke-width="0.8"/>
<text x="219.7" y="631.2" font-size="4.9" font-weight="normal" font-style="normal" fill="#f06a62" text-anchor="start" >25</text>
<text x="56.5" y="738.6" font-size="3.5" font-weight="bold" font-style="normal" fill="#222" text-anchor="middle" >MLS-73</text>
<text x="71.0" y="738.6" font-size="3.5" font-weight="bold" font-style="normal" fill="#222" text-anchor="middle" >MLS-22</text>
<text x="85.4" y="738.6" font-size="3.5" font-weight="bold" font-style="normal" fill="#222" text-anchor="middle" >MLS-96</text>
<text x="99.8" y="738.6" font-size="3.5" font-weight="bold" font-style="normal" fill="#222" text-anchor="middle" >MLS-3</text>
<text x="114.3" y="738.6" font-size="3.5" font-weight="bold" font-style="normal" fill="#222" text-anchor="middle" >MLS-44</text>
<text x="128.8" y="738.6" font-size="3.5" font-weight="bold" font-style="normal" fill="#222" text-anchor="middle" >MLS-87</text>
<text x="143.2" y="738.6" font-size="3.5" font-weight="bold" font-style="normal" fill="#222" text-anchor="middle" >MLS-96</text>
<text x="157.6" y="738.6" font-size="3.5" font-weight="bold" font-style="normal" fill="#ee2222" text-anchor="middle" >SJ-6</text>
<text x="172.1" y="738.6" font-size="3.5" font-weight="bold" font-style="normal" fill="#ee2222" text-anchor="middle" >ZW-3</text>
<text x="186.5" y="738.6" font-size="3.5" font-weight="bold" font-style="normal" fill="#ee2222" text-anchor="middle" >ZW-4</text>
<text x="201.0" y="738.6" font-size="3.5" font-weight="bold" font-style="normal" fill="#ee2222" text-anchor="middle" >ZW-6</text>
<line x1="47.7" y1="736" x2="47.7" y2="743.2" stroke="#444" stroke-width="0.6"/>
<line x1="151.7" y1="736" x2="151.7" y2="743.2" stroke="#444" stroke-width="0.6"/>
<line x1="208.0" y1="736" x2="208.0" y2="743.2" stroke="#444" stroke-width="0.6"/>
<text x="100.4" y="744.3" font-size="3.4" font-weight="bold" font-style="normal" fill="#222" text-anchor="middle" >HapE</text>
<text x="177.5" y="744.3" font-size="3.4" font-weight="bold" font-style="normal" fill="#ee2222" text-anchor="middle" >HapF</text>
<text x="50.0" y="633.8" font-size="5.55" font-weight="bold" fill="#111">GC(<tspan font-weight="normal" font-style="italic">CSS0044862</tspan>)</text>
<rect x="166.3" y="623.4499999999999" width="5.7" height="2.7" fill="#08BAC6"/>
<text x="175.8" y="625.9" font-size="5.6" font-weight="bold" font-style="normal" fill="#111" text-anchor="start" >GC Content</text>
<line x1="166.3" y1="632.7" x2="172.0" y2="632.7" stroke="#F4594E" stroke-width="1.3"/>
<text x="175.8" y="634.4" font-size="5.6" font-weight="bold" font-style="normal" fill="#111" text-anchor="start" >qRT-PCR</text>
<text transform="translate(16.8,682.9000000000001) rotate(-90)" font-size="9.3" font-weight="bold" fill="#000" text-anchor="middle" dy="3.3">Count(%)</text>
<text transform="translate(232.9,682.3000000000001) rotate(90)" font-size="8.1" fill="#F4594E" stroke="#F4594E" stroke-width="0.3" text-anchor="middle" dy="3.0" textLength="98.5" lengthAdjust="spacing">Relative expression level</text>
<rect x="329.0" y="703.5" width="5.4" height="29.0" fill="#08BAC6"/>
<rect x="343.8" y="696.8" width="5.4" height="35.7" fill="#08BAC6"/>
<line x1="346.5" y1="696.2" x2="346.5" y2="697.3" stroke="#111" stroke-width="0.9"/>
<line x1="345.6" y1="696.2" x2="347.4" y2="696.2" stroke="#111" stroke-width="0.6"/>
<rect x="358.6" y="701.3" width="5.4" height="31.2" fill="#08BAC6"/>
<line x1="361.3" y1="700.8" x2="361.3" y2="701.9" stroke="#111" stroke-width="0.9"/>
<line x1="360.4" y1="700.8" x2="362.2" y2="700.8" stroke="#111" stroke-width="0.6"/>
<rect x="373.4" y="698.9" width="5.4" height="33.6" fill="#08BAC6"/>
<line x1="376.1" y1="698.2" x2="376.1" y2="699.6" stroke="#111" stroke-width="0.9"/>
<line x1="375.2" y1="698.2" x2="377.0" y2="698.2" stroke="#111" stroke-width="0.6"/>
<rect x="388.2" y="695.7" width="5.4" height="36.8" fill="#08BAC6"/>
<line x1="390.9" y1="694.8" x2="390.9" y2="696.6" stroke="#111" stroke-width="0.9"/>
<line x1="390.0" y1="694.8" x2="391.8" y2="694.8" stroke="#111" stroke-width="0.6"/>
<rect x="403.1" y="702.8" width="5.4" height="29.7" fill="#08BAC6"/>
<line x1="405.8" y1="702.2" x2="405.8" y2="703.3" stroke="#111" stroke-width="0.9"/>
<line x1="404.9" y1="702.2" x2="406.6" y2="702.2" stroke="#111" stroke-width="0.6"/>
<rect x="417.9" y="699.2" width="5.4" height="33.3" fill="#08BAC6"/>
<line x1="420.6" y1="698.2" x2="420.6" y2="700.3" stroke="#111" stroke-width="0.9"/>
<line x1="419.7" y1="698.2" x2="421.5" y2="698.2" stroke="#111" stroke-width="0.6"/>
<rect x="432.7" y="647.1" width="5.4" height="85.4" fill="#08BAC6"/>
<rect x="447.5" y="636.1" width="5.4" height="96.4" fill="#08BAC6"/>
<rect x="462.3" y="648.4" width="5.4" height="84.1" fill="#08BAC6"/>
<rect x="477.1" y="648.4" width="5.4" height="84.1" fill="#08BAC6"/>
<polyline points="331.7,714.5 346.5,709.9 361.3,706.7 376.1,710.5 390.9,721.5 405.8,716.9 420.6,711.6 435.4,655.8 450.2,666.0 465.0,669.1 479.8,667.2" fill="none" stroke="#F4594E" stroke-width="1.6" stroke-linejoin="round"/>
<line x1="317.2" y1="626.9" x2="317.2" y2="733.5" stroke="#000" stroke-width="2.1"/>
<line x1="315.0" y1="732.5" x2="317.2" y2="732.5" stroke="#000" stroke-width="1.2"/>
<text x="313.9" y="734.5" font-size="4.6" font-weight="bold" font-style="normal" fill="#333" text-anchor="end" >0</text>
<line x1="315.0" y1="697.3" x2="317.2" y2="697.3" stroke="#000" stroke-width="1.2"/>
<text x="313.9" y="699.3" font-size="4.6" font-weight="bold" font-style="normal" fill="#333" text-anchor="end" >2</text>
<line x1="315.0" y1="662.1" x2="317.2" y2="662.1" stroke="#000" stroke-width="1.2"/>
<text x="313.9" y="664.1" font-size="4.6" font-weight="bold" font-style="normal" fill="#333" text-anchor="end" >4</text>
<line x1="315.0" y1="626.9" x2="317.2" y2="626.9" stroke="#000" stroke-width="1.2"/>
<text x="313.9" y="628.9" font-size="4.6" font-weight="bold" font-style="normal" fill="#333" text-anchor="end" >6</text>
<line x1="316.3" y1="733.1" x2="494.5" y2="733.1" stroke="#000" stroke-width="2"/>
<line x1="494.5" y1="626.9" x2="494.5" y2="733.5" stroke="#F4594E" stroke-width="1.5"/>
<line x1="494.5" y1="732.5" x2="496.5" y2="732.5" stroke="#F4594E" stroke-width="0.8"/>
<text x="497.7" y="734.3" font-size="4.9" font-weight="normal" font-style="normal" fill="#f06a62" text-anchor="start" >0</text>
<line x1="494.5" y1="711.38" x2="496.5" y2="711.38" stroke="#F4594E" stroke-width="0.8"/>
<text x="497.7" y="713.2" font-size="4.9" font-weight="normal" font-style="normal" fill="#f06a62" text-anchor="start" >1</text>
<line x1="494.5" y1="690.26" x2="496.5" y2="690.26" stroke="#F4594E" stroke-width="0.8"/>
<text x="497.7" y="692.1" font-size="4.9" font-weight="normal" font-style="normal" fill="#f06a62" text-anchor="start" >2</text>
<line x1="494.5" y1="669.14" x2="496.5" y2="669.14" stroke="#F4594E" stroke-width="0.8"/>
<text x="497.7" y="670.9" font-size="4.9" font-weight="normal" font-style="normal" fill="#f06a62" text-anchor="start" >3</text>
<line x1="494.5" y1="648.02" x2="496.5" y2="648.02" stroke="#F4594E" stroke-width="0.8"/>
<text x="497.7" y="649.8" font-size="4.9" font-weight="normal" font-style="normal" fill="#f06a62" text-anchor="start" >4</text>
<line x1="494.5" y1="626.9" x2="496.5" y2="626.9" stroke="#F4594E" stroke-width="0.8"/>
<text x="497.7" y="628.7" font-size="4.9" font-weight="normal" font-style="normal" fill="#f06a62" text-anchor="start" >5</text>
<text x="331.7" y="739.1" font-size="3.5" font-weight="bold" font-style="normal" fill="#222" text-anchor="middle" >MLS-114</text>
<text x="346.5" y="739.1" font-size="3.5" font-weight="bold" font-style="normal" fill="#222" text-anchor="middle" >MLS-22</text>
<text x="361.3" y="739.1" font-size="3.5" font-weight="bold" font-style="normal" fill="#222" text-anchor="middle" >MLS-7</text>
<text x="376.1" y="739.1" font-size="3.5" font-weight="bold" font-style="normal" fill="#222" text-anchor="middle" >MLS-08</text>
<text x="390.9" y="739.1" font-size="3.5" font-weight="bold" font-style="normal" fill="#222" text-anchor="middle" >MLS-110</text>
<text x="405.8" y="739.1" font-size="3.5" font-weight="bold" font-style="normal" fill="#222" text-anchor="middle" >MLS-1</text>
<text x="420.6" y="739.1" font-size="3.5" font-weight="bold" font-style="normal" fill="#222" text-anchor="middle" >MLS-69</text>
<text x="435.4" y="739.1" font-size="3.5" font-weight="bold" font-style="normal" fill="#ee2222" text-anchor="middle" >SJ-4</text>
<text x="450.2" y="739.1" font-size="3.5" font-weight="bold" font-style="normal" fill="#ee2222" text-anchor="middle" >SJ-5</text>
<text x="465.0" y="739.1" font-size="3.5" font-weight="bold" font-style="normal" fill="#ee2222" text-anchor="middle" >ZW-5</text>
<text x="479.8" y="739.1" font-size="3.5" font-weight="bold" font-style="normal" fill="#ee2222" text-anchor="middle" >ZW-6</text>
<line x1="323.2" y1="736.5" x2="323.2" y2="743.7" stroke="#444" stroke-width="0.6"/>
<line x1="429.06" y1="736.5" x2="429.06" y2="743.7" stroke="#444" stroke-width="0.6"/>
<line x1="486.8" y1="736.5" x2="486.8" y2="743.7" stroke="#444" stroke-width="0.6"/>
<text x="374.5" y="744.8" font-size="3.4" font-weight="bold" font-style="normal" fill="#222" text-anchor="middle" >HapG</text>
<text x="457.5" y="744.8" font-size="3.4" font-weight="bold" font-style="normal" fill="#ee2222" text-anchor="middle" >HapH</text>
<text x="326.0" y="630.8" font-size="5.9" font-weight="bold" fill="#111">CAF(<tspan font-weight="normal" font-style="italic">CSS0039426</tspan>)</text>
<rect x="444.4" y="622.85" width="5.7" height="2.7" fill="#08BAC6"/>
<text x="451.5" y="625.9" font-size="5.5" font-weight="bold" font-style="normal" fill="#111" text-anchor="start" >CAF Content</text>
<line x1="444.4" y1="632.0" x2="450.09999999999997" y2="632.0" stroke="#F4594E" stroke-width="1.3"/>
<text x="451.5" y="633.8" font-size="5.5" font-weight="bold" font-style="normal" fill="#111" text-anchor="start" >qRT-PCR</text>
<text transform="translate(294.9,679.2) rotate(-90)" font-size="9.3" font-weight="bold" fill="#000" text-anchor="middle" dy="3.3">Count(%)</text>
<text transform="translate(511.3,682.1) rotate(90)" font-size="8.1" fill="#F4594E" stroke="#F4594E" stroke-width="0.3" text-anchor="middle" dy="3.0" textLength="98.5" lengthAdjust="spacing">Relative expression level</text>
<text x="14.8" y="758.2" font-size="9.2" font-weight="bold" font-style="normal" fill="#000" text-anchor="start" >Legend:</text>
<text x="63.6" y="758.0" font-size="7" font-weight="bold" font-style="normal" fill="#000" text-anchor="start" >5'</text>
<text x="134.9" y="758.0" font-size="7" font-weight="bold" font-style="normal" fill="#000" text-anchor="start" >3'</text>
<text x="219.6" y="758.0" font-size="7" font-weight="bold" font-style="normal" fill="#000" text-anchor="start" >5'</text>
<text x="296.7" y="758.0" font-size="7" font-weight="bold" font-style="normal" fill="#000" text-anchor="start" >3'</text>
<rect x="14.8" y="768.2" width="10.6" height="3.3" rx="1.6" fill="#C0A404"/>
<text x="31.0" y="772.0" font-size="7.2" font-weight="bold" font-style="normal" fill="#222" text-anchor="start" >Exon</text>
<rect x="74.1" y="768.2" width="32.3" height="3.3" rx="1.6" fill="#C0A404"/>
<text x="115.0" y="772.0" font-size="7.2" font-weight="bold" font-style="normal" fill="#222" text-anchor="start" >1 kb</text>
<line x1="167.7" y1="770" x2="181" y2="770" stroke="#333" stroke-width="1.3"/>
<text x="189.4" y="772.0" font-size="7.2" font-weight="bold" font-style="normal" fill="#222" text-anchor="start" >Intron</text>
<line x1="228.3" y1="770" x2="263.5" y2="770" stroke="#333" stroke-width="1.3"/>
<text x="280.8" y="772.0" font-size="7.2" font-weight="bold" font-style="normal" fill="#222" text-anchor="start" >1 kb</text>
</svg></body></html>
